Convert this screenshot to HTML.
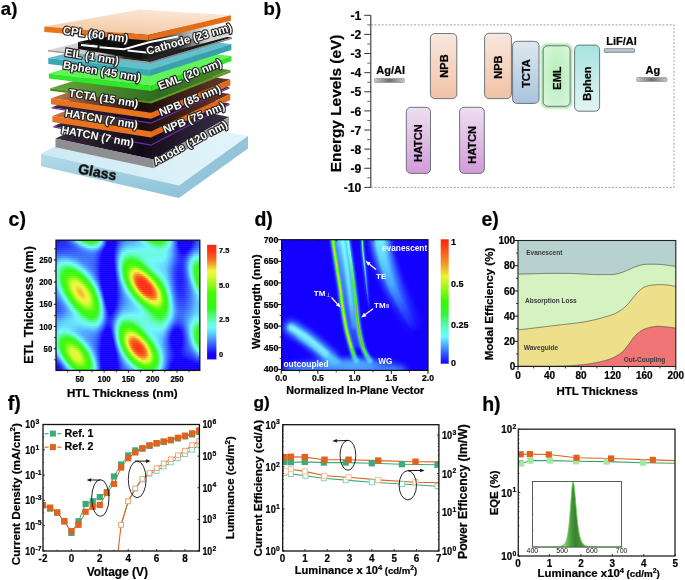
<!DOCTYPE html>
<html><head><meta charset="utf-8"><title>OLED figure</title>
<style>html,body{margin:0;padding:0;background:#fff;overflow:hidden}svg{display:block}text[font-weight="bold"]:not([stroke]):not([fill]){stroke:#000;stroke-width:0.22px}</style>
</head><body>
<svg width="685" height="580" viewBox="0 0 685 580" font-family="'Liberation Sans', Arial, sans-serif">
<rect width="685" height="580" fill="#fff"/>
<text x="0.8" y="14.7" font-size="18.6" font-weight="bold">a)</text>
<defs>
<linearGradient id="aCPLt" x1="0" y1="1" x2="0.3" y2="0"><stop offset="0" stop-color="#f4c49c"/><stop offset="1" stop-color="#fbe4d2"/></linearGradient>
<linearGradient id="aEIL" x1="0" y1="0" x2="1" y2="0"><stop offset="0" stop-color="#dcdcdc"/><stop offset="0.3" stop-color="#c4c4c4"/><stop offset="0.42" stop-color="#2a2a2a"/><stop offset="1" stop-color="#151515"/></linearGradient>
<linearGradient id="aCathT" x1="0" y1="0" x2="1" y2="0"><stop offset="0" stop-color="#0a0a0a"/><stop offset="0.5" stop-color="#111"/><stop offset="0.68" stop-color="#9a9a9a"/><stop offset="0.82" stop-color="#e8e8e8"/><stop offset="1" stop-color="#f4f4f4"/></linearGradient>
<linearGradient id="aGlf" x1="0" y1="0" x2="0" y2="1"><stop offset="0" stop-color="#b2dcec"/><stop offset="1" stop-color="#8cc0d6"/></linearGradient>
<linearGradient id="aGlt" x1="0" y1="0" x2="1" y2="0"><stop offset="0" stop-color="#cde9f3"/><stop offset="1" stop-color="#e2f4fa"/></linearGradient>
<linearGradient id="aDark" x1="0" y1="0" x2="1" y2="0"><stop offset="0" stop-color="#3a2a3a"/><stop offset="0.5" stop-color="#120a18"/><stop offset="1" stop-color="#3a3048"/></linearGradient>
<linearGradient id="aCathR" x1="0" y1="0" x2="1" y2="0"><stop offset="0" stop-color="#151515"/><stop offset="0.4" stop-color="#2a2a2a"/><stop offset="0.7" stop-color="#cfcfcf"/><stop offset="1" stop-color="#e0e0e0"/></linearGradient>
<linearGradient id="aTCTAt" x1="0" y1="0" x2="1" y2="0"><stop offset="0" stop-color="#6aa83a"/><stop offset="0.6" stop-color="#2f6a20"/><stop offset="1" stop-color="#4f8a2a"/></linearGradient>
<linearGradient id="aNPBt" x1="0" y1="0" x2="1" y2="0"><stop offset="0" stop-color="#c87a4a"/><stop offset="0.5" stop-color="#1a0c08"/><stop offset="1" stop-color="#6a3a28"/></linearGradient>
</defs>
<polygon points="41.2,153.7 118,112 248,136.1 179,185.5" fill="url(#aGlt)"/><polygon points="41.2,153.7 179,185.5 179,198 41.2,166.2" fill="url(#aGlf)"/><polygon points="179,185.5 248,136.1 248,148.6 179,198" fill="#93c4da"/>
<polygon points="55.5,138.5 142.9,98.5 229,117 153.6,159.5" fill="url(#aDark)"/><polygon points="55.5,138.5 153.6,159.5 153.6,168.3 55.5,147.3" fill="#8e8e92"/><polygon points="153.6,159.5 229,117 229,125.8 153.6,168.3" fill="#9c9ca2"/>
<polygon points="53.3,126.2 143.8,87.8 229.5,103.6 151,144.5" fill="url(#aDark)"/><polygon points="53.3,126.2 151,144.5 151,145.8 53.3,127.5" fill="#6a2cb4"/><polygon points="151,144.5 229.5,103.6 229.5,104.9 151,145.8" fill="#6a2cb4"/>
<polygon points="52.4,115.9 143.7,81.1 230.3,94.1 151,131.4" fill="url(#aNPBt)"/><polygon points="52.4,115.9 151,131.4 151,137.4 52.4,121.9" fill="#e8721f"/><polygon points="151,131.4 230.3,94.1 230.3,100.1 151,137.4" fill="#e06a1a"/>
<polygon points="51.6,107.2 142.1,74.4 229.5,87.2 151,122.5" fill="url(#aDark)"/><polygon points="51.6,107.2 151,122.5 151,123.8 51.6,108.5" fill="#6a2cb4"/><polygon points="151,122.5 229.5,87.2 229.5,88.5 151,123.8" fill="#6a2cb4"/>
<polygon points="51,98.3 142.3,67.5 230.3,79.5 151,112.8" fill="url(#aNPBt)"/><polygon points="51,98.3 151,112.8 151,118.8 51,104.3" fill="#e8721f"/><polygon points="151,112.8 230.3,79.5 230.3,85.5 151,118.8" fill="#e06a1a"/>
<polygon points="50.2,88.2 141.7,59.7 230.5,70 151,101" fill="url(#aTCTAt)"/><polygon points="50.2,88.2 151,101 151,103.6 50.2,90.8" fill="#4d8c22"/><polygon points="151,101 230.5,70 230.5,72.6 151,103.6" fill="#5a9a26"/>
<polygon points="48.9,73.5 140.9,46 231.4,56 151.4,86" fill="#62f25a"/><polygon points="48.9,73.5 151.4,86 151.4,91 48.9,78.5" fill="#30e82a"/><polygon points="151.4,86 231.4,56 231.4,61 151.4,91" fill="#2ee02a"/>
<polygon points="48.3,58 142,34.5 231.4,44 149.7,70" fill="#63bfcb"/><polygon points="48.3,58 149.7,70 149.7,76 48.3,64" fill="#3aa6b6"/><polygon points="149.7,70 231.4,44 231.4,50 149.7,76" fill="#39a0b0"/>
<polygon points="47.9,50 141.9,28 232,37.5 150,62" fill="url(#aEIL)"/><polygon points="47.9,50 150,62 150,63.5 47.9,51.5" fill="#9a9a9a"/><polygon points="150,62 232,37.5 232,39 150,63.5" fill="#888"/>
<polygon points="78,42 181,20.5 233,28.5 142,52.5" fill="url(#aCathT)"/><polygon points="78,42 142,52.5 142,59.5 78,49" fill="#111"/><polygon points="142,52.5 233,28.5 233,35.5 142,59.5" fill="url(#aCathR)"/>
<polyline points="81,45 97.5,46.6" fill="none" stroke="#fff" stroke-width="2.2" />
<polyline points="99.5,47.2 124,49.3 150,42 178,36.5" fill="none" stroke="#fff" stroke-width="2" />
<polyline points="127.5,50.6 146.5,52.6 175,45.3" fill="none" stroke="#f4f4f4" stroke-width="2" />
<polygon points="44.3,26.5 140.4,9.5 230.9,15.2 148.4,35" fill="url(#aCPLt)"/><polygon points="44.3,26.5 148.4,35 148.4,40.5 44.3,32" fill="#e8731e"/><polygon points="148.4,35 230.9,15.2 230.9,20.7 148.4,40.5" fill="#e46c18"/>
<text x="62.5" y="34" font-size="11.3" font-weight="bold" fill="#fff" stroke="#222" stroke-width="2.2" stroke-linejoin="round" paint-order="stroke" transform="rotate(7.5 62.5 34)">CPL (60 nm)</text>
<text x="147.5" y="55" font-size="11.3" font-weight="bold" fill="#fff" stroke="#222" stroke-width="2.2" stroke-linejoin="round" paint-order="stroke" transform="rotate(-16 147.5 55)">Cathode (23 nm)</text>
<text x="64.5" y="56" font-size="11.3" font-weight="bold" fill="#fff" stroke="#222" stroke-width="2.2" stroke-linejoin="round" paint-order="stroke" transform="rotate(9 64.5 56)">EIL (1 nm)</text>
<text x="62.5" y="68.5" font-size="11.3" font-weight="bold" fill="#fff" stroke="#222" stroke-width="2.2" stroke-linejoin="round" paint-order="stroke" transform="rotate(9.5 62.5 68.5)">Bphen (45 nm)</text>
<text x="160" y="90" font-size="11.3" font-weight="bold" fill="#fff" stroke="#222" stroke-width="2.2" stroke-linejoin="round" paint-order="stroke" transform="rotate(-21 160 90)">EML (20 nm)</text>
<text x="68.3" y="96.4" font-size="11" font-weight="bold" fill="#fff" stroke="#222" stroke-width="2.2" stroke-linejoin="round" paint-order="stroke" transform="rotate(9 68.3 96.4)">TCTA (15 nm)</text>
<text x="161" y="116.3" font-size="11" font-weight="bold" fill="#fff" stroke="#222" stroke-width="2.2" stroke-linejoin="round" paint-order="stroke" transform="rotate(-22 161 116.3)">NPB (85 nm)</text>
<text x="64.5" y="116.5" font-size="11" font-weight="bold" fill="#fff" stroke="#222" stroke-width="2.2" stroke-linejoin="round" paint-order="stroke" transform="rotate(9.5 64.5 116.5)">HATCN (7 nm)</text>
<text x="165" y="133.5" font-size="11" font-weight="bold" fill="#fff" stroke="#222" stroke-width="2.2" stroke-linejoin="round" paint-order="stroke" transform="rotate(-22 165 133.5)">NPB (75 nm)</text>
<text x="60.7" y="133.3" font-size="11" font-weight="bold" fill="#fff" stroke="#222" stroke-width="2.2" stroke-linejoin="round" paint-order="stroke" transform="rotate(10.5 60.7 133.3)">HATCN (7 nm)</text>
<text x="155.5" y="165.5" font-size="11" font-weight="bold" fill="#fff" stroke="#222" stroke-width="2.2" stroke-linejoin="round" paint-order="stroke" transform="rotate(-28 155.5 165.5)">Anode (120 nm)</text>
<text x="77.5" y="173.2" font-size="14.2" font-weight="bold" fill="#111" stroke="#666" stroke-width="0.9" stroke-linejoin="round" paint-order="stroke" transform="rotate(11 77.5 173.2)">Glass</text>
<text x="263.6" y="14.8" font-size="18.6" font-weight="bold">b)</text>
<path d="M370.8 24.86 H674 V187.38 H370.8" fill="none" stroke="#7a8a99" stroke-width="0.8" stroke-dasharray="2 1.6"/>
<line x1="370.8" y1="15.3" x2="370.8" y2="187.38" stroke="#333" stroke-width="1.1" />
<line x1="364.3" y1="15.3" x2="370.8" y2="15.3" stroke="#333" stroke-width="1" />
<text x="361.4" y="19.9" font-size="13.4" font-weight="bold" text-anchor="end" textLength="10.84" lengthAdjust="spacingAndGlyphs">-1</text>
<line x1="367.3" y1="24.86" x2="370.8" y2="24.86" stroke="#555" stroke-width="0.9" />
<line x1="364.3" y1="34.42" x2="370.8" y2="34.42" stroke="#333" stroke-width="1" />
<text x="361.4" y="39.02" font-size="13.4" font-weight="bold" text-anchor="end" textLength="10.84" lengthAdjust="spacingAndGlyphs">-2</text>
<line x1="367.3" y1="43.98" x2="370.8" y2="43.98" stroke="#555" stroke-width="0.9" />
<line x1="364.3" y1="53.54" x2="370.8" y2="53.54" stroke="#333" stroke-width="1" />
<text x="361.4" y="58.14" font-size="13.4" font-weight="bold" text-anchor="end" textLength="10.84" lengthAdjust="spacingAndGlyphs">-3</text>
<line x1="367.3" y1="63.1" x2="370.8" y2="63.1" stroke="#555" stroke-width="0.9" />
<line x1="364.3" y1="72.66" x2="370.8" y2="72.66" stroke="#333" stroke-width="1" />
<text x="361.4" y="77.26" font-size="13.4" font-weight="bold" text-anchor="end" textLength="10.84" lengthAdjust="spacingAndGlyphs">-4</text>
<line x1="367.3" y1="82.22" x2="370.8" y2="82.22" stroke="#555" stroke-width="0.9" />
<line x1="364.3" y1="91.78" x2="370.8" y2="91.78" stroke="#333" stroke-width="1" />
<text x="361.4" y="96.38" font-size="13.4" font-weight="bold" text-anchor="end" textLength="10.84" lengthAdjust="spacingAndGlyphs">-5</text>
<line x1="367.3" y1="101.34" x2="370.8" y2="101.34" stroke="#555" stroke-width="0.9" />
<line x1="364.3" y1="110.9" x2="370.8" y2="110.9" stroke="#333" stroke-width="1" />
<text x="361.4" y="115.5" font-size="13.4" font-weight="bold" text-anchor="end" textLength="10.84" lengthAdjust="spacingAndGlyphs">-6</text>
<line x1="367.3" y1="120.46" x2="370.8" y2="120.46" stroke="#555" stroke-width="0.9" />
<line x1="364.3" y1="130.02" x2="370.8" y2="130.02" stroke="#333" stroke-width="1" />
<text x="361.4" y="134.62" font-size="13.4" font-weight="bold" text-anchor="end" textLength="10.84" lengthAdjust="spacingAndGlyphs">-7</text>
<line x1="367.3" y1="139.58" x2="370.8" y2="139.58" stroke="#555" stroke-width="0.9" />
<line x1="364.3" y1="149.14" x2="370.8" y2="149.14" stroke="#333" stroke-width="1" />
<text x="361.4" y="153.74" font-size="13.4" font-weight="bold" text-anchor="end" textLength="10.84" lengthAdjust="spacingAndGlyphs">-8</text>
<line x1="367.3" y1="158.7" x2="370.8" y2="158.7" stroke="#555" stroke-width="0.9" />
<line x1="364.3" y1="168.26" x2="370.8" y2="168.26" stroke="#333" stroke-width="1" />
<text x="361.4" y="172.86" font-size="13.4" font-weight="bold" text-anchor="end" textLength="10.84" lengthAdjust="spacingAndGlyphs">-9</text>
<line x1="367.3" y1="177.82" x2="370.8" y2="177.82" stroke="#555" stroke-width="0.9" />
<line x1="364.3" y1="187.38" x2="370.8" y2="187.38" stroke="#333" stroke-width="1" />
<text x="361.4" y="191.98" font-size="13.4" font-weight="bold" text-anchor="end" textLength="17.62" lengthAdjust="spacingAndGlyphs">-10</text>
<text x="341" y="103.4" font-size="15.4" font-weight="bold" text-anchor="middle" transform="rotate(-90 341 103.4)">Energy Levels (eV)</text>
<defs>
<linearGradient id="gNPB" x1="0" y1="0" x2="0" y2="1"><stop offset="0" stop-color="#f9e7de"/><stop offset="1" stop-color="#f2c2a6"/></linearGradient>
<linearGradient id="gHAT" x1="0" y1="0" x2="0" y2="1"><stop offset="0" stop-color="#ede0f1"/><stop offset="1" stop-color="#d39bd9"/></linearGradient>
<linearGradient id="gTCTA" x1="0" y1="0" x2="0" y2="1"><stop offset="0" stop-color="#dfe8f0"/><stop offset="1" stop-color="#a8c4dc"/></linearGradient>
<radialGradient id="gEML" cx="0.5" cy="0.5" r="0.7"><stop offset="0" stop-color="#b2eeb6"/><stop offset="1" stop-color="#dcf6de"/></radialGradient>
<linearGradient id="gBph" x1="0" y1="0" x2="0" y2="1"><stop offset="0" stop-color="#a6e3df"/><stop offset="1" stop-color="#e2f5f3"/></linearGradient>
<linearGradient id="gMet" x1="0" y1="0" x2="1" y2="0"><stop offset="0" stop-color="#c9cdd0"/><stop offset="0.5" stop-color="#6c7074"/><stop offset="1" stop-color="#c9cdd0"/></linearGradient>
<linearGradient id="gLiF" x1="0" y1="0" x2="0" y2="1"><stop offset="0" stop-color="#c5d0d8"/><stop offset="1" stop-color="#a9b6c0"/></linearGradient>
<filter id="glow" x="-30%" y="-30%" width="160%" height="160%"><feGaussianBlur stdDeviation="1.2"/></filter>
</defs>
<rect x="430.4" y="33.5" width="26.4" height="65.1" rx="4.5" fill="url(#gNPB)" stroke="#5f6870" stroke-width="0.9"/><text x="447.5" y="66" font-size="11" font-weight="bold" text-anchor="middle" transform="rotate(-90 447.5 66)">NPB</text>
<rect x="406.3" y="107.3" width="24.2" height="66.1" rx="4.5" fill="url(#gHAT)" stroke="#5f6870" stroke-width="0.9"/><text x="422.3" y="143.2" font-size="11" font-weight="bold" text-anchor="middle" transform="rotate(-90 422.3 143.2)">HATCN</text>
<rect x="459.6" y="107.3" width="24.7" height="66.1" rx="4.5" fill="url(#gHAT)" stroke="#5f6870" stroke-width="0.9"/><text x="475.85" y="144.9" font-size="11" font-weight="bold" text-anchor="middle" transform="rotate(-90 475.85 144.9)">HATCN</text>
<rect x="484.6" y="33.3" width="26.8" height="65.3" rx="4.5" fill="url(#gNPB)" stroke="#5f6870" stroke-width="0.9"/><text x="501.9" y="67.1" font-size="11" font-weight="bold" text-anchor="middle" transform="rotate(-90 501.9 67.1)">NPB</text>
<rect x="512.6" y="41.3" width="26.4" height="62.1" rx="4.5" fill="url(#gTCTA)" stroke="#5f6870" stroke-width="0.9"/><text x="529.7" y="73.6" font-size="11" font-weight="bold" text-anchor="middle" transform="rotate(-90 529.7 73.6)">TCTA</text>
<rect x="542.3" y="44.9" width="28.7" height="62.3" rx="5" fill="none" stroke="#8fe28f" stroke-width="2.2" filter="url(#glow)"/>
<rect x="543.2" y="45.8" width="26.9" height="60.5" rx="4.5" fill="url(#gEML)" stroke="#5f6870" stroke-width="0.9"/><text x="560.55" y="78" font-size="11" font-weight="bold" text-anchor="middle" transform="rotate(-90 560.55 78)">EML</text>
<rect x="574.6" y="45.1" width="25" height="66.1" rx="4.5" fill="url(#gBph)" stroke="#5f6870" stroke-width="0.9"/><text x="591" y="83.5" font-size="11" font-weight="bold" text-anchor="middle" transform="rotate(-90 591 83.5)">Bphen</text>
<rect x="374.4" y="78.6" width="30" height="3.8" rx="1" fill="url(#gMet)" stroke="#6a737a" stroke-width="0.5"/>
<text x="376.3" y="73.5" font-size="11" font-weight="bold">Ag/Al</text>
<rect x="604.2" y="48.6" width="30.4" height="3.8" rx="1" fill="url(#gLiF)" stroke="#5a6670" stroke-width="0.6"/>
<text x="606.2" y="45.3" font-size="11" font-weight="bold">LiF/Al</text>
<rect x="636.7" y="77.6" width="30.3" height="3.8" rx="1" fill="url(#gMet)" stroke="#6a737a" stroke-width="0.5"/>
<text x="645.5" y="74.1" font-size="11" font-weight="bold">Ag</text>
<text x="8.6" y="225.8" font-size="19.5" font-weight="bold">c)</text>
<defs>
<linearGradient id="hc0" x1="0" x2="1" y1="0" y2="0"><stop offset="0.000" stop-color="#1f1fff"/><stop offset="0.058" stop-color="#242dff"/><stop offset="0.089" stop-color="#3150ff"/><stop offset="0.115" stop-color="#478fff"/><stop offset="0.147" stop-color="#6df6fc"/><stop offset="0.168" stop-color="#5ffaaf"/><stop offset="0.188" stop-color="#40f84d"/><stop offset="0.204" stop-color="#33f817"/><stop offset="0.257" stop-color="#37f910"/><stop offset="0.272" stop-color="#32f814"/><stop offset="0.288" stop-color="#43f858"/><stop offset="0.309" stop-color="#69fade"/><stop offset="0.314" stop-color="#6ef9fc"/><stop offset="0.325" stop-color="#5bc3ff"/><stop offset="0.346" stop-color="#2839ff"/><stop offset="0.356" stop-color="#1503ff"/><stop offset="0.414" stop-color="#1400ff"/><stop offset="0.455" stop-color="#3a6bff"/><stop offset="0.487" stop-color="#4993ff"/><stop offset="0.555" stop-color="#55b4ff"/><stop offset="0.602" stop-color="#6dfaf7"/><stop offset="0.623" stop-color="#61fab5"/><stop offset="0.649" stop-color="#3ef843"/><stop offset="0.665" stop-color="#33f814"/><stop offset="0.728" stop-color="#38f910"/><stop offset="0.743" stop-color="#33f813"/><stop offset="0.754" stop-color="#39f832"/><stop offset="0.770" stop-color="#4ef97b"/><stop offset="0.785" stop-color="#67fad1"/><stop offset="0.796" stop-color="#6df8fc"/><stop offset="0.812" stop-color="#57b9ff"/><stop offset="0.843" stop-color="#2227ff"/><stop offset="0.853" stop-color="#1400ff"/><stop offset="0.948" stop-color="#1504ff"/><stop offset="0.979" stop-color="#2f4bff"/><stop offset="1.000" stop-color="#365fff"/></linearGradient>
<linearGradient id="hc1" x1="0" x2="1" y1="0" y2="0"><stop offset="0.000" stop-color="#1f20ff"/><stop offset="0.068" stop-color="#252fff"/><stop offset="0.099" stop-color="#304fff"/><stop offset="0.126" stop-color="#4385ff"/><stop offset="0.162" stop-color="#6bf0fd"/><stop offset="0.168" stop-color="#6dfaf8"/><stop offset="0.194" stop-color="#5af99f"/><stop offset="0.215" stop-color="#43f859"/><stop offset="0.236" stop-color="#3af835"/><stop offset="0.251" stop-color="#39f831"/><stop offset="0.267" stop-color="#3ff846"/><stop offset="0.283" stop-color="#4df879"/><stop offset="0.304" stop-color="#6afae2"/><stop offset="0.309" stop-color="#6efafc"/><stop offset="0.319" stop-color="#5fcdff"/><stop offset="0.346" stop-color="#242eff"/><stop offset="0.356" stop-color="#1400ff"/><stop offset="0.414" stop-color="#1503ff"/><stop offset="0.450" stop-color="#3b6dff"/><stop offset="0.476" stop-color="#4b99ff"/><stop offset="0.524" stop-color="#55b3ff"/><stop offset="0.576" stop-color="#5fccff"/><stop offset="0.613" stop-color="#6ef9fc"/><stop offset="0.639" stop-color="#64fabe"/><stop offset="0.670" stop-color="#41f850"/><stop offset="0.696" stop-color="#34f81b"/><stop offset="0.723" stop-color="#32f815"/><stop offset="0.743" stop-color="#3bf837"/><stop offset="0.759" stop-color="#47f867"/><stop offset="0.785" stop-color="#69fadb"/><stop offset="0.796" stop-color="#6cf3fc"/><stop offset="0.812" stop-color="#57b8ff"/><stop offset="0.848" stop-color="#1c16ff"/><stop offset="0.853" stop-color="#1503ff"/><stop offset="0.942" stop-color="#1400ff"/><stop offset="0.979" stop-color="#3152ff"/><stop offset="1.000" stop-color="#3865ff"/></linearGradient>
<linearGradient id="hc2" x1="0" x2="1" y1="0" y2="0"><stop offset="0.000" stop-color="#2124ff"/><stop offset="0.073" stop-color="#2632ff"/><stop offset="0.115" stop-color="#3355ff"/><stop offset="0.147" stop-color="#4891ff"/><stop offset="0.178" stop-color="#65e0fe"/><stop offset="0.194" stop-color="#6dfaf5"/><stop offset="0.236" stop-color="#5af9a0"/><stop offset="0.251" stop-color="#57f996"/><stop offset="0.267" stop-color="#5bf9a4"/><stop offset="0.293" stop-color="#6bfae9"/><stop offset="0.298" stop-color="#6efafc"/><stop offset="0.314" stop-color="#5abfff"/><stop offset="0.346" stop-color="#1c18ff"/><stop offset="0.351" stop-color="#1401ff"/><stop offset="0.408" stop-color="#1400ff"/><stop offset="0.450" stop-color="#407cff"/><stop offset="0.476" stop-color="#52abff"/><stop offset="0.518" stop-color="#5cc5ff"/><stop offset="0.602" stop-color="#66e1fe"/><stop offset="0.628" stop-color="#6efafa"/><stop offset="0.665" stop-color="#60fab3"/><stop offset="0.696" stop-color="#49f86c"/><stop offset="0.717" stop-color="#44f85c"/><stop offset="0.738" stop-color="#48f86a"/><stop offset="0.759" stop-color="#59f99c"/><stop offset="0.785" stop-color="#6cfaef"/><stop offset="0.791" stop-color="#6df6fc"/><stop offset="0.806" stop-color="#5dc7ff"/><stop offset="0.848" stop-color="#1e1bff"/><stop offset="0.859" stop-color="#1400ff"/><stop offset="0.937" stop-color="#1400ff"/><stop offset="0.974" stop-color="#3255ff"/><stop offset="0.995" stop-color="#3a6cff"/><stop offset="1.000" stop-color="#3b6dff"/></linearGradient>
<linearGradient id="hc3" x1="0" x2="1" y1="0" y2="0"><stop offset="0.000" stop-color="#232bff"/><stop offset="0.089" stop-color="#293cff"/><stop offset="0.136" stop-color="#3761ff"/><stop offset="0.178" stop-color="#51a8ff"/><stop offset="0.204" stop-color="#63dafe"/><stop offset="0.230" stop-color="#6efafc"/><stop offset="0.257" stop-color="#6cfaef"/><stop offset="0.277" stop-color="#6df6fc"/><stop offset="0.298" stop-color="#5eccff"/><stop offset="0.340" stop-color="#1a10ff"/><stop offset="0.346" stop-color="#1400ff"/><stop offset="0.408" stop-color="#1503ff"/><stop offset="0.445" stop-color="#4280ff"/><stop offset="0.471" stop-color="#58baff"/><stop offset="0.497" stop-color="#61d2ff"/><stop offset="0.623" stop-color="#6bf1fd"/><stop offset="0.644" stop-color="#6dfaf6"/><stop offset="0.712" stop-color="#5dfaa9"/><stop offset="0.733" stop-color="#5dfaaa"/><stop offset="0.770" stop-color="#6afae0"/><stop offset="0.780" stop-color="#6dfaf9"/><stop offset="0.801" stop-color="#5fcdff"/><stop offset="0.853" stop-color="#1a10ff"/><stop offset="0.859" stop-color="#1400ff"/><stop offset="0.932" stop-color="#1400ff"/><stop offset="0.969" stop-color="#355cff"/><stop offset="0.990" stop-color="#3e76ff"/><stop offset="1.000" stop-color="#3f79ff"/></linearGradient>
<linearGradient id="hc4" x1="0" x2="1" y1="0" y2="0"><stop offset="0.000" stop-color="#2736ff"/><stop offset="0.105" stop-color="#2e48ff"/><stop offset="0.162" stop-color="#3c6fff"/><stop offset="0.241" stop-color="#5fcdff"/><stop offset="0.267" stop-color="#5fccff"/><stop offset="0.288" stop-color="#52abff"/><stop offset="0.314" stop-color="#3357ff"/><stop offset="0.335" stop-color="#1504ff"/><stop offset="0.403" stop-color="#1400ff"/><stop offset="0.414" stop-color="#1f1fff"/><stop offset="0.445" stop-color="#4993ff"/><stop offset="0.466" stop-color="#5ec9ff"/><stop offset="0.497" stop-color="#67e5fd"/><stop offset="0.644" stop-color="#6dfaf7"/><stop offset="0.717" stop-color="#67fad1"/><stop offset="0.749" stop-color="#69fadd"/><stop offset="0.775" stop-color="#6cf5fc"/><stop offset="0.801" stop-color="#5ac0ff"/><stop offset="0.859" stop-color="#180aff"/><stop offset="0.864" stop-color="#1400ff"/><stop offset="0.921" stop-color="#1400ff"/><stop offset="0.969" stop-color="#3d73ff"/><stop offset="0.990" stop-color="#4588ff"/><stop offset="1.000" stop-color="#4588ff"/></linearGradient>
<linearGradient id="hc5" x1="0" x2="1" y1="0" y2="0"><stop offset="0.000" stop-color="#2c44ff"/><stop offset="0.136" stop-color="#3459ff"/><stop offset="0.246" stop-color="#4c9bff"/><stop offset="0.272" stop-color="#4891ff"/><stop offset="0.293" stop-color="#3b6dff"/><stop offset="0.330" stop-color="#1400ff"/><stop offset="0.403" stop-color="#1400ff"/><stop offset="0.450" stop-color="#57b9ff"/><stop offset="0.466" stop-color="#64ddfe"/><stop offset="0.497" stop-color="#6efafa"/><stop offset="0.555" stop-color="#6cfaf2"/><stop offset="0.660" stop-color="#6bfaeb"/><stop offset="0.728" stop-color="#6afae0"/><stop offset="0.764" stop-color="#6df8fc"/><stop offset="0.796" stop-color="#5dc8ff"/><stop offset="0.859" stop-color="#1c15ff"/><stop offset="0.869" stop-color="#1401ff"/><stop offset="0.911" stop-color="#1605ff"/><stop offset="0.963" stop-color="#4487ff"/><stop offset="0.984" stop-color="#4ea1ff"/><stop offset="1.000" stop-color="#4d9eff"/></linearGradient>
<linearGradient id="hc6" x1="0" x2="1" y1="0" y2="0"><stop offset="0.000" stop-color="#3356ff"/><stop offset="0.094" stop-color="#355dff"/><stop offset="0.183" stop-color="#3b6cff"/><stop offset="0.251" stop-color="#417eff"/><stop offset="0.277" stop-color="#3b6cff"/><stop offset="0.304" stop-color="#2736ff"/><stop offset="0.319" stop-color="#1606ff"/><stop offset="0.340" stop-color="#1400ff"/><stop offset="0.403" stop-color="#1502ff"/><stop offset="0.445" stop-color="#59bdff"/><stop offset="0.461" stop-color="#68e7fd"/><stop offset="0.471" stop-color="#6efafc"/><stop offset="0.497" stop-color="#69fadb"/><stop offset="0.539" stop-color="#68fad5"/><stop offset="0.628" stop-color="#6bfae8"/><stop offset="0.723" stop-color="#6afae2"/><stop offset="0.764" stop-color="#6cf4fc"/><stop offset="0.796" stop-color="#5cc5ff"/><stop offset="0.853" stop-color="#232aff"/><stop offset="0.874" stop-color="#1709ff"/><stop offset="0.895" stop-color="#1709ff"/><stop offset="0.916" stop-color="#242dff"/><stop offset="0.963" stop-color="#53adff"/><stop offset="0.984" stop-color="#5bc4ff"/><stop offset="1.000" stop-color="#58bcff"/></linearGradient>
<linearGradient id="hc7" x1="0" x2="1" y1="0" y2="0"><stop offset="0.000" stop-color="#3a6bff"/><stop offset="0.058" stop-color="#3f79ff"/><stop offset="0.162" stop-color="#3a6aff"/><stop offset="0.251" stop-color="#3d72ff"/><stop offset="0.277" stop-color="#355dff"/><stop offset="0.304" stop-color="#2228ff"/><stop offset="0.319" stop-color="#1400ff"/><stop offset="0.398" stop-color="#1400ff"/><stop offset="0.403" stop-color="#1606ff"/><stop offset="0.445" stop-color="#60d0ff"/><stop offset="0.461" stop-color="#6efafc"/><stop offset="0.487" stop-color="#65fac5"/><stop offset="0.513" stop-color="#5dfaaa"/><stop offset="0.545" stop-color="#61fab4"/><stop offset="0.613" stop-color="#6afae0"/><stop offset="0.691" stop-color="#6afae1"/><stop offset="0.738" stop-color="#6bfaea"/><stop offset="0.764" stop-color="#6bf2fd"/><stop offset="0.796" stop-color="#5bc2ff"/><stop offset="0.853" stop-color="#2631ff"/><stop offset="0.874" stop-color="#1c16ff"/><stop offset="0.895" stop-color="#1f1eff"/><stop offset="0.916" stop-color="#2e4aff"/><stop offset="0.958" stop-color="#5ecbff"/><stop offset="0.979" stop-color="#66e3fe"/><stop offset="1.000" stop-color="#64dbfe"/></linearGradient>
<linearGradient id="hc8" x1="0" x2="1" y1="0" y2="0"><stop offset="0.000" stop-color="#4282ff"/><stop offset="0.052" stop-color="#4c9aff"/><stop offset="0.115" stop-color="#4383ff"/><stop offset="0.178" stop-color="#3c71ff"/><stop offset="0.251" stop-color="#3b6eff"/><stop offset="0.283" stop-color="#304fff"/><stop offset="0.309" stop-color="#1a12ff"/><stop offset="0.314" stop-color="#1503ff"/><stop offset="0.398" stop-color="#1400ff"/><stop offset="0.403" stop-color="#1708ff"/><stop offset="0.440" stop-color="#5ecaff"/><stop offset="0.455" stop-color="#6dfaf7"/><stop offset="0.492" stop-color="#53f98b"/><stop offset="0.513" stop-color="#4af871"/><stop offset="0.539" stop-color="#4df878"/><stop offset="0.597" stop-color="#66facc"/><stop offset="0.639" stop-color="#6bfae7"/><stop offset="0.728" stop-color="#6bfaea"/><stop offset="0.759" stop-color="#6cf4fc"/><stop offset="0.791" stop-color="#5dc8ff"/><stop offset="0.848" stop-color="#2a3eff"/><stop offset="0.869" stop-color="#2023ff"/><stop offset="0.890" stop-color="#2329ff"/><stop offset="0.911" stop-color="#3255ff"/><stop offset="0.948" stop-color="#61d3ff"/><stop offset="0.969" stop-color="#6efafb"/><stop offset="0.984" stop-color="#6cfaef"/><stop offset="1.000" stop-color="#6efafb"/></linearGradient>
<linearGradient id="hc9" x1="0" x2="1" y1="0" y2="0"><stop offset="0.000" stop-color="#4c9bff"/><stop offset="0.047" stop-color="#5ac1ff"/><stop offset="0.084" stop-color="#58bcff"/><stop offset="0.168" stop-color="#407cff"/><stop offset="0.257" stop-color="#3a69ff"/><stop offset="0.283" stop-color="#2f4bff"/><stop offset="0.314" stop-color="#1400ff"/><stop offset="0.398" stop-color="#1400ff"/><stop offset="0.403" stop-color="#1708ff"/><stop offset="0.440" stop-color="#61d4ff"/><stop offset="0.450" stop-color="#6efafa"/><stop offset="0.471" stop-color="#5bf9a2"/><stop offset="0.487" stop-color="#47f866"/><stop offset="0.508" stop-color="#3cf83d"/><stop offset="0.529" stop-color="#3af835"/><stop offset="0.555" stop-color="#42f852"/><stop offset="0.607" stop-color="#66fac9"/><stop offset="0.644" stop-color="#6cfaed"/><stop offset="0.733" stop-color="#6dfaf5"/><stop offset="0.754" stop-color="#6bf2fd"/><stop offset="0.785" stop-color="#5ecbff"/><stop offset="0.843" stop-color="#2d46ff"/><stop offset="0.869" stop-color="#2228ff"/><stop offset="0.890" stop-color="#2735ff"/><stop offset="0.911" stop-color="#3a6aff"/><stop offset="0.942" stop-color="#65dffe"/><stop offset="0.953" stop-color="#6efafb"/><stop offset="0.974" stop-color="#66facb"/><stop offset="0.990" stop-color="#65fac4"/><stop offset="1.000" stop-color="#67facf"/></linearGradient>
<linearGradient id="hc10" x1="0" x2="1" y1="0" y2="0"><stop offset="0.000" stop-color="#55b4ff"/><stop offset="0.031" stop-color="#63d9fe"/><stop offset="0.073" stop-color="#67e5fd"/><stop offset="0.115" stop-color="#5fccff"/><stop offset="0.173" stop-color="#4589ff"/><stop offset="0.262" stop-color="#3864ff"/><stop offset="0.288" stop-color="#2b3fff"/><stop offset="0.314" stop-color="#1400ff"/><stop offset="0.403" stop-color="#1605ff"/><stop offset="0.440" stop-color="#64dbfe"/><stop offset="0.445" stop-color="#6bf1fd"/><stop offset="0.455" stop-color="#68fad4"/><stop offset="0.476" stop-color="#46f863"/><stop offset="0.497" stop-color="#34f81a"/><stop offset="0.518" stop-color="#36f811"/><stop offset="0.555" stop-color="#32f814"/><stop offset="0.581" stop-color="#42f856"/><stop offset="0.613" stop-color="#64fabd"/><stop offset="0.644" stop-color="#6cfaef"/><stop offset="0.675" stop-color="#6ef9fc"/><stop offset="0.738" stop-color="#6cf5fc"/><stop offset="0.775" stop-color="#61d3ff"/><stop offset="0.843" stop-color="#2b41ff"/><stop offset="0.864" stop-color="#242cff"/><stop offset="0.885" stop-color="#2735ff"/><stop offset="0.901" stop-color="#3357ff"/><stop offset="0.921" stop-color="#50a5ff"/><stop offset="0.937" stop-color="#67e4fd"/><stop offset="0.942" stop-color="#6cf5fc"/><stop offset="0.974" stop-color="#57f996"/><stop offset="0.990" stop-color="#51f986"/><stop offset="1.000" stop-color="#55f992"/></linearGradient>
<linearGradient id="hc11" x1="0" x2="1" y1="0" y2="0"><stop offset="0.000" stop-color="#5fccff"/><stop offset="0.037" stop-color="#6ef9fc"/><stop offset="0.068" stop-color="#6bfae9"/><stop offset="0.099" stop-color="#6dfaf7"/><stop offset="0.136" stop-color="#62d7fe"/><stop offset="0.188" stop-color="#478eff"/><stop offset="0.267" stop-color="#365fff"/><stop offset="0.293" stop-color="#2632ff"/><stop offset="0.314" stop-color="#1400ff"/><stop offset="0.403" stop-color="#1400ff"/><stop offset="0.429" stop-color="#4ea2ff"/><stop offset="0.440" stop-color="#65e0fe"/><stop offset="0.445" stop-color="#6df8fc"/><stop offset="0.455" stop-color="#65fac7"/><stop offset="0.476" stop-color="#3ef842"/><stop offset="0.487" stop-color="#32f814"/><stop offset="0.545" stop-color="#3ef90b"/><stop offset="0.581" stop-color="#32f814"/><stop offset="0.623" stop-color="#62fab8"/><stop offset="0.649" stop-color="#6cfaf0"/><stop offset="0.665" stop-color="#6df7fc"/><stop offset="0.743" stop-color="#69eafd"/><stop offset="0.775" stop-color="#5ecaff"/><stop offset="0.838" stop-color="#2c43ff"/><stop offset="0.864" stop-color="#232aff"/><stop offset="0.885" stop-color="#2839ff"/><stop offset="0.901" stop-color="#365fff"/><stop offset="0.921" stop-color="#55b4ff"/><stop offset="0.937" stop-color="#6cf4fc"/><stop offset="0.953" stop-color="#64fac0"/><stop offset="0.969" stop-color="#4bf873"/><stop offset="0.979" stop-color="#42f855"/><stop offset="0.995" stop-color="#40f84c"/><stop offset="1.000" stop-color="#41f851"/></linearGradient>
<linearGradient id="hc12" x1="0" x2="1" y1="0" y2="0"><stop offset="0.000" stop-color="#64dcfe"/><stop offset="0.021" stop-color="#6dfaf6"/><stop offset="0.052" stop-color="#65fac5"/><stop offset="0.079" stop-color="#61fab5"/><stop offset="0.110" stop-color="#67facf"/><stop offset="0.136" stop-color="#6efafa"/><stop offset="0.204" stop-color="#4890ff"/><stop offset="0.272" stop-color="#3458ff"/><stop offset="0.298" stop-color="#2123ff"/><stop offset="0.309" stop-color="#1605ff"/><stop offset="0.366" stop-color="#1400ff"/><stop offset="0.403" stop-color="#1400ff"/><stop offset="0.414" stop-color="#2837ff"/><stop offset="0.435" stop-color="#5cc5ff"/><stop offset="0.445" stop-color="#6efafb"/><stop offset="0.455" stop-color="#64fabd"/><stop offset="0.471" stop-color="#3ff846"/><stop offset="0.476" stop-color="#36f826"/><stop offset="0.482" stop-color="#34f813"/><stop offset="0.529" stop-color="#4dfa07"/><stop offset="0.550" stop-color="#4bfa06"/><stop offset="0.597" stop-color="#34f812"/><stop offset="0.602" stop-color="#34f81b"/><stop offset="0.639" stop-color="#65fac4"/><stop offset="0.665" stop-color="#6efafa"/><stop offset="0.707" stop-color="#69ebfd"/><stop offset="0.749" stop-color="#65e0fe"/><stop offset="0.775" stop-color="#5ac0ff"/><stop offset="0.832" stop-color="#2c44ff"/><stop offset="0.859" stop-color="#2228ff"/><stop offset="0.880" stop-color="#2631ff"/><stop offset="0.895" stop-color="#3152ff"/><stop offset="0.911" stop-color="#458aff"/><stop offset="0.932" stop-color="#69eafd"/><stop offset="0.937" stop-color="#6dfaf6"/><stop offset="0.948" stop-color="#65fac3"/><stop offset="0.963" stop-color="#46f863"/><stop offset="0.979" stop-color="#37f828"/><stop offset="0.995" stop-color="#32f816"/><stop offset="1.000" stop-color="#33f819"/></linearGradient>
<linearGradient id="hc13" x1="0" x2="1" y1="0" y2="0"><stop offset="0.000" stop-color="#68e9fd"/><stop offset="0.010" stop-color="#6dfaf7"/><stop offset="0.058" stop-color="#50f983"/><stop offset="0.079" stop-color="#49f86c"/><stop offset="0.099" stop-color="#4bf874"/><stop offset="0.120" stop-color="#58f99b"/><stop offset="0.157" stop-color="#6dfaf6"/><stop offset="0.183" stop-color="#60cfff"/><stop offset="0.220" stop-color="#478fff"/><stop offset="0.272" stop-color="#3459ff"/><stop offset="0.298" stop-color="#2023ff"/><stop offset="0.309" stop-color="#1604ff"/><stop offset="0.403" stop-color="#1400ff"/><stop offset="0.408" stop-color="#1a11ff"/><stop offset="0.429" stop-color="#4c9bff"/><stop offset="0.440" stop-color="#65e0fe"/><stop offset="0.445" stop-color="#6efafa"/><stop offset="0.455" stop-color="#61fab6"/><stop offset="0.471" stop-color="#3af835"/><stop offset="0.476" stop-color="#33f814"/><stop offset="0.503" stop-color="#45fa05"/><stop offset="0.524" stop-color="#77f913"/><stop offset="0.545" stop-color="#89f818"/><stop offset="0.565" stop-color="#76f913"/><stop offset="0.586" stop-color="#45fa05"/><stop offset="0.618" stop-color="#33f816"/><stop offset="0.649" stop-color="#63fabc"/><stop offset="0.670" stop-color="#6cfaf1"/><stop offset="0.686" stop-color="#6bf2fd"/><stop offset="0.754" stop-color="#63d8fe"/><stop offset="0.775" stop-color="#58baff"/><stop offset="0.832" stop-color="#2a3dff"/><stop offset="0.859" stop-color="#2124ff"/><stop offset="0.880" stop-color="#252fff"/><stop offset="0.895" stop-color="#3151ff"/><stop offset="0.911" stop-color="#468bff"/><stop offset="0.932" stop-color="#6aeffd"/><stop offset="0.937" stop-color="#6cfaee"/><stop offset="0.948" stop-color="#60fab3"/><stop offset="0.963" stop-color="#3ff849"/><stop offset="0.974" stop-color="#33f817"/><stop offset="1.000" stop-color="#38f910"/></linearGradient>
<linearGradient id="hc14" x1="0" x2="1" y1="0" y2="0"><stop offset="0.000" stop-color="#6bf2fd"/><stop offset="0.010" stop-color="#6bfae7"/><stop offset="0.031" stop-color="#5af9a1"/><stop offset="0.052" stop-color="#43f859"/><stop offset="0.073" stop-color="#39f830"/><stop offset="0.094" stop-color="#37f826"/><stop offset="0.115" stop-color="#3cf83d"/><stop offset="0.136" stop-color="#4af871"/><stop offset="0.162" stop-color="#67face"/><stop offset="0.178" stop-color="#6efafb"/><stop offset="0.230" stop-color="#4993ff"/><stop offset="0.283" stop-color="#2e48ff"/><stop offset="0.309" stop-color="#1504ff"/><stop offset="0.403" stop-color="#1400ff"/><stop offset="0.408" stop-color="#1709ff"/><stop offset="0.429" stop-color="#4993ff"/><stop offset="0.440" stop-color="#64dcfe"/><stop offset="0.445" stop-color="#6df8fc"/><stop offset="0.455" stop-color="#61fab6"/><stop offset="0.471" stop-color="#38f82b"/><stop offset="0.476" stop-color="#34f812"/><stop offset="0.497" stop-color="#48fa05"/><stop offset="0.518" stop-color="#94f81c"/><stop offset="0.534" stop-color="#b8f928"/><stop offset="0.550" stop-color="#c6fa2c"/><stop offset="0.565" stop-color="#bbf929"/><stop offset="0.586" stop-color="#8bf819"/><stop offset="0.607" stop-color="#45fa06"/><stop offset="0.634" stop-color="#33f817"/><stop offset="0.660" stop-color="#5efaab"/><stop offset="0.670" stop-color="#67fad2"/><stop offset="0.691" stop-color="#6efafc"/><stop offset="0.759" stop-color="#60d1ff"/><stop offset="0.791" stop-color="#4993ff"/><stop offset="0.832" stop-color="#2838ff"/><stop offset="0.859" stop-color="#2021ff"/><stop offset="0.880" stop-color="#242dff"/><stop offset="0.895" stop-color="#304dff"/><stop offset="0.911" stop-color="#4488ff"/><stop offset="0.932" stop-color="#6aeffd"/><stop offset="0.937" stop-color="#6cfaed"/><stop offset="0.948" stop-color="#5efaac"/><stop offset="0.963" stop-color="#3bf839"/><stop offset="0.969" stop-color="#33f81a"/><stop offset="0.990" stop-color="#3bf90d"/><stop offset="1.000" stop-color="#3df90c"/></linearGradient>
<linearGradient id="hc15" x1="0" x2="1" y1="0" y2="0"><stop offset="0.000" stop-color="#6ef9fc"/><stop offset="0.021" stop-color="#61fab5"/><stop offset="0.042" stop-color="#42f855"/><stop offset="0.058" stop-color="#35f81e"/><stop offset="0.068" stop-color="#34f812"/><stop offset="0.131" stop-color="#33f814"/><stop offset="0.147" stop-color="#3df840"/><stop offset="0.168" stop-color="#57f998"/><stop offset="0.183" stop-color="#68fad7"/><stop offset="0.194" stop-color="#6dfaf9"/><stop offset="0.246" stop-color="#458bff"/><stop offset="0.288" stop-color="#2b3fff"/><stop offset="0.309" stop-color="#1604ff"/><stop offset="0.408" stop-color="#1400ff"/><stop offset="0.429" stop-color="#4588ff"/><stop offset="0.440" stop-color="#62d5fe"/><stop offset="0.445" stop-color="#6bf2fd"/><stop offset="0.455" stop-color="#64fabe"/><stop offset="0.471" stop-color="#38f82a"/><stop offset="0.476" stop-color="#35f812"/><stop offset="0.492" stop-color="#44fa06"/><stop offset="0.524" stop-color="#c8fa2d"/><stop offset="0.534" stop-color="#dff935"/><stop offset="0.560" stop-color="#edf639"/><stop offset="0.586" stop-color="#d8fa32"/><stop offset="0.607" stop-color="#8ff81a"/><stop offset="0.623" stop-color="#4afa06"/><stop offset="0.649" stop-color="#33f81a"/><stop offset="0.675" stop-color="#5ffab0"/><stop offset="0.691" stop-color="#6afae0"/><stop offset="0.707" stop-color="#6efafb"/><stop offset="0.764" stop-color="#5ecbff"/><stop offset="0.832" stop-color="#2734ff"/><stop offset="0.859" stop-color="#1e1dff"/><stop offset="0.880" stop-color="#2329ff"/><stop offset="0.895" stop-color="#2e49ff"/><stop offset="0.911" stop-color="#4281ff"/><stop offset="0.932" stop-color="#69eafd"/><stop offset="0.937" stop-color="#6cfaf2"/><stop offset="0.948" stop-color="#5ffaae"/><stop offset="0.963" stop-color="#3af832"/><stop offset="0.969" stop-color="#32f814"/><stop offset="1.000" stop-color="#41f909"/></linearGradient>
<linearGradient id="hc16" x1="0" x2="1" y1="0" y2="0"><stop offset="0.000" stop-color="#6efafa"/><stop offset="0.016" stop-color="#64fac1"/><stop offset="0.042" stop-color="#3bf839"/><stop offset="0.052" stop-color="#33f813"/><stop offset="0.110" stop-color="#41f909"/><stop offset="0.157" stop-color="#32f814"/><stop offset="0.178" stop-color="#4bf874"/><stop offset="0.194" stop-color="#65fac5"/><stop offset="0.209" stop-color="#6efafc"/><stop offset="0.262" stop-color="#407cff"/><stop offset="0.298" stop-color="#2226ff"/><stop offset="0.309" stop-color="#1606ff"/><stop offset="0.346" stop-color="#1400ff"/><stop offset="0.408" stop-color="#1400ff"/><stop offset="0.414" stop-color="#1b15ff"/><stop offset="0.435" stop-color="#4ea2ff"/><stop offset="0.440" stop-color="#5ecaff"/><stop offset="0.445" stop-color="#68e8fd"/><stop offset="0.450" stop-color="#6cfaee"/><stop offset="0.455" stop-color="#66fac9"/><stop offset="0.471" stop-color="#3af833"/><stop offset="0.476" stop-color="#34f812"/><stop offset="0.492" stop-color="#45fa06"/><stop offset="0.518" stop-color="#ccfa2e"/><stop offset="0.534" stop-color="#f2f63b"/><stop offset="0.555" stop-color="#f3c031"/><stop offset="0.571" stop-color="#f3bc30"/><stop offset="0.586" stop-color="#f4da36"/><stop offset="0.597" stop-color="#f0f63a"/><stop offset="0.613" stop-color="#cbfa2e"/><stop offset="0.639" stop-color="#4cfa07"/><stop offset="0.660" stop-color="#35f812"/><stop offset="0.665" stop-color="#35f820"/><stop offset="0.691" stop-color="#61fab4"/><stop offset="0.707" stop-color="#69fae0"/><stop offset="0.723" stop-color="#6efafa"/><stop offset="0.764" stop-color="#60cfff"/><stop offset="0.827" stop-color="#293bff"/><stop offset="0.853" stop-color="#1e1cff"/><stop offset="0.874" stop-color="#2021ff"/><stop offset="0.895" stop-color="#2c43ff"/><stop offset="0.911" stop-color="#3f78ff"/><stop offset="0.937" stop-color="#6efafc"/><stop offset="0.948" stop-color="#63faba"/><stop offset="0.963" stop-color="#3af836"/><stop offset="0.969" stop-color="#32f814"/><stop offset="1.000" stop-color="#43fa07"/></linearGradient>
<linearGradient id="hc17" x1="0" x2="1" y1="0" y2="0"><stop offset="0.000" stop-color="#6efafb"/><stop offset="0.016" stop-color="#64fabd"/><stop offset="0.042" stop-color="#37f827"/><stop offset="0.047" stop-color="#33f813"/><stop offset="0.094" stop-color="#4efa07"/><stop offset="0.115" stop-color="#56fa0a"/><stop offset="0.152" stop-color="#3ff90a"/><stop offset="0.173" stop-color="#34f813"/><stop offset="0.178" stop-color="#35f81f"/><stop offset="0.209" stop-color="#66faca"/><stop offset="0.220" stop-color="#6cfaf2"/><stop offset="0.230" stop-color="#67e5fd"/><stop offset="0.304" stop-color="#1d19ff"/><stop offset="0.314" stop-color="#1400ff"/><stop offset="0.408" stop-color="#1400ff"/><stop offset="0.414" stop-color="#180bff"/><stop offset="0.435" stop-color="#4891ff"/><stop offset="0.445" stop-color="#64dbfe"/><stop offset="0.450" stop-color="#6df8fc"/><stop offset="0.461" stop-color="#5ffab0"/><stop offset="0.476" stop-color="#32f814"/><stop offset="0.492" stop-color="#44fa07"/><stop offset="0.503" stop-color="#7cf814"/><stop offset="0.518" stop-color="#d7fa32"/><stop offset="0.529" stop-color="#f3f53b"/><stop offset="0.545" stop-color="#f2ab2c"/><stop offset="0.560" stop-color="#f48424"/><stop offset="0.576" stop-color="#f47b23"/><stop offset="0.592" stop-color="#f39227"/><stop offset="0.602" stop-color="#f2b22e"/><stop offset="0.613" stop-color="#f4e438"/><stop offset="0.618" stop-color="#f0f63a"/><stop offset="0.628" stop-color="#d4fa31"/><stop offset="0.654" stop-color="#49fa06"/><stop offset="0.675" stop-color="#34f813"/><stop offset="0.681" stop-color="#37f828"/><stop offset="0.702" stop-color="#5af99f"/><stop offset="0.712" stop-color="#66fac8"/><stop offset="0.738" stop-color="#6df8fc"/><stop offset="0.775" stop-color="#59bfff"/><stop offset="0.827" stop-color="#293aff"/><stop offset="0.853" stop-color="#1d1aff"/><stop offset="0.880" stop-color="#2123ff"/><stop offset="0.901" stop-color="#2f4bff"/><stop offset="0.916" stop-color="#4384ff"/><stop offset="0.937" stop-color="#6aeffd"/><stop offset="0.942" stop-color="#6bfaea"/><stop offset="0.948" stop-color="#66fac9"/><stop offset="0.969" stop-color="#34f81b"/><stop offset="0.984" stop-color="#3df90b"/><stop offset="1.000" stop-color="#44fa06"/></linearGradient>
<linearGradient id="hc18" x1="0" x2="1" y1="0" y2="0"><stop offset="0.000" stop-color="#6df7fc"/><stop offset="0.016" stop-color="#64fac0"/><stop offset="0.042" stop-color="#34f81e"/><stop offset="0.052" stop-color="#38f90f"/><stop offset="0.079" stop-color="#4dfa07"/><stop offset="0.099" stop-color="#77f913"/><stop offset="0.120" stop-color="#83f816"/><stop offset="0.141" stop-color="#6ff911"/><stop offset="0.162" stop-color="#44fa06"/><stop offset="0.188" stop-color="#34f812"/><stop offset="0.194" stop-color="#35f81f"/><stop offset="0.220" stop-color="#64fac0"/><stop offset="0.236" stop-color="#6df7fc"/><stop offset="0.314" stop-color="#1400ff"/><stop offset="0.414" stop-color="#1401ff"/><stop offset="0.435" stop-color="#4280ff"/><stop offset="0.445" stop-color="#5ecbff"/><stop offset="0.450" stop-color="#68e8fd"/><stop offset="0.455" stop-color="#6cfaef"/><stop offset="0.461" stop-color="#66faca"/><stop offset="0.476" stop-color="#39f82f"/><stop offset="0.482" stop-color="#35f812"/><stop offset="0.497" stop-color="#4efa07"/><stop offset="0.518" stop-color="#d6fa32"/><stop offset="0.529" stop-color="#f5f23b"/><stop offset="0.539" stop-color="#f2ad2d"/><stop offset="0.555" stop-color="#f56d20"/><stop offset="0.571" stop-color="#f7551b"/><stop offset="0.592" stop-color="#f6571b"/><stop offset="0.602" stop-color="#f5641e"/><stop offset="0.618" stop-color="#f39e2a"/><stop offset="0.634" stop-color="#f3f53b"/><stop offset="0.644" stop-color="#d4fa31"/><stop offset="0.670" stop-color="#45fa06"/><stop offset="0.691" stop-color="#32f814"/><stop offset="0.717" stop-color="#5dfaa8"/><stop offset="0.728" stop-color="#67facf"/><stop offset="0.749" stop-color="#6df6fc"/><stop offset="0.775" stop-color="#5cc6ff"/><stop offset="0.822" stop-color="#2d45ff"/><stop offset="0.848" stop-color="#1e1cff"/><stop offset="0.874" stop-color="#1e1cff"/><stop offset="0.895" stop-color="#2839ff"/><stop offset="0.911" stop-color="#3864ff"/><stop offset="0.927" stop-color="#52aaff"/><stop offset="0.942" stop-color="#6efafc"/><stop offset="0.953" stop-color="#62fab9"/><stop offset="0.969" stop-color="#39f82f"/><stop offset="0.974" stop-color="#34f813"/><stop offset="1.000" stop-color="#44fa06"/></linearGradient>
<linearGradient id="hc19" x1="0" x2="1" y1="0" y2="0"><stop offset="0.000" stop-color="#6aeffd"/><stop offset="0.005" stop-color="#6dfaf5"/><stop offset="0.016" stop-color="#66fac8"/><stop offset="0.042" stop-color="#35f81e"/><stop offset="0.052" stop-color="#39f90f"/><stop offset="0.073" stop-color="#4dfa07"/><stop offset="0.094" stop-color="#89f818"/><stop offset="0.115" stop-color="#aaf923"/><stop offset="0.136" stop-color="#a8f922"/><stop offset="0.157" stop-color="#84f817"/><stop offset="0.178" stop-color="#46fa05"/><stop offset="0.204" stop-color="#33f813"/><stop offset="0.215" stop-color="#40f84c"/><stop offset="0.230" stop-color="#62fab7"/><stop offset="0.246" stop-color="#6df8fc"/><stop offset="0.272" stop-color="#4b99ff"/><stop offset="0.314" stop-color="#1400ff"/><stop offset="0.414" stop-color="#1400ff"/><stop offset="0.424" stop-color="#2530ff"/><stop offset="0.455" stop-color="#6bf1fd"/><stop offset="0.461" stop-color="#6afae4"/><stop offset="0.466" stop-color="#64fabf"/><stop offset="0.482" stop-color="#35f821"/><stop offset="0.487" stop-color="#37f810"/><stop offset="0.497" stop-color="#43fa07"/><stop offset="0.503" stop-color="#5cf90b"/><stop offset="0.518" stop-color="#c8fa2d"/><stop offset="0.529" stop-color="#f2f53b"/><stop offset="0.545" stop-color="#f38f27"/><stop offset="0.555" stop-color="#f5601d"/><stop offset="0.576" stop-color="#f93c16"/><stop offset="0.597" stop-color="#f93a16"/><stop offset="0.618" stop-color="#f65a1c"/><stop offset="0.628" stop-color="#f47f23"/><stop offset="0.639" stop-color="#f2b82f"/><stop offset="0.644" stop-color="#f4dc37"/><stop offset="0.649" stop-color="#f0f63a"/><stop offset="0.660" stop-color="#cafa2e"/><stop offset="0.681" stop-color="#4ffa08"/><stop offset="0.696" stop-color="#39f90f"/><stop offset="0.702" stop-color="#34f812"/><stop offset="0.707" stop-color="#36f825"/><stop offset="0.733" stop-color="#63fabb"/><stop offset="0.754" stop-color="#6efafa"/><stop offset="0.780" stop-color="#5ac0ff"/><stop offset="0.822" stop-color="#2d47ff"/><stop offset="0.848" stop-color="#1e1cff"/><stop offset="0.874" stop-color="#1e1bff"/><stop offset="0.901" stop-color="#2b40ff"/><stop offset="0.916" stop-color="#3b6dff"/><stop offset="0.932" stop-color="#56b5ff"/><stop offset="0.942" stop-color="#68e9fd"/><stop offset="0.948" stop-color="#6cfaf2"/><stop offset="0.958" stop-color="#5dfaa9"/><stop offset="0.974" stop-color="#36f823"/><stop offset="0.979" stop-color="#35f812"/><stop offset="1.000" stop-color="#43fa08"/></linearGradient>
<linearGradient id="hc20" x1="0" x2="1" y1="0" y2="0"><stop offset="0.000" stop-color="#67e6fd"/><stop offset="0.005" stop-color="#6df6fc"/><stop offset="0.016" stop-color="#68fad4"/><stop offset="0.021" stop-color="#63fabb"/><stop offset="0.042" stop-color="#37f828"/><stop offset="0.047" stop-color="#34f813"/><stop offset="0.068" stop-color="#44fa06"/><stop offset="0.099" stop-color="#aaf923"/><stop offset="0.120" stop-color="#cefa2f"/><stop offset="0.141" stop-color="#cffa2f"/><stop offset="0.162" stop-color="#adf924"/><stop offset="0.194" stop-color="#45fa06"/><stop offset="0.215" stop-color="#35f812"/><stop offset="0.220" stop-color="#35f820"/><stop offset="0.241" stop-color="#61fab4"/><stop offset="0.251" stop-color="#6bfaeb"/><stop offset="0.257" stop-color="#6cf4fc"/><stop offset="0.272" stop-color="#57b7ff"/><stop offset="0.314" stop-color="#1605ff"/><stop offset="0.414" stop-color="#1400ff"/><stop offset="0.419" stop-color="#180bff"/><stop offset="0.445" stop-color="#4c9dff"/><stop offset="0.461" stop-color="#6df7fc"/><stop offset="0.471" stop-color="#62fab8"/><stop offset="0.487" stop-color="#34f81b"/><stop offset="0.503" stop-color="#44fa06"/><stop offset="0.513" stop-color="#87f818"/><stop offset="0.524" stop-color="#d2fa30"/><stop offset="0.534" stop-color="#f5eb3a"/><stop offset="0.545" stop-color="#f39b29"/><stop offset="0.555" stop-color="#f5611d"/><stop offset="0.576" stop-color="#fa3214"/><stop offset="0.618" stop-color="#fa3615"/><stop offset="0.639" stop-color="#f56a1f"/><stop offset="0.654" stop-color="#f3c732"/><stop offset="0.660" stop-color="#f5ef3b"/><stop offset="0.670" stop-color="#d7fa32"/><stop offset="0.691" stop-color="#59f90a"/><stop offset="0.696" stop-color="#44fa06"/><stop offset="0.712" stop-color="#35f811"/><stop offset="0.717" stop-color="#34f81d"/><stop offset="0.743" stop-color="#64fabe"/><stop offset="0.759" stop-color="#6dfaf5"/><stop offset="0.775" stop-color="#63d8fe"/><stop offset="0.822" stop-color="#2e4aff"/><stop offset="0.843" stop-color="#2023ff"/><stop offset="0.864" stop-color="#1c17ff"/><stop offset="0.890" stop-color="#232bff"/><stop offset="0.911" stop-color="#3254ff"/><stop offset="0.927" stop-color="#458aff"/><stop offset="0.948" stop-color="#6bf0fd"/><stop offset="0.953" stop-color="#6bfaea"/><stop offset="0.958" stop-color="#66faca"/><stop offset="0.979" stop-color="#35f81e"/><stop offset="0.990" stop-color="#39f90f"/><stop offset="1.000" stop-color="#40f90a"/></linearGradient>
<linearGradient id="hc21" x1="0" x2="1" y1="0" y2="0"><stop offset="0.000" stop-color="#63dafe"/><stop offset="0.010" stop-color="#6efafc"/><stop offset="0.026" stop-color="#5ffaae"/><stop offset="0.047" stop-color="#33f817"/><stop offset="0.068" stop-color="#44fa07"/><stop offset="0.073" stop-color="#50fa08"/><stop offset="0.099" stop-color="#b5f927"/><stop offset="0.115" stop-color="#daf933"/><stop offset="0.141" stop-color="#e6f737"/><stop offset="0.162" stop-color="#dafa33"/><stop offset="0.178" stop-color="#b3f926"/><stop offset="0.204" stop-color="#4dfa07"/><stop offset="0.225" stop-color="#36f811"/><stop offset="0.230" stop-color="#34f81b"/><stop offset="0.251" stop-color="#63faba"/><stop offset="0.262" stop-color="#6cfaf2"/><stop offset="0.272" stop-color="#63d8fe"/><stop offset="0.314" stop-color="#190eff"/><stop offset="0.319" stop-color="#1400ff"/><stop offset="0.419" stop-color="#1504ff"/><stop offset="0.445" stop-color="#4487ff"/><stop offset="0.461" stop-color="#66e1fe"/><stop offset="0.466" stop-color="#6efafc"/><stop offset="0.476" stop-color="#62fab7"/><stop offset="0.492" stop-color="#34f81d"/><stop offset="0.503" stop-color="#3ef90b"/><stop offset="0.508" stop-color="#44fa06"/><stop offset="0.518" stop-color="#86f817"/><stop offset="0.529" stop-color="#d3fa31"/><stop offset="0.534" stop-color="#e8f738"/><stop offset="0.539" stop-color="#f4e739"/><stop offset="0.550" stop-color="#f39528"/><stop offset="0.560" stop-color="#f65b1c"/><stop offset="0.576" stop-color="#fa3214"/><stop offset="0.628" stop-color="#fa3114"/><stop offset="0.644" stop-color="#f7511a"/><stop offset="0.649" stop-color="#f5611d"/><stop offset="0.665" stop-color="#f3bc30"/><stop offset="0.670" stop-color="#f4e539"/><stop offset="0.675" stop-color="#ebf739"/><stop offset="0.681" stop-color="#daf933"/><stop offset="0.702" stop-color="#5cf90b"/><stop offset="0.707" stop-color="#45fa06"/><stop offset="0.723" stop-color="#35f812"/><stop offset="0.728" stop-color="#35f81f"/><stop offset="0.749" stop-color="#5efaac"/><stop offset="0.764" stop-color="#6cfaf2"/><stop offset="0.775" stop-color="#67e4fd"/><stop offset="0.822" stop-color="#304dff"/><stop offset="0.843" stop-color="#2124ff"/><stop offset="0.864" stop-color="#1c18ff"/><stop offset="0.890" stop-color="#232aff"/><stop offset="0.916" stop-color="#355cff"/><stop offset="0.932" stop-color="#4892ff"/><stop offset="0.953" stop-color="#6cf4fc"/><stop offset="0.963" stop-color="#65fac6"/><stop offset="0.979" stop-color="#3ff846"/><stop offset="0.984" stop-color="#35f822"/><stop offset="0.990" stop-color="#34f812"/><stop offset="1.000" stop-color="#3bf90d"/></linearGradient>
<linearGradient id="hc22" x1="0" x2="1" y1="0" y2="0"><stop offset="0.000" stop-color="#5fceff"/><stop offset="0.016" stop-color="#6dfaf8"/><stop offset="0.026" stop-color="#66fac8"/><stop offset="0.047" stop-color="#39f831"/><stop offset="0.052" stop-color="#33f813"/><stop offset="0.073" stop-color="#46fa05"/><stop offset="0.105" stop-color="#c9fa2d"/><stop offset="0.115" stop-color="#e0f835"/><stop offset="0.141" stop-color="#f4f53c"/><stop offset="0.168" stop-color="#e9f738"/><stop offset="0.183" stop-color="#d3fa31"/><stop offset="0.209" stop-color="#6bf910"/><stop offset="0.220" stop-color="#44fa07"/><stop offset="0.236" stop-color="#36f811"/><stop offset="0.241" stop-color="#35f81f"/><stop offset="0.262" stop-color="#65fac5"/><stop offset="0.272" stop-color="#6df7fc"/><stop offset="0.283" stop-color="#5dc7ff"/><stop offset="0.309" stop-color="#2735ff"/><stop offset="0.319" stop-color="#1502ff"/><stop offset="0.419" stop-color="#1400ff"/><stop offset="0.450" stop-color="#4790ff"/><stop offset="0.466" stop-color="#66e1fe"/><stop offset="0.471" stop-color="#6ef9fc"/><stop offset="0.482" stop-color="#64fabd"/><stop offset="0.497" stop-color="#37f828"/><stop offset="0.503" stop-color="#36f811"/><stop offset="0.513" stop-color="#43fa08"/><stop offset="0.518" stop-color="#58f90a"/><stop offset="0.534" stop-color="#cbfa2e"/><stop offset="0.545" stop-color="#f5f03b"/><stop offset="0.555" stop-color="#f39a29"/><stop offset="0.565" stop-color="#f65d1d"/><stop offset="0.581" stop-color="#fa3214"/><stop offset="0.639" stop-color="#fa3114"/><stop offset="0.649" stop-color="#f94117"/><stop offset="0.660" stop-color="#f55f1d"/><stop offset="0.675" stop-color="#f3bc30"/><stop offset="0.681" stop-color="#f4e539"/><stop offset="0.686" stop-color="#ebf739"/><stop offset="0.691" stop-color="#d9fa33"/><stop offset="0.712" stop-color="#58f90a"/><stop offset="0.717" stop-color="#44fa07"/><stop offset="0.733" stop-color="#34f813"/><stop offset="0.738" stop-color="#38f82c"/><stop offset="0.759" stop-color="#65fac2"/><stop offset="0.770" stop-color="#6cfaf1"/><stop offset="0.775" stop-color="#6bf2fd"/><stop offset="0.817" stop-color="#3660ff"/><stop offset="0.838" stop-color="#252fff"/><stop offset="0.859" stop-color="#1d1aff"/><stop offset="0.885" stop-color="#2124ff"/><stop offset="0.916" stop-color="#3357ff"/><stop offset="0.937" stop-color="#4b99ff"/><stop offset="0.958" stop-color="#6df6fc"/><stop offset="0.969" stop-color="#65fac6"/><stop offset="0.984" stop-color="#41f84f"/><stop offset="0.995" stop-color="#33f813"/><stop offset="1.000" stop-color="#36f811"/></linearGradient>
<linearGradient id="hc23" x1="0" x2="1" y1="0" y2="0"><stop offset="0.000" stop-color="#58bcff"/><stop offset="0.021" stop-color="#6dfaf8"/><stop offset="0.031" stop-color="#65fac7"/><stop offset="0.052" stop-color="#38f82c"/><stop offset="0.058" stop-color="#34f813"/><stop offset="0.079" stop-color="#4cfa07"/><stop offset="0.105" stop-color="#c4f92c"/><stop offset="0.110" stop-color="#d7fa32"/><stop offset="0.131" stop-color="#f5f53c"/><stop offset="0.147" stop-color="#f4dc37"/><stop offset="0.162" stop-color="#f4e037"/><stop offset="0.178" stop-color="#f1f63b"/><stop offset="0.194" stop-color="#d9fa33"/><stop offset="0.215" stop-color="#84f817"/><stop offset="0.225" stop-color="#52fa08"/><stop offset="0.236" stop-color="#3ef90b"/><stop offset="0.246" stop-color="#34f812"/><stop offset="0.251" stop-color="#38f82b"/><stop offset="0.267" stop-color="#60fab2"/><stop offset="0.277" stop-color="#6dfaf6"/><stop offset="0.288" stop-color="#5fccff"/><stop offset="0.314" stop-color="#242cff"/><stop offset="0.319" stop-color="#1a11ff"/><stop offset="0.325" stop-color="#1400ff"/><stop offset="0.419" stop-color="#1400ff"/><stop offset="0.450" stop-color="#417eff"/><stop offset="0.471" stop-color="#65e0fe"/><stop offset="0.476" stop-color="#6cf5fc"/><stop offset="0.487" stop-color="#65fac6"/><stop offset="0.503" stop-color="#3bf839"/><stop offset="0.508" stop-color="#33f813"/><stop offset="0.524" stop-color="#49fa06"/><stop offset="0.545" stop-color="#dbf933"/><stop offset="0.550" stop-color="#eff63a"/><stop offset="0.555" stop-color="#f4d635"/><stop offset="0.565" stop-color="#f48725"/><stop offset="0.571" stop-color="#f5661e"/><stop offset="0.586" stop-color="#fa3615"/><stop offset="0.628" stop-color="#fa2c12"/><stop offset="0.654" stop-color="#f93815"/><stop offset="0.670" stop-color="#f5641e"/><stop offset="0.686" stop-color="#f3c732"/><stop offset="0.691" stop-color="#f5f13b"/><stop offset="0.702" stop-color="#d2fa30"/><stop offset="0.723" stop-color="#4cfa07"/><stop offset="0.743" stop-color="#34f81b"/><stop offset="0.764" stop-color="#64fabe"/><stop offset="0.775" stop-color="#6cfaf2"/><stop offset="0.785" stop-color="#64ddfe"/><stop offset="0.817" stop-color="#3967ff"/><stop offset="0.838" stop-color="#2633ff"/><stop offset="0.859" stop-color="#1e1dff"/><stop offset="0.885" stop-color="#2126ff"/><stop offset="0.916" stop-color="#3254ff"/><stop offset="0.937" stop-color="#468cff"/><stop offset="0.963" stop-color="#6df7fc"/><stop offset="0.974" stop-color="#66faca"/><stop offset="0.995" stop-color="#3df840"/><stop offset="1.000" stop-color="#36f825"/></linearGradient>
<linearGradient id="hc24" x1="0" x2="1" y1="0" y2="0"><stop offset="0.000" stop-color="#52aaff"/><stop offset="0.026" stop-color="#6efafa"/><stop offset="0.037" stop-color="#66fac9"/><stop offset="0.058" stop-color="#38f82c"/><stop offset="0.063" stop-color="#34f813"/><stop offset="0.079" stop-color="#43fa07"/><stop offset="0.084" stop-color="#4ffa08"/><stop offset="0.110" stop-color="#cafa2e"/><stop offset="0.120" stop-color="#e5f837"/><stop offset="0.131" stop-color="#f5f53c"/><stop offset="0.147" stop-color="#f3d034"/><stop offset="0.162" stop-color="#f3c632"/><stop offset="0.178" stop-color="#f4da36"/><stop offset="0.188" stop-color="#f4f53c"/><stop offset="0.204" stop-color="#daf933"/><stop offset="0.225" stop-color="#80f816"/><stop offset="0.236" stop-color="#4afa06"/><stop offset="0.257" stop-color="#32f815"/><stop offset="0.277" stop-color="#66facd"/><stop offset="0.283" stop-color="#6cfaef"/><stop offset="0.288" stop-color="#68e9fd"/><stop offset="0.293" stop-color="#5fceff"/><stop offset="0.314" stop-color="#2b42ff"/><stop offset="0.325" stop-color="#1606ff"/><stop offset="0.361" stop-color="#1400ff"/><stop offset="0.419" stop-color="#1400ff"/><stop offset="0.450" stop-color="#3c70ff"/><stop offset="0.482" stop-color="#6aeffd"/><stop offset="0.487" stop-color="#6cfaef"/><stop offset="0.497" stop-color="#5ffab0"/><stop offset="0.513" stop-color="#36f823"/><stop offset="0.518" stop-color="#36f811"/><stop offset="0.529" stop-color="#43fa08"/><stop offset="0.534" stop-color="#57fa0a"/><stop offset="0.550" stop-color="#c7fa2d"/><stop offset="0.560" stop-color="#f4f53c"/><stop offset="0.571" stop-color="#f3a22a"/><stop offset="0.581" stop-color="#f5631e"/><stop offset="0.597" stop-color="#fa3615"/><stop offset="0.639" stop-color="#fa2e13"/><stop offset="0.660" stop-color="#fa3515"/><stop offset="0.675" stop-color="#f65e1d"/><stop offset="0.686" stop-color="#f39428"/><stop offset="0.696" stop-color="#f4de37"/><stop offset="0.702" stop-color="#edf639"/><stop offset="0.707" stop-color="#dcf934"/><stop offset="0.728" stop-color="#59f90a"/><stop offset="0.733" stop-color="#43fa07"/><stop offset="0.749" stop-color="#32f814"/><stop offset="0.770" stop-color="#64fabf"/><stop offset="0.780" stop-color="#6dfaf6"/><stop offset="0.796" stop-color="#5bc2ff"/><stop offset="0.817" stop-color="#3b6eff"/><stop offset="0.838" stop-color="#2838ff"/><stop offset="0.859" stop-color="#1f20ff"/><stop offset="0.885" stop-color="#2228ff"/><stop offset="0.921" stop-color="#355dff"/><stop offset="0.942" stop-color="#4994ff"/><stop offset="0.969" stop-color="#6cf5fc"/><stop offset="0.984" stop-color="#62fab9"/><stop offset="1.000" stop-color="#44f85a"/></linearGradient>
<linearGradient id="hc25" x1="0" x2="1" y1="0" y2="0"><stop offset="0.000" stop-color="#4c9aff"/><stop offset="0.031" stop-color="#6df8fc"/><stop offset="0.042" stop-color="#67face"/><stop offset="0.052" stop-color="#51f984"/><stop offset="0.063" stop-color="#3af833"/><stop offset="0.068" stop-color="#33f813"/><stop offset="0.089" stop-color="#4cfa07"/><stop offset="0.115" stop-color="#cbfa2e"/><stop offset="0.131" stop-color="#eff63a"/><stop offset="0.136" stop-color="#f5f13b"/><stop offset="0.152" stop-color="#f3c732"/><stop offset="0.168" stop-color="#f2ba2f"/><stop offset="0.183" stop-color="#f3cb33"/><stop offset="0.199" stop-color="#f3f53b"/><stop offset="0.215" stop-color="#d7fa32"/><stop offset="0.246" stop-color="#44fa06"/><stop offset="0.262" stop-color="#34f813"/><stop offset="0.267" stop-color="#3af832"/><stop offset="0.283" stop-color="#65fac7"/><stop offset="0.288" stop-color="#6bfaeb"/><stop offset="0.293" stop-color="#69eafd"/><stop offset="0.298" stop-color="#5fceff"/><stop offset="0.319" stop-color="#2839ff"/><stop offset="0.330" stop-color="#1400ff"/><stop offset="0.419" stop-color="#1400ff"/><stop offset="0.471" stop-color="#53afff"/><stop offset="0.492" stop-color="#6efafb"/><stop offset="0.503" stop-color="#65fac6"/><stop offset="0.524" stop-color="#32f815"/><stop offset="0.539" stop-color="#44fa07"/><stop offset="0.550" stop-color="#82f816"/><stop offset="0.560" stop-color="#cafa2e"/><stop offset="0.571" stop-color="#f4f53c"/><stop offset="0.581" stop-color="#f2a52b"/><stop offset="0.592" stop-color="#f5691f"/><stop offset="0.613" stop-color="#fa3414"/><stop offset="0.660" stop-color="#fa3214"/><stop offset="0.681" stop-color="#f65e1d"/><stop offset="0.691" stop-color="#f39127"/><stop offset="0.707" stop-color="#f0f63a"/><stop offset="0.717" stop-color="#c6fa2c"/><stop offset="0.733" stop-color="#5ef90c"/><stop offset="0.738" stop-color="#44fa06"/><stop offset="0.754" stop-color="#33f813"/><stop offset="0.775" stop-color="#65fac3"/><stop offset="0.785" stop-color="#6efafc"/><stop offset="0.817" stop-color="#3e76ff"/><stop offset="0.838" stop-color="#2a3dff"/><stop offset="0.859" stop-color="#2124ff"/><stop offset="0.885" stop-color="#232bff"/><stop offset="0.921" stop-color="#355cff"/><stop offset="0.948" stop-color="#4c9cff"/><stop offset="0.974" stop-color="#6bf2fd"/><stop offset="0.984" stop-color="#69fadd"/><stop offset="1.000" stop-color="#57f996"/></linearGradient>
<linearGradient id="hc26" x1="0" x2="1" y1="0" y2="0"><stop offset="0.000" stop-color="#468cff"/><stop offset="0.021" stop-color="#5bc1ff"/><stop offset="0.037" stop-color="#6bf2fd"/><stop offset="0.042" stop-color="#6cfaef"/><stop offset="0.052" stop-color="#63faba"/><stop offset="0.073" stop-color="#33f816"/><stop offset="0.094" stop-color="#46fa05"/><stop offset="0.120" stop-color="#c5fa2c"/><stop offset="0.131" stop-color="#e3f836"/><stop offset="0.141" stop-color="#f5f53c"/><stop offset="0.157" stop-color="#f3c832"/><stop offset="0.173" stop-color="#f2b82f"/><stop offset="0.188" stop-color="#f3c532"/><stop offset="0.204" stop-color="#f5f03b"/><stop offset="0.220" stop-color="#dcf934"/><stop offset="0.236" stop-color="#98f81d"/><stop offset="0.251" stop-color="#46fa05"/><stop offset="0.267" stop-color="#35f812"/><stop offset="0.272" stop-color="#38f82a"/><stop offset="0.288" stop-color="#65fac5"/><stop offset="0.293" stop-color="#6bfaeb"/><stop offset="0.298" stop-color="#68e9fd"/><stop offset="0.304" stop-color="#5ecaff"/><stop offset="0.325" stop-color="#252eff"/><stop offset="0.330" stop-color="#190eff"/><stop offset="0.335" stop-color="#1400ff"/><stop offset="0.419" stop-color="#1400ff"/><stop offset="0.497" stop-color="#6bf0fd"/><stop offset="0.503" stop-color="#6cfaf2"/><stop offset="0.513" stop-color="#64fabe"/><stop offset="0.534" stop-color="#33f814"/><stop offset="0.550" stop-color="#44fa06"/><stop offset="0.560" stop-color="#7ff815"/><stop offset="0.571" stop-color="#c4fa2c"/><stop offset="0.581" stop-color="#eff63a"/><stop offset="0.586" stop-color="#f4db36"/><stop offset="0.597" stop-color="#f39628"/><stop offset="0.607" stop-color="#f5641e"/><stop offset="0.628" stop-color="#f93c16"/><stop offset="0.649" stop-color="#fa3214"/><stop offset="0.670" stop-color="#f84518"/><stop offset="0.686" stop-color="#f5671f"/><stop offset="0.702" stop-color="#f2b82f"/><stop offset="0.707" stop-color="#f4de37"/><stop offset="0.712" stop-color="#eef63a"/><stop offset="0.717" stop-color="#def934"/><stop offset="0.728" stop-color="#a1f920"/><stop offset="0.738" stop-color="#5cf90b"/><stop offset="0.743" stop-color="#44fa07"/><stop offset="0.759" stop-color="#32f814"/><stop offset="0.780" stop-color="#66facb"/><stop offset="0.785" stop-color="#6bfae9"/><stop offset="0.791" stop-color="#6bf2fd"/><stop offset="0.822" stop-color="#3b6dff"/><stop offset="0.843" stop-color="#293aff"/><stop offset="0.864" stop-color="#2227ff"/><stop offset="0.890" stop-color="#2632ff"/><stop offset="0.927" stop-color="#3966ff"/><stop offset="0.953" stop-color="#4fa4ff"/><stop offset="0.984" stop-color="#6efafb"/><stop offset="1.000" stop-color="#66facb"/></linearGradient>
<linearGradient id="hc27" x1="0" x2="1" y1="0" y2="0"><stop offset="0.000" stop-color="#4280ff"/><stop offset="0.021" stop-color="#51aaff"/><stop offset="0.047" stop-color="#6dfaf9"/><stop offset="0.058" stop-color="#65fac7"/><stop offset="0.079" stop-color="#37f828"/><stop offset="0.084" stop-color="#35f812"/><stop offset="0.099" stop-color="#43fa07"/><stop offset="0.105" stop-color="#53fa09"/><stop offset="0.131" stop-color="#cffa2f"/><stop offset="0.147" stop-color="#f0f63a"/><stop offset="0.157" stop-color="#f4df37"/><stop offset="0.173" stop-color="#f3c231"/><stop offset="0.188" stop-color="#f3c231"/><stop offset="0.204" stop-color="#f4e037"/><stop offset="0.209" stop-color="#f5f03b"/><stop offset="0.225" stop-color="#ddf934"/><stop offset="0.236" stop-color="#b5f927"/><stop offset="0.257" stop-color="#47fa05"/><stop offset="0.272" stop-color="#35f811"/><stop offset="0.277" stop-color="#37f829"/><stop offset="0.293" stop-color="#66fac8"/><stop offset="0.298" stop-color="#6cfaef"/><stop offset="0.304" stop-color="#67e4fd"/><stop offset="0.314" stop-color="#4a96ff"/><stop offset="0.330" stop-color="#2123ff"/><stop offset="0.335" stop-color="#1503ff"/><stop offset="0.419" stop-color="#1400ff"/><stop offset="0.461" stop-color="#3f77ff"/><stop offset="0.508" stop-color="#6cf4fc"/><stop offset="0.518" stop-color="#68fad6"/><stop offset="0.524" stop-color="#63faba"/><stop offset="0.545" stop-color="#32f814"/><stop offset="0.560" stop-color="#43fa07"/><stop offset="0.565" stop-color="#55fa09"/><stop offset="0.586" stop-color="#d5fa31"/><stop offset="0.597" stop-color="#f4f53c"/><stop offset="0.607" stop-color="#f2b32e"/><stop offset="0.623" stop-color="#f56f20"/><stop offset="0.639" stop-color="#f7521a"/><stop offset="0.660" stop-color="#f84a19"/><stop offset="0.681" stop-color="#f65f1d"/><stop offset="0.691" stop-color="#f47e23"/><stop offset="0.702" stop-color="#f2ad2d"/><stop offset="0.712" stop-color="#f5f13b"/><stop offset="0.723" stop-color="#d7fa32"/><stop offset="0.743" stop-color="#53fa09"/><stop offset="0.749" stop-color="#42fa08"/><stop offset="0.759" stop-color="#36f811"/><stop offset="0.764" stop-color="#35f822"/><stop offset="0.780" stop-color="#60fab2"/><stop offset="0.791" stop-color="#6dfaf4"/><stop offset="0.801" stop-color="#61d4ff"/><stop offset="0.822" stop-color="#3e77ff"/><stop offset="0.843" stop-color="#2b40ff"/><stop offset="0.864" stop-color="#242cff"/><stop offset="0.890" stop-color="#2736ff"/><stop offset="0.927" stop-color="#3967ff"/><stop offset="0.963" stop-color="#58baff"/><stop offset="0.995" stop-color="#6efafa"/><stop offset="1.000" stop-color="#6cfaee"/></linearGradient>
<linearGradient id="hc28" x1="0" x2="1" y1="0" y2="0"><stop offset="0.000" stop-color="#3e76ff"/><stop offset="0.021" stop-color="#4995ff"/><stop offset="0.052" stop-color="#6cf3fc"/><stop offset="0.063" stop-color="#68fad4"/><stop offset="0.068" stop-color="#62fab8"/><stop offset="0.089" stop-color="#33f817"/><stop offset="0.110" stop-color="#45fa06"/><stop offset="0.141" stop-color="#d3fa31"/><stop offset="0.162" stop-color="#f5f33c"/><stop offset="0.178" stop-color="#f4d235"/><stop offset="0.194" stop-color="#f3cf34"/><stop offset="0.215" stop-color="#f3f53b"/><stop offset="0.230" stop-color="#daf933"/><stop offset="0.246" stop-color="#98f81d"/><stop offset="0.262" stop-color="#46fa05"/><stop offset="0.277" stop-color="#35f812"/><stop offset="0.283" stop-color="#39f82f"/><stop offset="0.298" stop-color="#67facf"/><stop offset="0.304" stop-color="#6dfaf8"/><stop offset="0.314" stop-color="#56b6ff"/><stop offset="0.330" stop-color="#293bff"/><stop offset="0.335" stop-color="#1d18ff"/><stop offset="0.340" stop-color="#1400ff"/><stop offset="0.419" stop-color="#1400ff"/><stop offset="0.455" stop-color="#3969ff"/><stop offset="0.497" stop-color="#5ac0ff"/><stop offset="0.518" stop-color="#6df6fc"/><stop offset="0.529" stop-color="#68fad6"/><stop offset="0.534" stop-color="#63fabc"/><stop offset="0.555" stop-color="#34f81c"/><stop offset="0.571" stop-color="#41f909"/><stop offset="0.576" stop-color="#46fa05"/><stop offset="0.602" stop-color="#d8fa32"/><stop offset="0.613" stop-color="#f2f53b"/><stop offset="0.628" stop-color="#f2ab2c"/><stop offset="0.644" stop-color="#f47d23"/><stop offset="0.660" stop-color="#f5691f"/><stop offset="0.675" stop-color="#f56e20"/><stop offset="0.691" stop-color="#f38f27"/><stop offset="0.702" stop-color="#f2b52e"/><stop offset="0.712" stop-color="#f5ee3b"/><stop offset="0.723" stop-color="#dcf934"/><stop offset="0.738" stop-color="#84f817"/><stop offset="0.749" stop-color="#45fa05"/><stop offset="0.764" stop-color="#34f813"/><stop offset="0.770" stop-color="#3bf836"/><stop offset="0.785" stop-color="#65fac4"/><stop offset="0.796" stop-color="#6cf5fc"/><stop offset="0.822" stop-color="#4280ff"/><stop offset="0.838" stop-color="#3152ff"/><stop offset="0.859" stop-color="#2734ff"/><stop offset="0.885" stop-color="#2736ff"/><stop offset="0.921" stop-color="#3660ff"/><stop offset="0.984" stop-color="#63dafe"/><stop offset="1.000" stop-color="#6aeffd"/></linearGradient>
<linearGradient id="hc29" x1="0" x2="1" y1="0" y2="0"><stop offset="0.000" stop-color="#3b6cff"/><stop offset="0.026" stop-color="#468cff"/><stop offset="0.052" stop-color="#63d8fe"/><stop offset="0.063" stop-color="#6efafc"/><stop offset="0.073" stop-color="#66facb"/><stop offset="0.089" stop-color="#43f858"/><stop offset="0.099" stop-color="#33f813"/><stop offset="0.120" stop-color="#46fa05"/><stop offset="0.147" stop-color="#bcf929"/><stop offset="0.157" stop-color="#dcf934"/><stop offset="0.178" stop-color="#f5f53c"/><stop offset="0.194" stop-color="#f4e538"/><stop offset="0.215" stop-color="#f2f63b"/><stop offset="0.236" stop-color="#d2fa30"/><stop offset="0.257" stop-color="#75f912"/><stop offset="0.267" stop-color="#44fa06"/><stop offset="0.283" stop-color="#33f813"/><stop offset="0.288" stop-color="#3cf83d"/><stop offset="0.298" stop-color="#5efaad"/><stop offset="0.304" stop-color="#69fadb"/><stop offset="0.309" stop-color="#6cf3fc"/><stop offset="0.314" stop-color="#61d3ff"/><stop offset="0.335" stop-color="#242eff"/><stop offset="0.340" stop-color="#180cff"/><stop offset="0.346" stop-color="#1400ff"/><stop offset="0.419" stop-color="#1401ff"/><stop offset="0.450" stop-color="#365eff"/><stop offset="0.513" stop-color="#60d1ff"/><stop offset="0.529" stop-color="#6df6fc"/><stop offset="0.539" stop-color="#68fad9"/><stop offset="0.545" stop-color="#65fac2"/><stop offset="0.565" stop-color="#38f82c"/><stop offset="0.571" stop-color="#34f813"/><stop offset="0.592" stop-color="#4efa07"/><stop offset="0.618" stop-color="#d0fa30"/><stop offset="0.634" stop-color="#f4f53c"/><stop offset="0.654" stop-color="#f2b12d"/><stop offset="0.670" stop-color="#f39f2a"/><stop offset="0.686" stop-color="#f2a72b"/><stop offset="0.702" stop-color="#f3cf34"/><stop offset="0.712" stop-color="#f2f63b"/><stop offset="0.723" stop-color="#daf933"/><stop offset="0.743" stop-color="#6cf910"/><stop offset="0.749" stop-color="#4cfa07"/><stop offset="0.764" stop-color="#36f811"/><stop offset="0.770" stop-color="#36f823"/><stop offset="0.785" stop-color="#60fab2"/><stop offset="0.796" stop-color="#6dfaf5"/><stop offset="0.812" stop-color="#58baff"/><stop offset="0.827" stop-color="#3f77ff"/><stop offset="0.843" stop-color="#304eff"/><stop offset="0.864" stop-color="#2838ff"/><stop offset="0.895" stop-color="#2c43ff"/><stop offset="0.937" stop-color="#417dff"/><stop offset="0.979" stop-color="#5fccff"/><stop offset="1.000" stop-color="#65defe"/></linearGradient>
<linearGradient id="hc30" x1="0" x2="1" y1="0" y2="0"><stop offset="0.000" stop-color="#3864ff"/><stop offset="0.026" stop-color="#407bff"/><stop offset="0.047" stop-color="#52abff"/><stop offset="0.068" stop-color="#6aeefd"/><stop offset="0.073" stop-color="#6dfaf5"/><stop offset="0.084" stop-color="#65fac4"/><stop offset="0.105" stop-color="#38f82c"/><stop offset="0.110" stop-color="#34f813"/><stop offset="0.131" stop-color="#46fa05"/><stop offset="0.162" stop-color="#c4fa2c"/><stop offset="0.173" stop-color="#ddf934"/><stop offset="0.199" stop-color="#eff63a"/><stop offset="0.225" stop-color="#e2f836"/><stop offset="0.236" stop-color="#d1fa30"/><stop offset="0.257" stop-color="#7ff815"/><stop offset="0.267" stop-color="#4bfa06"/><stop offset="0.283" stop-color="#37f811"/><stop offset="0.288" stop-color="#35f81f"/><stop offset="0.304" stop-color="#65fac2"/><stop offset="0.309" stop-color="#6bfaec"/><stop offset="0.314" stop-color="#67e6fd"/><stop offset="0.325" stop-color="#4a95ff"/><stop offset="0.340" stop-color="#2021ff"/><stop offset="0.346" stop-color="#1502ff"/><stop offset="0.414" stop-color="#1400ff"/><stop offset="0.419" stop-color="#1606ff"/><stop offset="0.450" stop-color="#3761ff"/><stop offset="0.482" stop-color="#4994ff"/><stop offset="0.518" stop-color="#5ec9ff"/><stop offset="0.539" stop-color="#6cf4fc"/><stop offset="0.550" stop-color="#69fade"/><stop offset="0.560" stop-color="#5efaac"/><stop offset="0.581" stop-color="#34f81d"/><stop offset="0.592" stop-color="#3af90e"/><stop offset="0.607" stop-color="#4dfa07"/><stop offset="0.639" stop-color="#d0fa30"/><stop offset="0.660" stop-color="#f1f63b"/><stop offset="0.681" stop-color="#f4e138"/><stop offset="0.707" stop-color="#edf639"/><stop offset="0.723" stop-color="#cffa2f"/><stop offset="0.743" stop-color="#6bf90f"/><stop offset="0.749" stop-color="#4efa07"/><stop offset="0.770" stop-color="#33f817"/><stop offset="0.791" stop-color="#66facb"/><stop offset="0.796" stop-color="#6bfaea"/><stop offset="0.801" stop-color="#6bf1fd"/><stop offset="0.827" stop-color="#4280ff"/><stop offset="0.843" stop-color="#3356ff"/><stop offset="0.864" stop-color="#2a3eff"/><stop offset="0.895" stop-color="#2e48ff"/><stop offset="0.937" stop-color="#4280ff"/><stop offset="0.979" stop-color="#5dc7ff"/><stop offset="1.000" stop-color="#61d3ff"/></linearGradient>
<linearGradient id="hc31" x1="0" x2="1" y1="0" y2="0"><stop offset="0.000" stop-color="#355cff"/><stop offset="0.026" stop-color="#3b6dff"/><stop offset="0.047" stop-color="#4892ff"/><stop offset="0.079" stop-color="#6bf2fd"/><stop offset="0.084" stop-color="#6cfaf0"/><stop offset="0.094" stop-color="#64fac0"/><stop offset="0.115" stop-color="#38f82c"/><stop offset="0.120" stop-color="#33f813"/><stop offset="0.141" stop-color="#45fa06"/><stop offset="0.173" stop-color="#b3f926"/><stop offset="0.188" stop-color="#d7fa32"/><stop offset="0.215" stop-color="#dff935"/><stop offset="0.230" stop-color="#d3fa31"/><stop offset="0.246" stop-color="#a9f923"/><stop offset="0.267" stop-color="#52fa08"/><stop offset="0.277" stop-color="#3ef90b"/><stop offset="0.288" stop-color="#33f813"/><stop offset="0.293" stop-color="#3cf83a"/><stop offset="0.309" stop-color="#68fad7"/><stop offset="0.314" stop-color="#6df7fc"/><stop offset="0.325" stop-color="#53adff"/><stop offset="0.340" stop-color="#2735ff"/><stop offset="0.346" stop-color="#1b14ff"/><stop offset="0.351" stop-color="#1400ff"/><stop offset="0.414" stop-color="#1400ff"/><stop offset="0.450" stop-color="#3866ff"/><stop offset="0.482" stop-color="#4a97ff"/><stop offset="0.524" stop-color="#5bc4ff"/><stop offset="0.550" stop-color="#6cf3fc"/><stop offset="0.555" stop-color="#6dfaf5"/><stop offset="0.571" stop-color="#63fabb"/><stop offset="0.597" stop-color="#33f817"/><stop offset="0.623" stop-color="#46fa05"/><stop offset="0.654" stop-color="#b4f926"/><stop offset="0.670" stop-color="#d7fa32"/><stop offset="0.696" stop-color="#e0f935"/><stop offset="0.712" stop-color="#d2fa30"/><stop offset="0.728" stop-color="#a4f921"/><stop offset="0.749" stop-color="#48fa05"/><stop offset="0.770" stop-color="#32f814"/><stop offset="0.791" stop-color="#65fac3"/><stop offset="0.801" stop-color="#6df8fc"/><stop offset="0.827" stop-color="#4589ff"/><stop offset="0.843" stop-color="#355dff"/><stop offset="0.864" stop-color="#2d45ff"/><stop offset="0.895" stop-color="#304eff"/><stop offset="0.937" stop-color="#4383ff"/><stop offset="0.979" stop-color="#5cc6ff"/><stop offset="1.000" stop-color="#5fccff"/></linearGradient>
<linearGradient id="hc32" x1="0" x2="1" y1="0" y2="0"><stop offset="0.000" stop-color="#3355ff"/><stop offset="0.031" stop-color="#3968ff"/><stop offset="0.058" stop-color="#4b98ff"/><stop offset="0.089" stop-color="#6cf5fc"/><stop offset="0.099" stop-color="#68fad7"/><stop offset="0.105" stop-color="#64fabf"/><stop offset="0.131" stop-color="#33f814"/><stop offset="0.157" stop-color="#48fa05"/><stop offset="0.183" stop-color="#9df81f"/><stop offset="0.204" stop-color="#c1f92b"/><stop offset="0.225" stop-color="#c2f92b"/><stop offset="0.246" stop-color="#9cf81e"/><stop offset="0.272" stop-color="#44fa07"/><stop offset="0.288" stop-color="#35f812"/><stop offset="0.293" stop-color="#38f82c"/><stop offset="0.309" stop-color="#65fac7"/><stop offset="0.314" stop-color="#6cfaef"/><stop offset="0.319" stop-color="#67e4fd"/><stop offset="0.340" stop-color="#2e48ff"/><stop offset="0.351" stop-color="#170aff"/><stop offset="0.361" stop-color="#1400ff"/><stop offset="0.414" stop-color="#1503ff"/><stop offset="0.445" stop-color="#3762ff"/><stop offset="0.471" stop-color="#4892ff"/><stop offset="0.539" stop-color="#60d1ff"/><stop offset="0.565" stop-color="#6dfaf8"/><stop offset="0.581" stop-color="#65fac6"/><stop offset="0.613" stop-color="#33f818"/><stop offset="0.644" stop-color="#48fa06"/><stop offset="0.670" stop-color="#93f81b"/><stop offset="0.691" stop-color="#b1f925"/><stop offset="0.707" stop-color="#b0f925"/><stop offset="0.723" stop-color="#96f81c"/><stop offset="0.749" stop-color="#44fa06"/><stop offset="0.770" stop-color="#33f816"/><stop offset="0.791" stop-color="#64fabf"/><stop offset="0.801" stop-color="#6dfaf9"/><stop offset="0.832" stop-color="#417fff"/><stop offset="0.853" stop-color="#3254ff"/><stop offset="0.880" stop-color="#2f4cff"/><stop offset="0.921" stop-color="#3c70ff"/><stop offset="0.974" stop-color="#5bc2ff"/><stop offset="0.995" stop-color="#5ecaff"/><stop offset="1.000" stop-color="#5dc8ff"/></linearGradient>
<linearGradient id="hc33" x1="0" x2="1" y1="0" y2="0"><stop offset="0.000" stop-color="#3151ff"/><stop offset="0.031" stop-color="#3660ff"/><stop offset="0.063" stop-color="#4993ff"/><stop offset="0.099" stop-color="#6df7fc"/><stop offset="0.115" stop-color="#64fac0"/><stop offset="0.141" stop-color="#34f81c"/><stop offset="0.157" stop-color="#3cf90c"/><stop offset="0.173" stop-color="#48fa06"/><stop offset="0.194" stop-color="#81f816"/><stop offset="0.215" stop-color="#9ef81f"/><stop offset="0.236" stop-color="#98f81d"/><stop offset="0.257" stop-color="#6cf910"/><stop offset="0.267" stop-color="#48fa06"/><stop offset="0.288" stop-color="#35f812"/><stop offset="0.293" stop-color="#37f826"/><stop offset="0.304" stop-color="#51f986"/><stop offset="0.309" stop-color="#63fabc"/><stop offset="0.314" stop-color="#6afae3"/><stop offset="0.319" stop-color="#6aeffd"/><stop offset="0.325" stop-color="#60d0ff"/><stop offset="0.340" stop-color="#345aff"/><stop offset="0.356" stop-color="#1401ff"/><stop offset="0.408" stop-color="#1400ff"/><stop offset="0.450" stop-color="#3f79ff"/><stop offset="0.476" stop-color="#4fa3ff"/><stop offset="0.555" stop-color="#64dcfe"/><stop offset="0.576" stop-color="#6efaf9"/><stop offset="0.597" stop-color="#63fabc"/><stop offset="0.628" stop-color="#34f81c"/><stop offset="0.644" stop-color="#3bf90e"/><stop offset="0.665" stop-color="#46fa05"/><stop offset="0.691" stop-color="#78f913"/><stop offset="0.712" stop-color="#7df815"/><stop offset="0.728" stop-color="#68f90f"/><stop offset="0.743" stop-color="#44fa06"/><stop offset="0.764" stop-color="#35f812"/><stop offset="0.770" stop-color="#35f820"/><stop offset="0.791" stop-color="#64fabf"/><stop offset="0.801" stop-color="#6dfaf6"/><stop offset="0.822" stop-color="#52acff"/><stop offset="0.838" stop-color="#3f78ff"/><stop offset="0.859" stop-color="#3357ff"/><stop offset="0.885" stop-color="#3255ff"/><stop offset="0.927" stop-color="#417dff"/><stop offset="0.974" stop-color="#5cc5ff"/><stop offset="0.995" stop-color="#5ecaff"/><stop offset="1.000" stop-color="#5dc7ff"/></linearGradient>
<linearGradient id="hc34" x1="0" x2="1" y1="0" y2="0"><stop offset="0.000" stop-color="#3150ff"/><stop offset="0.031" stop-color="#355dff"/><stop offset="0.068" stop-color="#4993ff"/><stop offset="0.110" stop-color="#6ef9fc"/><stop offset="0.126" stop-color="#65fac3"/><stop offset="0.152" stop-color="#38f82b"/><stop offset="0.157" stop-color="#33f814"/><stop offset="0.194" stop-color="#4efa07"/><stop offset="0.215" stop-color="#72f912"/><stop offset="0.236" stop-color="#76f913"/><stop offset="0.257" stop-color="#57fa0a"/><stop offset="0.267" stop-color="#44fa07"/><stop offset="0.288" stop-color="#34f812"/><stop offset="0.293" stop-color="#37f829"/><stop offset="0.304" stop-color="#50f982"/><stop offset="0.309" stop-color="#61fab5"/><stop offset="0.319" stop-color="#6df6fc"/><stop offset="0.330" stop-color="#55b4ff"/><stop offset="0.346" stop-color="#2e47ff"/><stop offset="0.356" stop-color="#1a11ff"/><stop offset="0.361" stop-color="#1400ff"/><stop offset="0.403" stop-color="#1400ff"/><stop offset="0.450" stop-color="#4488ff"/><stop offset="0.476" stop-color="#54b2ff"/><stop offset="0.565" stop-color="#66e2fe"/><stop offset="0.586" stop-color="#6dfaf7"/><stop offset="0.607" stop-color="#65fac3"/><stop offset="0.644" stop-color="#35f821"/><stop offset="0.649" stop-color="#33f813"/><stop offset="0.702" stop-color="#4efa07"/><stop offset="0.723" stop-color="#4cfa07"/><stop offset="0.764" stop-color="#33f814"/><stop offset="0.780" stop-color="#4cf876"/><stop offset="0.791" stop-color="#65fac2"/><stop offset="0.801" stop-color="#6dfaf6"/><stop offset="0.822" stop-color="#54b0ff"/><stop offset="0.838" stop-color="#417eff"/><stop offset="0.859" stop-color="#355eff"/><stop offset="0.885" stop-color="#355dff"/><stop offset="0.927" stop-color="#4384ff"/><stop offset="0.974" stop-color="#5dc9ff"/><stop offset="0.995" stop-color="#5fcdff"/><stop offset="1.000" stop-color="#5ec9ff"/></linearGradient>
<linearGradient id="hc35" x1="0" x2="1" y1="0" y2="0"><stop offset="0.000" stop-color="#3254ff"/><stop offset="0.031" stop-color="#3761ff"/><stop offset="0.079" stop-color="#4ea1ff"/><stop offset="0.120" stop-color="#6efafb"/><stop offset="0.136" stop-color="#65fac6"/><stop offset="0.168" stop-color="#36f823"/><stop offset="0.173" stop-color="#33f813"/><stop offset="0.225" stop-color="#4dfa07"/><stop offset="0.246" stop-color="#4afa06"/><stop offset="0.288" stop-color="#32f814"/><stop offset="0.298" stop-color="#44f85a"/><stop offset="0.309" stop-color="#61fab6"/><stop offset="0.319" stop-color="#6ef9fc"/><stop offset="0.330" stop-color="#59bdff"/><stop offset="0.346" stop-color="#3254ff"/><stop offset="0.361" stop-color="#180cff"/><stop offset="0.366" stop-color="#1400ff"/><stop offset="0.398" stop-color="#1501ff"/><stop offset="0.450" stop-color="#4c9cff"/><stop offset="0.476" stop-color="#5cc6ff"/><stop offset="0.529" stop-color="#63d8fe"/><stop offset="0.576" stop-color="#69ebfd"/><stop offset="0.592" stop-color="#6efafa"/><stop offset="0.618" stop-color="#65fac6"/><stop offset="0.665" stop-color="#32f814"/><stop offset="0.723" stop-color="#40f909"/><stop offset="0.759" stop-color="#33f813"/><stop offset="0.770" stop-color="#3ef843"/><stop offset="0.791" stop-color="#66fac8"/><stop offset="0.801" stop-color="#6dfaf9"/><stop offset="0.838" stop-color="#4282ff"/><stop offset="0.859" stop-color="#3863ff"/><stop offset="0.885" stop-color="#3864ff"/><stop offset="0.927" stop-color="#468cff"/><stop offset="0.974" stop-color="#60cfff"/><stop offset="1.000" stop-color="#5fcdff"/></linearGradient>
<linearGradient id="hc36" x1="0" x2="1" y1="0" y2="0"><stop offset="0.000" stop-color="#365eff"/><stop offset="0.031" stop-color="#3b6cff"/><stop offset="0.094" stop-color="#58baff"/><stop offset="0.131" stop-color="#6dfaf8"/><stop offset="0.152" stop-color="#60fab3"/><stop offset="0.178" stop-color="#3bf838"/><stop offset="0.188" stop-color="#33f813"/><stop offset="0.246" stop-color="#40f909"/><stop offset="0.283" stop-color="#33f813"/><stop offset="0.288" stop-color="#37f827"/><stop offset="0.298" stop-color="#48f869"/><stop offset="0.309" stop-color="#64fabf"/><stop offset="0.319" stop-color="#6df8fc"/><stop offset="0.330" stop-color="#5ac1ff"/><stop offset="0.346" stop-color="#355eff"/><stop offset="0.361" stop-color="#1d19ff"/><stop offset="0.372" stop-color="#1502ff"/><stop offset="0.387" stop-color="#1401ff"/><stop offset="0.403" stop-color="#2022ff"/><stop offset="0.450" stop-color="#56b5ff"/><stop offset="0.466" stop-color="#60d1ff"/><stop offset="0.508" stop-color="#67e4fd"/><stop offset="0.581" stop-color="#6bf2fd"/><stop offset="0.597" stop-color="#6dfaf7"/><stop offset="0.628" stop-color="#65fac5"/><stop offset="0.681" stop-color="#33f818"/><stop offset="0.733" stop-color="#39f90f"/><stop offset="0.754" stop-color="#32f814"/><stop offset="0.770" stop-color="#44f85a"/><stop offset="0.785" stop-color="#62fab9"/><stop offset="0.801" stop-color="#6df7fc"/><stop offset="0.832" stop-color="#478fff"/><stop offset="0.853" stop-color="#3a6bff"/><stop offset="0.880" stop-color="#3968ff"/><stop offset="0.921" stop-color="#478eff"/><stop offset="0.969" stop-color="#61d2ff"/><stop offset="0.995" stop-color="#62d6fe"/><stop offset="1.000" stop-color="#61d3ff"/></linearGradient>
<linearGradient id="hc37" x1="0" x2="1" y1="0" y2="0"><stop offset="0.000" stop-color="#3b6eff"/><stop offset="0.037" stop-color="#4281ff"/><stop offset="0.126" stop-color="#67e6fd"/><stop offset="0.136" stop-color="#6df7fc"/><stop offset="0.162" stop-color="#63faba"/><stop offset="0.194" stop-color="#3cf83b"/><stop offset="0.204" stop-color="#33f819"/><stop offset="0.251" stop-color="#39f90f"/><stop offset="0.277" stop-color="#32f815"/><stop offset="0.293" stop-color="#45f85f"/><stop offset="0.314" stop-color="#6bfae6"/><stop offset="0.319" stop-color="#6cf4fc"/><stop offset="0.335" stop-color="#4d9eff"/><stop offset="0.351" stop-color="#2f4bff"/><stop offset="0.366" stop-color="#1d18ff"/><stop offset="0.382" stop-color="#190eff"/><stop offset="0.398" stop-color="#2228ff"/><stop offset="0.445" stop-color="#5cc6ff"/><stop offset="0.471" stop-color="#6aedfd"/><stop offset="0.513" stop-color="#6df8fc"/><stop offset="0.592" stop-color="#6dfaf8"/><stop offset="0.628" stop-color="#67fad3"/><stop offset="0.649" stop-color="#5cf9a7"/><stop offset="0.691" stop-color="#38f82d"/><stop offset="0.702" stop-color="#33f817"/><stop offset="0.738" stop-color="#33f813"/><stop offset="0.749" stop-color="#36f825"/><stop offset="0.764" stop-color="#44f85d"/><stop offset="0.785" stop-color="#66fac9"/><stop offset="0.796" stop-color="#6dfaf4"/><stop offset="0.812" stop-color="#60d0ff"/><stop offset="0.832" stop-color="#468cff"/><stop offset="0.853" stop-color="#3a6cff"/><stop offset="0.880" stop-color="#3b6cff"/><stop offset="0.921" stop-color="#4b98ff"/><stop offset="0.963" stop-color="#63d8fe"/><stop offset="0.990" stop-color="#66e2fe"/><stop offset="1.000" stop-color="#64dbfe"/></linearGradient>
<linearGradient id="hc38" x1="0" x2="1" y1="0" y2="0"><stop offset="0.000" stop-color="#4281ff"/><stop offset="0.037" stop-color="#4a96ff"/><stop offset="0.141" stop-color="#6cf4fc"/><stop offset="0.152" stop-color="#6cfaf0"/><stop offset="0.178" stop-color="#5ffaaf"/><stop offset="0.209" stop-color="#3ff848"/><stop offset="0.230" stop-color="#34f81d"/><stop offset="0.251" stop-color="#32f814"/><stop offset="0.267" stop-color="#36f823"/><stop offset="0.283" stop-color="#41f850"/><stop offset="0.298" stop-color="#5af9a0"/><stop offset="0.314" stop-color="#6dfaf4"/><stop offset="0.325" stop-color="#62d5fe"/><stop offset="0.346" stop-color="#3864ff"/><stop offset="0.361" stop-color="#242cff"/><stop offset="0.377" stop-color="#1d1aff"/><stop offset="0.393" stop-color="#252eff"/><stop offset="0.414" stop-color="#3d73ff"/><stop offset="0.440" stop-color="#62d5fe"/><stop offset="0.461" stop-color="#6efaf9"/><stop offset="0.487" stop-color="#69fae0"/><stop offset="0.539" stop-color="#6bfaea"/><stop offset="0.592" stop-color="#6cfaf0"/><stop offset="0.634" stop-color="#68fad4"/><stop offset="0.654" stop-color="#60fab3"/><stop offset="0.696" stop-color="#40f84b"/><stop offset="0.717" stop-color="#39f82f"/><stop offset="0.733" stop-color="#39f830"/><stop offset="0.749" stop-color="#3ff84a"/><stop offset="0.764" stop-color="#4ff97f"/><stop offset="0.785" stop-color="#69fadc"/><stop offset="0.796" stop-color="#6cf4fc"/><stop offset="0.832" stop-color="#4383ff"/><stop offset="0.853" stop-color="#3968ff"/><stop offset="0.880" stop-color="#3b6dff"/><stop offset="0.921" stop-color="#4fa2ff"/><stop offset="0.958" stop-color="#65e0fe"/><stop offset="0.984" stop-color="#6bf1fd"/><stop offset="1.000" stop-color="#68e9fd"/></linearGradient>
<linearGradient id="hc39" x1="0" x2="1" y1="0" y2="0"><stop offset="0.000" stop-color="#4a95ff"/><stop offset="0.063" stop-color="#5bc2ff"/><stop offset="0.147" stop-color="#6bf2fd"/><stop offset="0.162" stop-color="#6cfaf0"/><stop offset="0.194" stop-color="#60fab2"/><stop offset="0.225" stop-color="#46f862"/><stop offset="0.246" stop-color="#40f84b"/><stop offset="0.262" stop-color="#41f84f"/><stop offset="0.277" stop-color="#49f86d"/><stop offset="0.293" stop-color="#5efaab"/><stop offset="0.309" stop-color="#6cfaef"/><stop offset="0.314" stop-color="#6bf2fd"/><stop offset="0.325" stop-color="#5dc8ff"/><stop offset="0.346" stop-color="#3660ff"/><stop offset="0.361" stop-color="#252eff"/><stop offset="0.377" stop-color="#2023ff"/><stop offset="0.393" stop-color="#2a3eff"/><stop offset="0.414" stop-color="#468cff"/><stop offset="0.429" stop-color="#60d0ff"/><stop offset="0.445" stop-color="#6efafb"/><stop offset="0.466" stop-color="#66facb"/><stop offset="0.492" stop-color="#61fab4"/><stop offset="0.539" stop-color="#67face"/><stop offset="0.592" stop-color="#6bfae8"/><stop offset="0.634" stop-color="#68fada"/><stop offset="0.665" stop-color="#60fab2"/><stop offset="0.707" stop-color="#45f85f"/><stop offset="0.728" stop-color="#42f854"/><stop offset="0.743" stop-color="#46f863"/><stop offset="0.759" stop-color="#55f990"/><stop offset="0.785" stop-color="#6cfaf2"/><stop offset="0.796" stop-color="#67e4fd"/><stop offset="0.827" stop-color="#4281ff"/><stop offset="0.848" stop-color="#3762ff"/><stop offset="0.874" stop-color="#3866ff"/><stop offset="0.911" stop-color="#4a97ff"/><stop offset="0.953" stop-color="#68e8fd"/><stop offset="0.969" stop-color="#6efaf9"/><stop offset="0.990" stop-color="#6cfaef"/><stop offset="1.000" stop-color="#6dfaf8"/></linearGradient>
<linearGradient id="hc40" x1="0" x2="1" y1="0" y2="0"><stop offset="0.000" stop-color="#51a8ff"/><stop offset="0.079" stop-color="#62d5fe"/><stop offset="0.152" stop-color="#6aedfd"/><stop offset="0.173" stop-color="#6dfaf6"/><stop offset="0.241" stop-color="#54f98e"/><stop offset="0.262" stop-color="#53f98c"/><stop offset="0.277" stop-color="#5cf9a5"/><stop offset="0.304" stop-color="#6dfaf5"/><stop offset="0.319" stop-color="#5fcdff"/><stop offset="0.346" stop-color="#3255ff"/><stop offset="0.361" stop-color="#232bff"/><stop offset="0.377" stop-color="#2227ff"/><stop offset="0.393" stop-color="#2e4aff"/><stop offset="0.414" stop-color="#4fa3ff"/><stop offset="0.429" stop-color="#67e6fd"/><stop offset="0.435" stop-color="#6df7fc"/><stop offset="0.471" stop-color="#52f989"/><stop offset="0.487" stop-color="#4bf874"/><stop offset="0.508" stop-color="#4df878"/><stop offset="0.550" stop-color="#62fab7"/><stop offset="0.592" stop-color="#69fadf"/><stop offset="0.628" stop-color="#6afae1"/><stop offset="0.670" stop-color="#64fabf"/><stop offset="0.712" stop-color="#4ff97f"/><stop offset="0.733" stop-color="#4ff97e"/><stop offset="0.749" stop-color="#58f999"/><stop offset="0.780" stop-color="#6dfaf8"/><stop offset="0.801" stop-color="#59beff"/><stop offset="0.822" stop-color="#3f79ff"/><stop offset="0.843" stop-color="#3356ff"/><stop offset="0.864" stop-color="#3255ff"/><stop offset="0.895" stop-color="#407cff"/><stop offset="0.953" stop-color="#6df8fc"/><stop offset="0.979" stop-color="#67fad3"/><stop offset="0.995" stop-color="#67fad3"/><stop offset="1.000" stop-color="#68fad8"/></linearGradient>
<linearGradient id="hc41" x1="0" x2="1" y1="0" y2="0"><stop offset="0.000" stop-color="#56b7ff"/><stop offset="0.063" stop-color="#62d7fe"/><stop offset="0.162" stop-color="#68e7fd"/><stop offset="0.194" stop-color="#6dfaf9"/><stop offset="0.246" stop-color="#65fac7"/><stop offset="0.272" stop-color="#67facf"/><stop offset="0.293" stop-color="#6dfaf5"/><stop offset="0.309" stop-color="#63d8fe"/><stop offset="0.346" stop-color="#2d45ff"/><stop offset="0.361" stop-color="#2023ff"/><stop offset="0.377" stop-color="#2226ff"/><stop offset="0.393" stop-color="#3151ff"/><stop offset="0.414" stop-color="#56b6ff"/><stop offset="0.429" stop-color="#6efafc"/><stop offset="0.450" stop-color="#58f999"/><stop offset="0.466" stop-color="#43f859"/><stop offset="0.482" stop-color="#3bf838"/><stop offset="0.503" stop-color="#39f830"/><stop offset="0.529" stop-color="#41f851"/><stop offset="0.576" stop-color="#64fac0"/><stop offset="0.613" stop-color="#6afae4"/><stop offset="0.649" stop-color="#69fae0"/><stop offset="0.717" stop-color="#5af9a1"/><stop offset="0.738" stop-color="#5efaad"/><stop offset="0.764" stop-color="#6afae4"/><stop offset="0.775" stop-color="#6cf4fc"/><stop offset="0.796" stop-color="#55b4ff"/><stop offset="0.817" stop-color="#3b6dff"/><stop offset="0.838" stop-color="#2d45ff"/><stop offset="0.859" stop-color="#2c42ff"/><stop offset="0.885" stop-color="#3763ff"/><stop offset="0.916" stop-color="#51aaff"/><stop offset="0.948" stop-color="#6efafa"/><stop offset="0.979" stop-color="#5efaad"/><stop offset="0.995" stop-color="#5cf9a7"/><stop offset="1.000" stop-color="#5efaad"/></linearGradient>
<linearGradient id="hc42" x1="0" x2="1" y1="0" y2="0"><stop offset="0.000" stop-color="#5bc2ff"/><stop offset="0.058" stop-color="#64ddfe"/><stop offset="0.168" stop-color="#64dbfe"/><stop offset="0.236" stop-color="#6dfaf6"/><stop offset="0.267" stop-color="#6dfaf4"/><stop offset="0.283" stop-color="#6cf3fc"/><stop offset="0.304" stop-color="#5ecbff"/><stop offset="0.346" stop-color="#2631ff"/><stop offset="0.361" stop-color="#1c15ff"/><stop offset="0.377" stop-color="#1f20ff"/><stop offset="0.393" stop-color="#3152ff"/><stop offset="0.408" stop-color="#4fa4ff"/><stop offset="0.419" stop-color="#65defe"/><stop offset="0.424" stop-color="#6cf5fc"/><stop offset="0.435" stop-color="#66facb"/><stop offset="0.455" stop-color="#40f84d"/><stop offset="0.466" stop-color="#35f822"/><stop offset="0.471" stop-color="#32f814"/><stop offset="0.529" stop-color="#33f813"/><stop offset="0.539" stop-color="#36f824"/><stop offset="0.592" stop-color="#65fac3"/><stop offset="0.623" stop-color="#6bfae9"/><stop offset="0.654" stop-color="#6bfaea"/><stop offset="0.717" stop-color="#65fac3"/><stop offset="0.743" stop-color="#68fad4"/><stop offset="0.764" stop-color="#6df6fc"/><stop offset="0.785" stop-color="#59bcff"/><stop offset="0.812" stop-color="#365eff"/><stop offset="0.832" stop-color="#2632ff"/><stop offset="0.853" stop-color="#242bff"/><stop offset="0.880" stop-color="#304dff"/><stop offset="0.911" stop-color="#4b99ff"/><stop offset="0.942" stop-color="#6efafc"/><stop offset="0.979" stop-color="#4ff97e"/><stop offset="0.995" stop-color="#49f86d"/><stop offset="1.000" stop-color="#4af871"/></linearGradient>
<linearGradient id="hc43" x1="0" x2="1" y1="0" y2="0"><stop offset="0.000" stop-color="#5fcdff"/><stop offset="0.052" stop-color="#67e6fd"/><stop offset="0.168" stop-color="#5fcdff"/><stop offset="0.262" stop-color="#67e4fd"/><stop offset="0.288" stop-color="#5fceff"/><stop offset="0.309" stop-color="#4994ff"/><stop offset="0.346" stop-color="#1e1bff"/><stop offset="0.361" stop-color="#1605ff"/><stop offset="0.377" stop-color="#1c16ff"/><stop offset="0.393" stop-color="#304fff"/><stop offset="0.408" stop-color="#51aaff"/><stop offset="0.414" stop-color="#5fcdff"/><stop offset="0.424" stop-color="#6dfaf5"/><stop offset="0.435" stop-color="#61fab4"/><stop offset="0.445" stop-color="#45f861"/><stop offset="0.455" stop-color="#35f822"/><stop offset="0.461" stop-color="#34f813"/><stop offset="0.513" stop-color="#40f909"/><stop offset="0.555" stop-color="#33f813"/><stop offset="0.565" stop-color="#3af833"/><stop offset="0.602" stop-color="#64fac1"/><stop offset="0.628" stop-color="#6bfaec"/><stop offset="0.654" stop-color="#6dfaf7"/><stop offset="0.717" stop-color="#69fadb"/><stop offset="0.743" stop-color="#6cfaef"/><stop offset="0.754" stop-color="#6cf5fc"/><stop offset="0.775" stop-color="#5bc4ff"/><stop offset="0.812" stop-color="#2b41ff"/><stop offset="0.832" stop-color="#1c18ff"/><stop offset="0.853" stop-color="#1c16ff"/><stop offset="0.880" stop-color="#2a3fff"/><stop offset="0.911" stop-color="#4995ff"/><stop offset="0.937" stop-color="#6bf1fd"/><stop offset="0.942" stop-color="#6cfaf2"/><stop offset="0.958" stop-color="#5ffaae"/><stop offset="0.974" stop-color="#46f863"/><stop offset="0.990" stop-color="#3df83e"/><stop offset="1.000" stop-color="#3cf83b"/></linearGradient>
<linearGradient id="hc44" x1="0" x2="1" y1="0" y2="0"><stop offset="0.000" stop-color="#62d5fe"/><stop offset="0.042" stop-color="#6cf4fc"/><stop offset="0.084" stop-color="#6aedfd"/><stop offset="0.162" stop-color="#59bdff"/><stop offset="0.220" stop-color="#5cc4ff"/><stop offset="0.262" stop-color="#5dc9ff"/><stop offset="0.288" stop-color="#52aaff"/><stop offset="0.314" stop-color="#3864ff"/><stop offset="0.346" stop-color="#1604ff"/><stop offset="0.372" stop-color="#1400ff"/><stop offset="0.382" stop-color="#1d19ff"/><stop offset="0.398" stop-color="#3865ff"/><stop offset="0.414" stop-color="#60cfff"/><stop offset="0.419" stop-color="#69ebfd"/><stop offset="0.424" stop-color="#6bfaec"/><stop offset="0.435" stop-color="#59f99e"/><stop offset="0.445" stop-color="#3ef845"/><stop offset="0.450" stop-color="#35f81f"/><stop offset="0.455" stop-color="#35f812"/><stop offset="0.487" stop-color="#4bfa06"/><stop offset="0.508" stop-color="#60f90c"/><stop offset="0.529" stop-color="#50fa08"/><stop offset="0.550" stop-color="#40f90a"/><stop offset="0.576" stop-color="#33f817"/><stop offset="0.613" stop-color="#64fac0"/><stop offset="0.639" stop-color="#6dfaf3"/><stop offset="0.660" stop-color="#6df7fc"/><stop offset="0.723" stop-color="#6dfaf3"/><stop offset="0.743" stop-color="#6bf1fd"/><stop offset="0.764" stop-color="#5ecbff"/><stop offset="0.812" stop-color="#2125ff"/><stop offset="0.827" stop-color="#1605ff"/><stop offset="0.853" stop-color="#1502ff"/><stop offset="0.880" stop-color="#2531ff"/><stop offset="0.906" stop-color="#407bff"/><stop offset="0.937" stop-color="#6cf5fc"/><stop offset="0.953" stop-color="#63faba"/><stop offset="0.969" stop-color="#44f85b"/><stop offset="0.984" stop-color="#35f821"/><stop offset="0.990" stop-color="#32f815"/><stop offset="1.000" stop-color="#33f813"/></linearGradient>
<linearGradient id="hc45" x1="0" x2="1" y1="0" y2="0"><stop offset="0.000" stop-color="#65dffe"/><stop offset="0.026" stop-color="#6dfaf7"/><stop offset="0.058" stop-color="#6afae4"/><stop offset="0.089" stop-color="#6dfaf6"/><stop offset="0.147" stop-color="#5bc3ff"/><stop offset="0.188" stop-color="#53adff"/><stop offset="0.262" stop-color="#52acff"/><stop offset="0.288" stop-color="#468dff"/><stop offset="0.314" stop-color="#2e49ff"/><stop offset="0.335" stop-color="#1708ff"/><stop offset="0.346" stop-color="#1400ff"/><stop offset="0.377" stop-color="#1400ff"/><stop offset="0.382" stop-color="#180bff"/><stop offset="0.398" stop-color="#355cff"/><stop offset="0.414" stop-color="#5fceff"/><stop offset="0.419" stop-color="#69ebfd"/><stop offset="0.424" stop-color="#6bfae9"/><stop offset="0.429" stop-color="#65fac3"/><stop offset="0.445" stop-color="#39f830"/><stop offset="0.450" stop-color="#34f813"/><stop offset="0.471" stop-color="#45fa05"/><stop offset="0.492" stop-color="#82f816"/><stop offset="0.508" stop-color="#97f81d"/><stop offset="0.524" stop-color="#95f81c"/><stop offset="0.545" stop-color="#73f912"/><stop offset="0.560" stop-color="#46fa05"/><stop offset="0.592" stop-color="#33f818"/><stop offset="0.623" stop-color="#64fabe"/><stop offset="0.644" stop-color="#6cfaf1"/><stop offset="0.660" stop-color="#6cf3fc"/><stop offset="0.728" stop-color="#6aeffd"/><stop offset="0.754" stop-color="#60cfff"/><stop offset="0.780" stop-color="#3f79ff"/><stop offset="0.812" stop-color="#190eff"/><stop offset="0.817" stop-color="#1401ff"/><stop offset="0.864" stop-color="#1401ff"/><stop offset="0.895" stop-color="#3050ff"/><stop offset="0.916" stop-color="#4c9cff"/><stop offset="0.932" stop-color="#65e0fe"/><stop offset="0.937" stop-color="#6cf5fc"/><stop offset="0.948" stop-color="#67facf"/><stop offset="0.969" stop-color="#3ff848"/><stop offset="0.979" stop-color="#33f816"/><stop offset="1.000" stop-color="#38f90f"/></linearGradient>
<linearGradient id="hc46" x1="0" x2="1" y1="0" y2="0"><stop offset="0.000" stop-color="#69ebfd"/><stop offset="0.010" stop-color="#6dfaf8"/><stop offset="0.042" stop-color="#65fac6"/><stop offset="0.068" stop-color="#63fabc"/><stop offset="0.099" stop-color="#69fadc"/><stop offset="0.120" stop-color="#6df6fc"/><stop offset="0.178" stop-color="#52acff"/><stop offset="0.230" stop-color="#4ea0ff"/><stop offset="0.267" stop-color="#4993ff"/><stop offset="0.293" stop-color="#3b6cff"/><stop offset="0.330" stop-color="#1504ff"/><stop offset="0.382" stop-color="#1400ff"/><stop offset="0.393" stop-color="#2530ff"/><stop offset="0.408" stop-color="#4c9cff"/><stop offset="0.414" stop-color="#5dc7ff"/><stop offset="0.419" stop-color="#68e8fd"/><stop offset="0.424" stop-color="#6bfaeb"/><stop offset="0.429" stop-color="#65fac3"/><stop offset="0.445" stop-color="#36f824"/><stop offset="0.450" stop-color="#36f811"/><stop offset="0.466" stop-color="#45fa05"/><stop offset="0.487" stop-color="#9bf81e"/><stop offset="0.503" stop-color="#c4fa2c"/><stop offset="0.518" stop-color="#d4fa31"/><stop offset="0.534" stop-color="#ccfa2e"/><stop offset="0.555" stop-color="#9df81f"/><stop offset="0.581" stop-color="#44fa06"/><stop offset="0.602" stop-color="#34f812"/><stop offset="0.607" stop-color="#36f823"/><stop offset="0.634" stop-color="#63fabc"/><stop offset="0.654" stop-color="#6dfaf5"/><stop offset="0.670" stop-color="#6aeffd"/><stop offset="0.733" stop-color="#64ddfe"/><stop offset="0.749" stop-color="#5dc8ff"/><stop offset="0.775" stop-color="#3f78ff"/><stop offset="0.806" stop-color="#180aff"/><stop offset="0.817" stop-color="#1400ff"/><stop offset="0.869" stop-color="#1400ff"/><stop offset="0.901" stop-color="#3357ff"/><stop offset="0.921" stop-color="#52acff"/><stop offset="0.937" stop-color="#6bf1fd"/><stop offset="0.942" stop-color="#6bfaec"/><stop offset="0.953" stop-color="#5ffaaf"/><stop offset="0.969" stop-color="#3df83f"/><stop offset="0.974" stop-color="#35f820"/><stop offset="0.979" stop-color="#34f813"/><stop offset="1.000" stop-color="#3cf90d"/></linearGradient>
<linearGradient id="hc47" x1="0" x2="1" y1="0" y2="0"><stop offset="0.000" stop-color="#6df7fc"/><stop offset="0.037" stop-color="#59f99d"/><stop offset="0.058" stop-color="#4df878"/><stop offset="0.079" stop-color="#4df878"/><stop offset="0.099" stop-color="#59f99d"/><stop offset="0.136" stop-color="#6dfaf9"/><stop offset="0.188" stop-color="#51a9ff"/><stop offset="0.241" stop-color="#4994ff"/><stop offset="0.272" stop-color="#4280ff"/><stop offset="0.298" stop-color="#3150ff"/><stop offset="0.325" stop-color="#1604ff"/><stop offset="0.387" stop-color="#1604ff"/><stop offset="0.403" stop-color="#3866ff"/><stop offset="0.419" stop-color="#65e0fe"/><stop offset="0.424" stop-color="#6dfaf3"/><stop offset="0.429" stop-color="#66fac9"/><stop offset="0.445" stop-color="#36f822"/><stop offset="0.450" stop-color="#37f811"/><stop offset="0.461" stop-color="#42fa08"/><stop offset="0.466" stop-color="#51fa08"/><stop offset="0.487" stop-color="#baf928"/><stop offset="0.497" stop-color="#dcf934"/><stop offset="0.524" stop-color="#f3f53b"/><stop offset="0.550" stop-color="#e6f737"/><stop offset="0.560" stop-color="#d7fa32"/><stop offset="0.586" stop-color="#6df910"/><stop offset="0.597" stop-color="#44fa06"/><stop offset="0.618" stop-color="#32f814"/><stop offset="0.644" stop-color="#62fab8"/><stop offset="0.660" stop-color="#6bfaeb"/><stop offset="0.670" stop-color="#6df6fc"/><stop offset="0.702" stop-color="#66e1fe"/><stop offset="0.738" stop-color="#5fcdff"/><stop offset="0.759" stop-color="#4c9cff"/><stop offset="0.806" stop-color="#1400ff"/><stop offset="0.874" stop-color="#1605ff"/><stop offset="0.906" stop-color="#3761ff"/><stop offset="0.927" stop-color="#58bcff"/><stop offset="0.937" stop-color="#69eafd"/><stop offset="0.942" stop-color="#6dfaf4"/><stop offset="0.953" stop-color="#62fab7"/><stop offset="0.969" stop-color="#3df83f"/><stop offset="0.974" stop-color="#34f81e"/><stop offset="0.984" stop-color="#38f910"/><stop offset="1.000" stop-color="#3ef90b"/></linearGradient>
<linearGradient id="hc48" x1="0" x2="1" y1="0" y2="0"><stop offset="0.000" stop-color="#6cfaf2"/><stop offset="0.021" stop-color="#5dfaa8"/><stop offset="0.042" stop-color="#43f859"/><stop offset="0.063" stop-color="#39f830"/><stop offset="0.079" stop-color="#38f82b"/><stop offset="0.099" stop-color="#3ef846"/><stop offset="0.115" stop-color="#4bf872"/><stop offset="0.141" stop-color="#68fad4"/><stop offset="0.157" stop-color="#6cf5fc"/><stop offset="0.199" stop-color="#51a9ff"/><stop offset="0.272" stop-color="#3e77ff"/><stop offset="0.298" stop-color="#2d46ff"/><stop offset="0.325" stop-color="#1400ff"/><stop offset="0.387" stop-color="#1400ff"/><stop offset="0.393" stop-color="#1a10ff"/><stop offset="0.408" stop-color="#407cff"/><stop offset="0.419" stop-color="#61d4ff"/><stop offset="0.424" stop-color="#6df6fc"/><stop offset="0.429" stop-color="#68fad6"/><stop offset="0.435" stop-color="#5af9a1"/><stop offset="0.445" stop-color="#38f82b"/><stop offset="0.450" stop-color="#36f811"/><stop offset="0.461" stop-color="#43fa07"/><stop offset="0.466" stop-color="#55fa09"/><stop offset="0.487" stop-color="#cefa2f"/><stop offset="0.503" stop-color="#f4f53c"/><stop offset="0.518" stop-color="#f3c131"/><stop offset="0.534" stop-color="#f2b02d"/><stop offset="0.550" stop-color="#f3c231"/><stop offset="0.565" stop-color="#f4f53c"/><stop offset="0.581" stop-color="#d2fa30"/><stop offset="0.607" stop-color="#4efa07"/><stop offset="0.628" stop-color="#34f813"/><stop offset="0.634" stop-color="#38f82b"/><stop offset="0.654" stop-color="#61fab4"/><stop offset="0.670" stop-color="#6bfaec"/><stop offset="0.681" stop-color="#6cf4fc"/><stop offset="0.738" stop-color="#5ac1ff"/><stop offset="0.764" stop-color="#4281ff"/><stop offset="0.801" stop-color="#1605ff"/><stop offset="0.874" stop-color="#1401ff"/><stop offset="0.906" stop-color="#3459ff"/><stop offset="0.927" stop-color="#54afff"/><stop offset="0.942" stop-color="#6df7fc"/><stop offset="0.953" stop-color="#65fac5"/><stop offset="0.969" stop-color="#3ff84a"/><stop offset="0.974" stop-color="#37f826"/><stop offset="0.979" stop-color="#34f813"/><stop offset="1.000" stop-color="#3ff90a"/></linearGradient>
<linearGradient id="hc49" x1="0" x2="1" y1="0" y2="0"><stop offset="0.000" stop-color="#6bfae8"/><stop offset="0.010" stop-color="#64fac0"/><stop offset="0.031" stop-color="#42f854"/><stop offset="0.047" stop-color="#33f818"/><stop offset="0.094" stop-color="#38f910"/><stop offset="0.115" stop-color="#33f818"/><stop offset="0.136" stop-color="#48f869"/><stop offset="0.152" stop-color="#63faba"/><stop offset="0.168" stop-color="#6cfaf2"/><stop offset="0.178" stop-color="#68e8fd"/><stop offset="0.215" stop-color="#4fa3ff"/><stop offset="0.272" stop-color="#3d72ff"/><stop offset="0.298" stop-color="#2a3eff"/><stop offset="0.319" stop-color="#1401ff"/><stop offset="0.393" stop-color="#1400ff"/><stop offset="0.403" stop-color="#2b41ff"/><stop offset="0.424" stop-color="#68e7fd"/><stop offset="0.429" stop-color="#6bfae8"/><stop offset="0.435" stop-color="#63fabb"/><stop offset="0.445" stop-color="#3df83e"/><stop offset="0.450" stop-color="#34f813"/><stop offset="0.461" stop-color="#41fa08"/><stop offset="0.466" stop-color="#50fa08"/><stop offset="0.487" stop-color="#d6fa32"/><stop offset="0.497" stop-color="#f3f53b"/><stop offset="0.513" stop-color="#f2a92c"/><stop offset="0.529" stop-color="#f48224"/><stop offset="0.545" stop-color="#f47a22"/><stop offset="0.560" stop-color="#f39127"/><stop offset="0.571" stop-color="#f2b22e"/><stop offset="0.581" stop-color="#f4e639"/><stop offset="0.586" stop-color="#eff63a"/><stop offset="0.597" stop-color="#d1fa30"/><stop offset="0.618" stop-color="#5bf90b"/><stop offset="0.623" stop-color="#44fa06"/><stop offset="0.639" stop-color="#35f812"/><stop offset="0.644" stop-color="#36f823"/><stop offset="0.665" stop-color="#60fab3"/><stop offset="0.681" stop-color="#6cfaed"/><stop offset="0.686" stop-color="#6efafb"/><stop offset="0.738" stop-color="#58baff"/><stop offset="0.764" stop-color="#407aff"/><stop offset="0.801" stop-color="#1503ff"/><stop offset="0.874" stop-color="#1400ff"/><stop offset="0.911" stop-color="#3763ff"/><stop offset="0.927" stop-color="#4ea1ff"/><stop offset="0.942" stop-color="#69eafd"/><stop offset="0.948" stop-color="#6dfaf4"/><stop offset="0.958" stop-color="#61fab5"/><stop offset="0.974" stop-color="#3cf83a"/><stop offset="0.979" stop-color="#33f818"/><stop offset="1.000" stop-color="#3ef90b"/></linearGradient>
<linearGradient id="hc50" x1="0" x2="1" y1="0" y2="0"><stop offset="0.000" stop-color="#6afae4"/><stop offset="0.010" stop-color="#61fab4"/><stop offset="0.031" stop-color="#3bf838"/><stop offset="0.037" stop-color="#34f81e"/><stop offset="0.047" stop-color="#37f810"/><stop offset="0.099" stop-color="#41fa09"/><stop offset="0.136" stop-color="#33f813"/><stop offset="0.147" stop-color="#3df840"/><stop offset="0.168" stop-color="#62fab8"/><stop offset="0.183" stop-color="#6dfaf6"/><stop offset="0.209" stop-color="#5abfff"/><stop offset="0.236" stop-color="#4995ff"/><stop offset="0.277" stop-color="#3966ff"/><stop offset="0.304" stop-color="#232bff"/><stop offset="0.319" stop-color="#1400ff"/><stop offset="0.393" stop-color="#1400ff"/><stop offset="0.398" stop-color="#180bff"/><stop offset="0.414" stop-color="#407bff"/><stop offset="0.424" stop-color="#61d4ff"/><stop offset="0.429" stop-color="#6df7fc"/><stop offset="0.435" stop-color="#68fad4"/><stop offset="0.450" stop-color="#36f822"/><stop offset="0.455" stop-color="#37f910"/><stop offset="0.466" stop-color="#45fa06"/><stop offset="0.487" stop-color="#d1fa30"/><stop offset="0.497" stop-color="#f4f53c"/><stop offset="0.508" stop-color="#f2b02d"/><stop offset="0.524" stop-color="#f57020"/><stop offset="0.534" stop-color="#f65c1c"/><stop offset="0.555" stop-color="#f6571b"/><stop offset="0.571" stop-color="#f56d20"/><stop offset="0.586" stop-color="#f2aa2c"/><stop offset="0.597" stop-color="#f5ea3a"/><stop offset="0.602" stop-color="#ebf739"/><stop offset="0.607" stop-color="#dcf934"/><stop offset="0.634" stop-color="#45fa05"/><stop offset="0.649" stop-color="#35f811"/><stop offset="0.654" stop-color="#35f822"/><stop offset="0.675" stop-color="#61fab5"/><stop offset="0.691" stop-color="#6cfaf1"/><stop offset="0.696" stop-color="#6df8fc"/><stop offset="0.743" stop-color="#52acff"/><stop offset="0.775" stop-color="#3357ff"/><stop offset="0.801" stop-color="#1605ff"/><stop offset="0.874" stop-color="#1502ff"/><stop offset="0.916" stop-color="#3b6cff"/><stop offset="0.932" stop-color="#51a9ff"/><stop offset="0.948" stop-color="#6aeffd"/><stop offset="0.953" stop-color="#6cfaed"/><stop offset="0.963" stop-color="#5efaac"/><stop offset="0.979" stop-color="#3af835"/><stop offset="0.984" stop-color="#32f814"/><stop offset="1.000" stop-color="#3cf90d"/></linearGradient>
<linearGradient id="hc51" x1="0" x2="1" y1="0" y2="0"><stop offset="0.000" stop-color="#6afae6"/><stop offset="0.010" stop-color="#60fab2"/><stop offset="0.031" stop-color="#37f828"/><stop offset="0.037" stop-color="#33f813"/><stop offset="0.073" stop-color="#4dfa07"/><stop offset="0.094" stop-color="#61f90d"/><stop offset="0.115" stop-color="#4ffa08"/><stop offset="0.131" stop-color="#41fa09"/><stop offset="0.152" stop-color="#35f812"/><stop offset="0.157" stop-color="#34f81d"/><stop offset="0.183" stop-color="#64fac0"/><stop offset="0.199" stop-color="#6df7fc"/><stop offset="0.236" stop-color="#4d9fff"/><stop offset="0.283" stop-color="#345bff"/><stop offset="0.309" stop-color="#1c18ff"/><stop offset="0.319" stop-color="#1400ff"/><stop offset="0.398" stop-color="#1400ff"/><stop offset="0.403" stop-color="#1c17ff"/><stop offset="0.419" stop-color="#468bff"/><stop offset="0.429" stop-color="#65e0fe"/><stop offset="0.435" stop-color="#6cfaf1"/><stop offset="0.440" stop-color="#65fac5"/><stop offset="0.450" stop-color="#3ff849"/><stop offset="0.455" stop-color="#33f814"/><stop offset="0.471" stop-color="#4ffa08"/><stop offset="0.487" stop-color="#c0f92a"/><stop offset="0.492" stop-color="#ddf934"/><stop offset="0.497" stop-color="#eff63a"/><stop offset="0.503" stop-color="#f4db36"/><stop offset="0.513" stop-color="#f39728"/><stop offset="0.524" stop-color="#f5661e"/><stop offset="0.545" stop-color="#f84418"/><stop offset="0.565" stop-color="#f84418"/><stop offset="0.586" stop-color="#f5681f"/><stop offset="0.602" stop-color="#f2b62f"/><stop offset="0.613" stop-color="#f0f63a"/><stop offset="0.623" stop-color="#c8fa2d"/><stop offset="0.644" stop-color="#45fa05"/><stop offset="0.660" stop-color="#35f812"/><stop offset="0.665" stop-color="#37f826"/><stop offset="0.686" stop-color="#64fabd"/><stop offset="0.702" stop-color="#6dfaf7"/><stop offset="0.743" stop-color="#52abff"/><stop offset="0.785" stop-color="#2837ff"/><stop offset="0.806" stop-color="#1400ff"/><stop offset="0.874" stop-color="#1605ff"/><stop offset="0.916" stop-color="#3863ff"/><stop offset="0.937" stop-color="#53aeff"/><stop offset="0.953" stop-color="#6bf1fd"/><stop offset="0.958" stop-color="#6bfaeb"/><stop offset="0.969" stop-color="#5efaad"/><stop offset="0.984" stop-color="#3cf83a"/><stop offset="0.990" stop-color="#34f81b"/><stop offset="1.000" stop-color="#38f910"/></linearGradient>
<linearGradient id="hc52" x1="0" x2="1" y1="0" y2="0"><stop offset="0.000" stop-color="#6cfaef"/><stop offset="0.010" stop-color="#63fabc"/><stop offset="0.031" stop-color="#36f825"/><stop offset="0.037" stop-color="#34f812"/><stop offset="0.063" stop-color="#4bfa06"/><stop offset="0.084" stop-color="#7ff815"/><stop offset="0.105" stop-color="#8df819"/><stop offset="0.126" stop-color="#74f912"/><stop offset="0.141" stop-color="#49fa06"/><stop offset="0.168" stop-color="#34f812"/><stop offset="0.173" stop-color="#36f823"/><stop offset="0.194" stop-color="#61fab4"/><stop offset="0.209" stop-color="#6efafc"/><stop offset="0.246" stop-color="#4b9aff"/><stop offset="0.288" stop-color="#304eff"/><stop offset="0.314" stop-color="#1504ff"/><stop offset="0.403" stop-color="#1504ff"/><stop offset="0.419" stop-color="#3b6eff"/><stop offset="0.429" stop-color="#5cc6ff"/><stop offset="0.435" stop-color="#68e9fd"/><stop offset="0.440" stop-color="#6bfae7"/><stop offset="0.445" stop-color="#63fabb"/><stop offset="0.455" stop-color="#3df83f"/><stop offset="0.461" stop-color="#34f813"/><stop offset="0.471" stop-color="#42fa08"/><stop offset="0.476" stop-color="#55fa09"/><stop offset="0.492" stop-color="#c8fa2d"/><stop offset="0.503" stop-color="#f4f53c"/><stop offset="0.513" stop-color="#f2a72b"/><stop offset="0.524" stop-color="#f56d20"/><stop offset="0.539" stop-color="#f84518"/><stop offset="0.560" stop-color="#fa3214"/><stop offset="0.581" stop-color="#f94017"/><stop offset="0.597" stop-color="#f5611d"/><stop offset="0.613" stop-color="#f2b22e"/><stop offset="0.618" stop-color="#f4d936"/><stop offset="0.623" stop-color="#f0f63a"/><stop offset="0.634" stop-color="#c4f92c"/><stop offset="0.649" stop-color="#5df90c"/><stop offset="0.654" stop-color="#44fa06"/><stop offset="0.670" stop-color="#33f813"/><stop offset="0.681" stop-color="#43f85a"/><stop offset="0.691" stop-color="#5dfaa8"/><stop offset="0.702" stop-color="#69fadd"/><stop offset="0.712" stop-color="#6cf5fc"/><stop offset="0.764" stop-color="#3f77ff"/><stop offset="0.806" stop-color="#1605ff"/><stop offset="0.869" stop-color="#1401ff"/><stop offset="0.921" stop-color="#3969ff"/><stop offset="0.942" stop-color="#53afff"/><stop offset="0.958" stop-color="#6aeffd"/><stop offset="0.963" stop-color="#6cfaf0"/><stop offset="0.974" stop-color="#62fab8"/><stop offset="0.990" stop-color="#40f84b"/><stop offset="1.000" stop-color="#32f814"/></linearGradient>
<linearGradient id="hc53" x1="0" x2="1" y1="0" y2="0"><stop offset="0.000" stop-color="#6df8fc"/><stop offset="0.010" stop-color="#66facb"/><stop offset="0.031" stop-color="#39f830"/><stop offset="0.037" stop-color="#33f813"/><stop offset="0.058" stop-color="#45fa06"/><stop offset="0.084" stop-color="#97f81d"/><stop offset="0.099" stop-color="#b1f925"/><stop offset="0.115" stop-color="#b4f926"/><stop offset="0.131" stop-color="#9ef81f"/><stop offset="0.152" stop-color="#60f90d"/><stop offset="0.157" stop-color="#4cfa07"/><stop offset="0.183" stop-color="#32f815"/><stop offset="0.204" stop-color="#5ffaae"/><stop offset="0.215" stop-color="#6afae6"/><stop offset="0.220" stop-color="#6efafc"/><stop offset="0.257" stop-color="#4891ff"/><stop offset="0.298" stop-color="#2632ff"/><stop offset="0.314" stop-color="#1401ff"/><stop offset="0.403" stop-color="#1400ff"/><stop offset="0.408" stop-color="#190fff"/><stop offset="0.424" stop-color="#3f79ff"/><stop offset="0.435" stop-color="#5fceff"/><stop offset="0.440" stop-color="#6aedfd"/><stop offset="0.445" stop-color="#6afae3"/><stop offset="0.450" stop-color="#62fab7"/><stop offset="0.461" stop-color="#3df83f"/><stop offset="0.466" stop-color="#34f813"/><stop offset="0.476" stop-color="#42fa08"/><stop offset="0.482" stop-color="#53fa09"/><stop offset="0.497" stop-color="#c6fa2c"/><stop offset="0.508" stop-color="#f3f53b"/><stop offset="0.518" stop-color="#f2a72b"/><stop offset="0.529" stop-color="#f56b1f"/><stop offset="0.545" stop-color="#f94117"/><stop offset="0.560" stop-color="#fa3114"/><stop offset="0.586" stop-color="#fa3615"/><stop offset="0.607" stop-color="#f5631e"/><stop offset="0.623" stop-color="#f3bd30"/><stop offset="0.628" stop-color="#f4e739"/><stop offset="0.634" stop-color="#eaf738"/><stop offset="0.639" stop-color="#d8fa32"/><stop offset="0.660" stop-color="#4ffa08"/><stop offset="0.675" stop-color="#36f811"/><stop offset="0.681" stop-color="#34f81d"/><stop offset="0.702" stop-color="#64fabe"/><stop offset="0.717" stop-color="#6df8fc"/><stop offset="0.806" stop-color="#190eff"/><stop offset="0.817" stop-color="#1400ff"/><stop offset="0.864" stop-color="#1400ff"/><stop offset="0.927" stop-color="#3a6aff"/><stop offset="0.948" stop-color="#52abff"/><stop offset="0.969" stop-color="#6efafa"/><stop offset="0.984" stop-color="#5dfaa9"/><stop offset="1.000" stop-color="#40f84b"/></linearGradient>
<linearGradient id="hc54" x1="0" x2="1" y1="0" y2="0"><stop offset="0.000" stop-color="#68e7fd"/><stop offset="0.005" stop-color="#6efafb"/><stop offset="0.016" stop-color="#65fac6"/><stop offset="0.037" stop-color="#35f821"/><stop offset="0.042" stop-color="#35f811"/><stop offset="0.058" stop-color="#44fa07"/><stop offset="0.068" stop-color="#68f90f"/><stop offset="0.089" stop-color="#b1f925"/><stop offset="0.105" stop-color="#cffa2f"/><stop offset="0.120" stop-color="#d4fa31"/><stop offset="0.136" stop-color="#c1f92b"/><stop offset="0.157" stop-color="#83f816"/><stop offset="0.173" stop-color="#45fa06"/><stop offset="0.194" stop-color="#33f814"/><stop offset="0.215" stop-color="#60fab1"/><stop offset="0.225" stop-color="#6bfaea"/><stop offset="0.230" stop-color="#6df6fc"/><stop offset="0.267" stop-color="#4383ff"/><stop offset="0.309" stop-color="#1a10ff"/><stop offset="0.314" stop-color="#1400ff"/><stop offset="0.408" stop-color="#1400ff"/><stop offset="0.419" stop-color="#2839ff"/><stop offset="0.440" stop-color="#60d0ff"/><stop offset="0.445" stop-color="#6aeefd"/><stop offset="0.450" stop-color="#6afae4"/><stop offset="0.455" stop-color="#63fabb"/><stop offset="0.471" stop-color="#32f814"/><stop offset="0.487" stop-color="#49fa06"/><stop offset="0.508" stop-color="#dbf933"/><stop offset="0.513" stop-color="#edf639"/><stop offset="0.518" stop-color="#f4dc37"/><stop offset="0.529" stop-color="#f39127"/><stop offset="0.539" stop-color="#f65e1d"/><stop offset="0.560" stop-color="#fa3314"/><stop offset="0.592" stop-color="#fa3314"/><stop offset="0.613" stop-color="#f65e1d"/><stop offset="0.623" stop-color="#f39027"/><stop offset="0.639" stop-color="#f0f63a"/><stop offset="0.649" stop-color="#c3f92b"/><stop offset="0.665" stop-color="#5bf90b"/><stop offset="0.670" stop-color="#44fa07"/><stop offset="0.686" stop-color="#33f814"/><stop offset="0.707" stop-color="#61fab6"/><stop offset="0.723" stop-color="#6df8fc"/><stop offset="0.785" stop-color="#2d47ff"/><stop offset="0.817" stop-color="#1606ff"/><stop offset="0.848" stop-color="#1400ff"/><stop offset="0.864" stop-color="#1605ff"/><stop offset="0.932" stop-color="#3969ff"/><stop offset="0.953" stop-color="#4fa3ff"/><stop offset="0.974" stop-color="#6aeefd"/><stop offset="0.979" stop-color="#6dfaf4"/><stop offset="0.995" stop-color="#5efaad"/><stop offset="1.000" stop-color="#55f990"/></linearGradient>
<linearGradient id="hc55" x1="0" x2="1" y1="0" y2="0"><stop offset="0.000" stop-color="#61d4ff"/><stop offset="0.010" stop-color="#6ef9fc"/><stop offset="0.021" stop-color="#65fac6"/><stop offset="0.042" stop-color="#34f81b"/><stop offset="0.058" stop-color="#40f909"/><stop offset="0.063" stop-color="#45fa06"/><stop offset="0.089" stop-color="#b2f926"/><stop offset="0.105" stop-color="#d9fa33"/><stop offset="0.131" stop-color="#e0f835"/><stop offset="0.147" stop-color="#d0fa30"/><stop offset="0.168" stop-color="#89f818"/><stop offset="0.183" stop-color="#45fa06"/><stop offset="0.204" stop-color="#32f816"/><stop offset="0.225" stop-color="#64fabd"/><stop offset="0.236" stop-color="#6dfaf3"/><stop offset="0.246" stop-color="#64dcfe"/><stop offset="0.277" stop-color="#3c70ff"/><stop offset="0.314" stop-color="#1400ff"/><stop offset="0.408" stop-color="#1400ff"/><stop offset="0.414" stop-color="#1607ff"/><stop offset="0.435" stop-color="#4384ff"/><stop offset="0.445" stop-color="#60cfff"/><stop offset="0.450" stop-color="#69ebfd"/><stop offset="0.455" stop-color="#6bfaea"/><stop offset="0.461" stop-color="#65fac5"/><stop offset="0.476" stop-color="#36f824"/><stop offset="0.482" stop-color="#36f811"/><stop offset="0.492" stop-color="#43fa07"/><stop offset="0.497" stop-color="#5cf90b"/><stop offset="0.513" stop-color="#cafa2e"/><stop offset="0.524" stop-color="#f4f53c"/><stop offset="0.534" stop-color="#f2a82c"/><stop offset="0.545" stop-color="#f56f20"/><stop offset="0.560" stop-color="#f84518"/><stop offset="0.581" stop-color="#fa3214"/><stop offset="0.602" stop-color="#f94017"/><stop offset="0.618" stop-color="#f5601d"/><stop offset="0.634" stop-color="#f2b02d"/><stop offset="0.644" stop-color="#f1f63b"/><stop offset="0.654" stop-color="#c6fa2c"/><stop offset="0.670" stop-color="#5ff90c"/><stop offset="0.675" stop-color="#44fa06"/><stop offset="0.691" stop-color="#33f813"/><stop offset="0.702" stop-color="#45f860"/><stop offset="0.712" stop-color="#61fab6"/><stop offset="0.723" stop-color="#6bfaec"/><stop offset="0.728" stop-color="#6cf5fc"/><stop offset="0.775" stop-color="#3865ff"/><stop offset="0.812" stop-color="#1c16ff"/><stop offset="0.832" stop-color="#1400ff"/><stop offset="0.864" stop-color="#1709ff"/><stop offset="0.937" stop-color="#3864ff"/><stop offset="0.958" stop-color="#4a96ff"/><stop offset="0.984" stop-color="#6aedfd"/><stop offset="0.990" stop-color="#6efaf9"/><stop offset="1.000" stop-color="#67fad3"/></linearGradient>
<linearGradient id="hc56" x1="0" x2="1" y1="0" y2="0"><stop offset="0.000" stop-color="#57b7ff"/><stop offset="0.016" stop-color="#6cf3fc"/><stop offset="0.021" stop-color="#6bfaea"/><stop offset="0.031" stop-color="#5cf9a7"/><stop offset="0.047" stop-color="#35f821"/><stop offset="0.052" stop-color="#36f811"/><stop offset="0.068" stop-color="#45fa06"/><stop offset="0.094" stop-color="#b8f928"/><stop offset="0.105" stop-color="#d8fa32"/><stop offset="0.131" stop-color="#e9f738"/><stop offset="0.152" stop-color="#dcf934"/><stop offset="0.162" stop-color="#c4f92c"/><stop offset="0.183" stop-color="#6ff911"/><stop offset="0.194" stop-color="#44fa06"/><stop offset="0.209" stop-color="#35f812"/><stop offset="0.215" stop-color="#36f826"/><stop offset="0.236" stop-color="#66facc"/><stop offset="0.246" stop-color="#6cf5fc"/><stop offset="0.288" stop-color="#3356ff"/><stop offset="0.314" stop-color="#1400ff"/><stop offset="0.414" stop-color="#1400ff"/><stop offset="0.424" stop-color="#242cff"/><stop offset="0.445" stop-color="#51a8ff"/><stop offset="0.455" stop-color="#67e5fd"/><stop offset="0.461" stop-color="#6dfaf4"/><stop offset="0.471" stop-color="#5cf9a7"/><stop offset="0.487" stop-color="#33f813"/><stop offset="0.503" stop-color="#45fa05"/><stop offset="0.524" stop-color="#cffa2f"/><stop offset="0.534" stop-color="#f4f53c"/><stop offset="0.545" stop-color="#f2ac2c"/><stop offset="0.560" stop-color="#f5631e"/><stop offset="0.581" stop-color="#f84317"/><stop offset="0.602" stop-color="#f84618"/><stop offset="0.618" stop-color="#f65e1d"/><stop offset="0.628" stop-color="#f48625"/><stop offset="0.639" stop-color="#f3bf30"/><stop offset="0.644" stop-color="#f4e538"/><stop offset="0.649" stop-color="#ecf739"/><stop offset="0.654" stop-color="#dcf934"/><stop offset="0.675" stop-color="#5af90b"/><stop offset="0.681" stop-color="#44fa07"/><stop offset="0.696" stop-color="#33f814"/><stop offset="0.717" stop-color="#64fabd"/><stop offset="0.728" stop-color="#6cfaf2"/><stop offset="0.738" stop-color="#65defe"/><stop offset="0.770" stop-color="#3e76ff"/><stop offset="0.806" stop-color="#2123ff"/><stop offset="0.832" stop-color="#1606ff"/><stop offset="0.864" stop-color="#180aff"/><stop offset="0.937" stop-color="#3254ff"/><stop offset="0.963" stop-color="#4486ff"/><stop offset="1.000" stop-color="#6bf0fd"/></linearGradient>
<linearGradient id="hc57" x1="0" x2="1" y1="0" y2="0"><stop offset="0.000" stop-color="#4a97ff"/><stop offset="0.026" stop-color="#6dfaf8"/><stop offset="0.037" stop-color="#63fabb"/><stop offset="0.052" stop-color="#39f830"/><stop offset="0.058" stop-color="#34f812"/><stop offset="0.073" stop-color="#44fa07"/><stop offset="0.084" stop-color="#70f911"/><stop offset="0.105" stop-color="#c7fa2d"/><stop offset="0.115" stop-color="#def934"/><stop offset="0.141" stop-color="#eaf738"/><stop offset="0.162" stop-color="#dafa33"/><stop offset="0.178" stop-color="#a8f922"/><stop offset="0.199" stop-color="#46fa05"/><stop offset="0.220" stop-color="#32f816"/><stop offset="0.241" stop-color="#65fac3"/><stop offset="0.251" stop-color="#6efafc"/><stop offset="0.293" stop-color="#2f4aff"/><stop offset="0.314" stop-color="#1400ff"/><stop offset="0.419" stop-color="#1504ff"/><stop offset="0.450" stop-color="#4fa4ff"/><stop offset="0.466" stop-color="#6cf5fc"/><stop offset="0.476" stop-color="#65fac3"/><stop offset="0.492" stop-color="#3af834"/><stop offset="0.497" stop-color="#34f813"/><stop offset="0.513" stop-color="#46fa05"/><stop offset="0.534" stop-color="#c8fa2d"/><stop offset="0.545" stop-color="#eff63a"/><stop offset="0.550" stop-color="#f4e138"/><stop offset="0.560" stop-color="#f2a42b"/><stop offset="0.576" stop-color="#f56b1f"/><stop offset="0.592" stop-color="#f6581c"/><stop offset="0.613" stop-color="#f5611d"/><stop offset="0.628" stop-color="#f38d26"/><stop offset="0.639" stop-color="#f3bd30"/><stop offset="0.649" stop-color="#f0f63a"/><stop offset="0.660" stop-color="#cdfa2f"/><stop offset="0.681" stop-color="#4dfa07"/><stop offset="0.696" stop-color="#36f811"/><stop offset="0.702" stop-color="#35f81f"/><stop offset="0.723" stop-color="#66fac8"/><stop offset="0.733" stop-color="#6ef9fc"/><stop offset="0.770" stop-color="#3e77ff"/><stop offset="0.801" stop-color="#242eff"/><stop offset="0.832" stop-color="#1707ff"/><stop offset="0.864" stop-color="#1607ff"/><stop offset="0.937" stop-color="#2c42ff"/><stop offset="0.969" stop-color="#3d73ff"/><stop offset="1.000" stop-color="#5cc5ff"/></linearGradient>
<linearGradient id="hc58" x1="0" x2="1" y1="0" y2="0"><stop offset="0.000" stop-color="#3e76ff"/><stop offset="0.016" stop-color="#52aaff"/><stop offset="0.031" stop-color="#6aeefd"/><stop offset="0.037" stop-color="#6cfaee"/><stop offset="0.047" stop-color="#5dfaa8"/><stop offset="0.063" stop-color="#34f81c"/><stop offset="0.079" stop-color="#41fa09"/><stop offset="0.084" stop-color="#46fa05"/><stop offset="0.105" stop-color="#a8f922"/><stop offset="0.120" stop-color="#d9fa33"/><stop offset="0.147" stop-color="#e7f737"/><stop offset="0.168" stop-color="#d9fa33"/><stop offset="0.183" stop-color="#a9f923"/><stop offset="0.204" stop-color="#4afa06"/><stop offset="0.225" stop-color="#33f813"/><stop offset="0.241" stop-color="#55f992"/><stop offset="0.246" stop-color="#64fabf"/><stop offset="0.257" stop-color="#6efafa"/><stop offset="0.272" stop-color="#56b5ff"/><stop offset="0.304" stop-color="#2227ff"/><stop offset="0.314" stop-color="#1400ff"/><stop offset="0.419" stop-color="#1400ff"/><stop offset="0.429" stop-color="#2125ff"/><stop offset="0.471" stop-color="#68e8fd"/><stop offset="0.476" stop-color="#6dfaf7"/><stop offset="0.487" stop-color="#63fabb"/><stop offset="0.503" stop-color="#3af833"/><stop offset="0.508" stop-color="#34f813"/><stop offset="0.524" stop-color="#44fa06"/><stop offset="0.550" stop-color="#d4fa31"/><stop offset="0.560" stop-color="#f0f63a"/><stop offset="0.581" stop-color="#f3a12a"/><stop offset="0.597" stop-color="#f48424"/><stop offset="0.613" stop-color="#f48625"/><stop offset="0.628" stop-color="#f2a62b"/><stop offset="0.644" stop-color="#f5ec3a"/><stop offset="0.654" stop-color="#e0f935"/><stop offset="0.665" stop-color="#b0f925"/><stop offset="0.681" stop-color="#56fa0a"/><stop offset="0.686" stop-color="#43fa07"/><stop offset="0.702" stop-color="#33f813"/><stop offset="0.717" stop-color="#55f990"/><stop offset="0.723" stop-color="#63fabc"/><stop offset="0.733" stop-color="#6dfaf4"/><stop offset="0.743" stop-color="#63d9fe"/><stop offset="0.770" stop-color="#3e76ff"/><stop offset="0.801" stop-color="#232bff"/><stop offset="0.832" stop-color="#1605ff"/><stop offset="0.874" stop-color="#1504ff"/><stop offset="0.942" stop-color="#2734ff"/><stop offset="0.984" stop-color="#3c70ff"/><stop offset="1.000" stop-color="#4890ff"/></linearGradient>
<linearGradient id="hc59" x1="0" x2="1" y1="0" y2="0"><stop offset="0.000" stop-color="#3357ff"/><stop offset="0.016" stop-color="#417eff"/><stop offset="0.042" stop-color="#6bf2fd"/><stop offset="0.047" stop-color="#6bfae7"/><stop offset="0.052" stop-color="#65fac7"/><stop offset="0.073" stop-color="#32f814"/><stop offset="0.094" stop-color="#4bfa06"/><stop offset="0.115" stop-color="#a6f922"/><stop offset="0.131" stop-color="#d2fa30"/><stop offset="0.152" stop-color="#dff935"/><stop offset="0.168" stop-color="#d8fa32"/><stop offset="0.183" stop-color="#b2f926"/><stop offset="0.204" stop-color="#5ff90c"/><stop offset="0.209" stop-color="#46fa05"/><stop offset="0.230" stop-color="#32f814"/><stop offset="0.251" stop-color="#64fac1"/><stop offset="0.262" stop-color="#6ef9fc"/><stop offset="0.277" stop-color="#53adff"/><stop offset="0.309" stop-color="#1c16ff"/><stop offset="0.314" stop-color="#1400ff"/><stop offset="0.424" stop-color="#1605ff"/><stop offset="0.466" stop-color="#53aeff"/><stop offset="0.482" stop-color="#6aedfd"/><stop offset="0.487" stop-color="#6cfaf3"/><stop offset="0.497" stop-color="#63fabb"/><stop offset="0.518" stop-color="#32f814"/><stop offset="0.539" stop-color="#4afa06"/><stop offset="0.565" stop-color="#cffa2f"/><stop offset="0.581" stop-color="#f1f63b"/><stop offset="0.602" stop-color="#f3c732"/><stop offset="0.618" stop-color="#f3c532"/><stop offset="0.634" stop-color="#f4e739"/><stop offset="0.639" stop-color="#f3f53b"/><stop offset="0.654" stop-color="#d5fa31"/><stop offset="0.681" stop-color="#53fa09"/><stop offset="0.686" stop-color="#43fa07"/><stop offset="0.702" stop-color="#34f813"/><stop offset="0.707" stop-color="#39f831"/><stop offset="0.723" stop-color="#60fab3"/><stop offset="0.733" stop-color="#6cfaf0"/><stop offset="0.738" stop-color="#6aeffd"/><stop offset="0.770" stop-color="#3d73ff"/><stop offset="0.796" stop-color="#252fff"/><stop offset="0.827" stop-color="#1502ff"/><stop offset="0.906" stop-color="#1504ff"/><stop offset="0.963" stop-color="#2734ff"/><stop offset="1.000" stop-color="#3864ff"/></linearGradient>
<linearGradient id="hc60" x1="0" x2="1" y1="0" y2="0"><stop offset="0.000" stop-color="#293aff"/><stop offset="0.016" stop-color="#3356ff"/><stop offset="0.031" stop-color="#478eff"/><stop offset="0.052" stop-color="#6cf5fc"/><stop offset="0.063" stop-color="#65fac2"/><stop offset="0.079" stop-color="#3bf838"/><stop offset="0.084" stop-color="#33f813"/><stop offset="0.105" stop-color="#46fa05"/><stop offset="0.126" stop-color="#99f81d"/><stop offset="0.141" stop-color="#bff92a"/><stop offset="0.157" stop-color="#cdfa2f"/><stop offset="0.173" stop-color="#c2f92b"/><stop offset="0.188" stop-color="#9ff91f"/><stop offset="0.215" stop-color="#44fa07"/><stop offset="0.230" stop-color="#36f811"/><stop offset="0.236" stop-color="#35f81e"/><stop offset="0.257" stop-color="#66fac9"/><stop offset="0.262" stop-color="#6bfae8"/><stop offset="0.267" stop-color="#6bf2fd"/><stop offset="0.283" stop-color="#4ea1ff"/><stop offset="0.309" stop-color="#1e1bff"/><stop offset="0.314" stop-color="#1503ff"/><stop offset="0.424" stop-color="#1400ff"/><stop offset="0.476" stop-color="#56b7ff"/><stop offset="0.492" stop-color="#6aedfd"/><stop offset="0.497" stop-color="#6dfaf5"/><stop offset="0.508" stop-color="#65fac4"/><stop offset="0.529" stop-color="#37f829"/><stop offset="0.534" stop-color="#34f812"/><stop offset="0.555" stop-color="#4afa06"/><stop offset="0.581" stop-color="#b8f928"/><stop offset="0.592" stop-color="#d7fa32"/><stop offset="0.618" stop-color="#e8f738"/><stop offset="0.644" stop-color="#d4fa31"/><stop offset="0.665" stop-color="#8bf819"/><stop offset="0.681" stop-color="#46fa05"/><stop offset="0.702" stop-color="#33f814"/><stop offset="0.717" stop-color="#53f98a"/><stop offset="0.723" stop-color="#61fab5"/><stop offset="0.733" stop-color="#6cfaf1"/><stop offset="0.738" stop-color="#6aeefd"/><stop offset="0.770" stop-color="#3b6dff"/><stop offset="0.796" stop-color="#2227ff"/><stop offset="0.822" stop-color="#1400ff"/><stop offset="0.937" stop-color="#1503ff"/><stop offset="1.000" stop-color="#2b40ff"/></linearGradient>
<linearGradient id="hc61" x1="0" x2="1" y1="0" y2="0"><stop offset="0.000" stop-color="#1f20ff"/><stop offset="0.016" stop-color="#2633ff"/><stop offset="0.031" stop-color="#3660ff"/><stop offset="0.047" stop-color="#51a9ff"/><stop offset="0.063" stop-color="#6df7fc"/><stop offset="0.073" stop-color="#65fac1"/><stop offset="0.089" stop-color="#3cf83c"/><stop offset="0.094" stop-color="#32f814"/><stop offset="0.115" stop-color="#44fa07"/><stop offset="0.141" stop-color="#90f81a"/><stop offset="0.157" stop-color="#a8f922"/><stop offset="0.173" stop-color="#a8f922"/><stop offset="0.194" stop-color="#83f817"/><stop offset="0.215" stop-color="#44fa06"/><stop offset="0.236" stop-color="#33f813"/><stop offset="0.246" stop-color="#44f85c"/><stop offset="0.257" stop-color="#61fab5"/><stop offset="0.267" stop-color="#6dfaf5"/><stop offset="0.277" stop-color="#60d0ff"/><stop offset="0.304" stop-color="#293bff"/><stop offset="0.314" stop-color="#1707ff"/><stop offset="0.330" stop-color="#1400ff"/><stop offset="0.424" stop-color="#1400ff"/><stop offset="0.440" stop-color="#242dff"/><stop offset="0.508" stop-color="#6ef9fc"/><stop offset="0.524" stop-color="#61fab5"/><stop offset="0.545" stop-color="#36f826"/><stop offset="0.550" stop-color="#34f812"/><stop offset="0.571" stop-color="#44fa06"/><stop offset="0.602" stop-color="#9df81f"/><stop offset="0.618" stop-color="#b2f926"/><stop offset="0.634" stop-color="#aff925"/><stop offset="0.654" stop-color="#88f818"/><stop offset="0.675" stop-color="#45fa06"/><stop offset="0.696" stop-color="#35f812"/><stop offset="0.702" stop-color="#36f823"/><stop offset="0.723" stop-color="#64fac1"/><stop offset="0.733" stop-color="#6dfaf7"/><stop offset="0.749" stop-color="#59bdff"/><stop offset="0.770" stop-color="#3865ff"/><stop offset="0.796" stop-color="#1e1dff"/><stop offset="0.812" stop-color="#1400ff"/><stop offset="0.963" stop-color="#1503ff"/><stop offset="1.000" stop-color="#2023ff"/></linearGradient>
<linearGradient id="hc62" x1="0" x2="1" y1="0" y2="0"><stop offset="0.000" stop-color="#1709ff"/><stop offset="0.021" stop-color="#2020ff"/><stop offset="0.037" stop-color="#2f4cff"/><stop offset="0.052" stop-color="#4790ff"/><stop offset="0.068" stop-color="#66e1fe"/><stop offset="0.073" stop-color="#6df7fc"/><stop offset="0.084" stop-color="#65fac4"/><stop offset="0.105" stop-color="#36f825"/><stop offset="0.110" stop-color="#34f812"/><stop offset="0.136" stop-color="#48fa06"/><stop offset="0.157" stop-color="#77f913"/><stop offset="0.178" stop-color="#80f815"/><stop offset="0.199" stop-color="#61f90d"/><stop offset="0.209" stop-color="#46fa05"/><stop offset="0.236" stop-color="#33f813"/><stop offset="0.246" stop-color="#42f853"/><stop offset="0.262" stop-color="#66facc"/><stop offset="0.267" stop-color="#6bfaea"/><stop offset="0.272" stop-color="#6bf1fd"/><stop offset="0.288" stop-color="#4c9cff"/><stop offset="0.314" stop-color="#180bff"/><stop offset="0.319" stop-color="#1400ff"/><stop offset="0.429" stop-color="#1605ff"/><stop offset="0.461" stop-color="#365eff"/><stop offset="0.497" stop-color="#56b6ff"/><stop offset="0.524" stop-color="#6dfaf6"/><stop offset="0.539" stop-color="#60fab2"/><stop offset="0.565" stop-color="#32f814"/><stop offset="0.602" stop-color="#4cfa07"/><stop offset="0.623" stop-color="#6af90f"/><stop offset="0.644" stop-color="#64f90d"/><stop offset="0.665" stop-color="#44fa06"/><stop offset="0.691" stop-color="#34f812"/><stop offset="0.696" stop-color="#36f823"/><stop offset="0.712" stop-color="#53f98b"/><stop offset="0.723" stop-color="#67fad0"/><stop offset="0.733" stop-color="#6cf4fc"/><stop offset="0.749" stop-color="#55b2ff"/><stop offset="0.770" stop-color="#345bff"/><stop offset="0.796" stop-color="#1a12ff"/><stop offset="0.806" stop-color="#1400ff"/><stop offset="0.990" stop-color="#1503ff"/><stop offset="1.000" stop-color="#180bff"/></linearGradient>
<linearGradient id="hc63" x1="0" x2="1" y1="0" y2="0"><stop offset="0.000" stop-color="#1400ff"/><stop offset="0.016" stop-color="#1502ff"/><stop offset="0.037" stop-color="#242eff"/><stop offset="0.058" stop-color="#407cff"/><stop offset="0.079" stop-color="#65e0fe"/><stop offset="0.084" stop-color="#6cf5fc"/><stop offset="0.094" stop-color="#66facd"/><stop offset="0.120" stop-color="#35f820"/><stop offset="0.126" stop-color="#34f812"/><stop offset="0.168" stop-color="#4dfa07"/><stop offset="0.188" stop-color="#4efa07"/><stop offset="0.230" stop-color="#35f811"/><stop offset="0.236" stop-color="#32f816"/><stop offset="0.251" stop-color="#4ef97c"/><stop offset="0.262" stop-color="#66fac8"/><stop offset="0.272" stop-color="#6cf5fc"/><stop offset="0.283" stop-color="#5cc4ff"/><stop offset="0.314" stop-color="#190fff"/><stop offset="0.319" stop-color="#1400ff"/><stop offset="0.429" stop-color="#1400ff"/><stop offset="0.455" stop-color="#2e4aff"/><stop offset="0.508" stop-color="#54afff"/><stop offset="0.534" stop-color="#6bf1fd"/><stop offset="0.539" stop-color="#6dfaf6"/><stop offset="0.555" stop-color="#63fabc"/><stop offset="0.576" stop-color="#40f84b"/><stop offset="0.586" stop-color="#34f81a"/><stop offset="0.607" stop-color="#3bf90d"/><stop offset="0.660" stop-color="#3df90c"/><stop offset="0.681" stop-color="#34f813"/><stop offset="0.686" stop-color="#34f81d"/><stop offset="0.702" stop-color="#49f86e"/><stop offset="0.717" stop-color="#66facd"/><stop offset="0.728" stop-color="#6ef9fc"/><stop offset="0.743" stop-color="#59bdff"/><stop offset="0.770" stop-color="#3150ff"/><stop offset="0.796" stop-color="#1707ff"/><stop offset="0.812" stop-color="#1400ff"/><stop offset="1.000" stop-color="#1400ff"/></linearGradient>
<linearGradient id="hc64" x1="0" x2="1" y1="0" y2="0"><stop offset="0.000" stop-color="#1400ff"/><stop offset="0.026" stop-color="#1605ff"/><stop offset="0.052" stop-color="#2e49ff"/><stop offset="0.079" stop-color="#54b1ff"/><stop offset="0.094" stop-color="#6aeffd"/><stop offset="0.099" stop-color="#6cfaf2"/><stop offset="0.110" stop-color="#65fac3"/><stop offset="0.131" stop-color="#3ff847"/><stop offset="0.141" stop-color="#32f815"/><stop offset="0.194" stop-color="#3ff90a"/><stop offset="0.230" stop-color="#32f815"/><stop offset="0.246" stop-color="#47f867"/><stop offset="0.262" stop-color="#66facd"/><stop offset="0.272" stop-color="#6cf5fc"/><stop offset="0.283" stop-color="#5dc7ff"/><stop offset="0.314" stop-color="#1a12ff"/><stop offset="0.319" stop-color="#1400ff"/><stop offset="0.429" stop-color="#1400ff"/><stop offset="0.461" stop-color="#304eff"/><stop offset="0.518" stop-color="#50a6ff"/><stop offset="0.555" stop-color="#6ef9fc"/><stop offset="0.576" stop-color="#62fab9"/><stop offset="0.597" stop-color="#44f85e"/><stop offset="0.618" stop-color="#35f821"/><stop offset="0.628" stop-color="#33f813"/><stop offset="0.660" stop-color="#32f814"/><stop offset="0.681" stop-color="#3ff848"/><stop offset="0.696" stop-color="#53f98a"/><stop offset="0.712" stop-color="#68fad4"/><stop offset="0.723" stop-color="#6ef9fc"/><stop offset="0.743" stop-color="#52abff"/><stop offset="0.770" stop-color="#2d46ff"/><stop offset="0.796" stop-color="#1400ff"/><stop offset="1.000" stop-color="#1400ff"/></linearGradient>
<linearGradient id="hc65" x1="0" x2="1" y1="0" y2="0"><stop offset="0.000" stop-color="#1400ff"/><stop offset="0.026" stop-color="#1400ff"/><stop offset="0.052" stop-color="#2a3eff"/><stop offset="0.084" stop-color="#53adff"/><stop offset="0.105" stop-color="#6df8fc"/><stop offset="0.120" stop-color="#64fabf"/><stop offset="0.141" stop-color="#41f84f"/><stop offset="0.157" stop-color="#32f814"/><stop offset="0.209" stop-color="#37f810"/><stop offset="0.225" stop-color="#33f819"/><stop offset="0.241" stop-color="#44f85c"/><stop offset="0.262" stop-color="#67fad3"/><stop offset="0.272" stop-color="#6bf2fd"/><stop offset="0.283" stop-color="#5cc5ff"/><stop offset="0.314" stop-color="#1b13ff"/><stop offset="0.319" stop-color="#1400ff"/><stop offset="0.429" stop-color="#1400ff"/><stop offset="0.466" stop-color="#3254ff"/><stop offset="0.529" stop-color="#51a8ff"/><stop offset="0.565" stop-color="#6df6fc"/><stop offset="0.592" stop-color="#61fab5"/><stop offset="0.618" stop-color="#45f85f"/><stop offset="0.639" stop-color="#3df841"/><stop offset="0.660" stop-color="#3ff847"/><stop offset="0.675" stop-color="#46f864"/><stop offset="0.712" stop-color="#6bfae8"/><stop offset="0.717" stop-color="#6efafb"/><stop offset="0.733" stop-color="#5fccff"/><stop offset="0.764" stop-color="#3152ff"/><stop offset="0.791" stop-color="#1708ff"/><stop offset="0.801" stop-color="#1400ff"/><stop offset="1.000" stop-color="#1400ff"/></linearGradient>
</defs>
<rect x="56.0" y="240.2" width="143.8" height="2.6" fill="url(#hc0)"/>
<rect x="56.0" y="242.2" width="143.8" height="2.6" fill="url(#hc1)"/>
<rect x="56.0" y="244.2" width="143.8" height="2.6" fill="url(#hc2)"/>
<rect x="56.0" y="246.2" width="143.8" height="2.6" fill="url(#hc3)"/>
<rect x="56.0" y="248.2" width="143.8" height="2.6" fill="url(#hc4)"/>
<rect x="56.0" y="250.2" width="143.8" height="2.6" fill="url(#hc5)"/>
<rect x="56.0" y="252.2" width="143.8" height="2.6" fill="url(#hc6)"/>
<rect x="56.0" y="254.2" width="143.8" height="2.6" fill="url(#hc7)"/>
<rect x="56.0" y="256.2" width="143.8" height="2.6" fill="url(#hc8)"/>
<rect x="56.0" y="258.2" width="143.8" height="2.6" fill="url(#hc9)"/>
<rect x="56.0" y="260.2" width="143.8" height="2.6" fill="url(#hc10)"/>
<rect x="56.0" y="262.2" width="143.8" height="2.6" fill="url(#hc11)"/>
<rect x="56.0" y="264.2" width="143.8" height="2.6" fill="url(#hc12)"/>
<rect x="56.0" y="266.2" width="143.8" height="2.6" fill="url(#hc13)"/>
<rect x="56.0" y="268.2" width="143.8" height="2.6" fill="url(#hc14)"/>
<rect x="56.0" y="270.2" width="143.8" height="2.6" fill="url(#hc15)"/>
<rect x="56.0" y="272.2" width="143.8" height="2.6" fill="url(#hc16)"/>
<rect x="56.0" y="274.2" width="143.8" height="2.6" fill="url(#hc17)"/>
<rect x="56.0" y="276.2" width="143.8" height="2.6" fill="url(#hc18)"/>
<rect x="56.0" y="278.2" width="143.8" height="2.6" fill="url(#hc19)"/>
<rect x="56.0" y="280.2" width="143.8" height="2.6" fill="url(#hc20)"/>
<rect x="56.0" y="282.2" width="143.8" height="2.6" fill="url(#hc21)"/>
<rect x="56.0" y="284.2" width="143.8" height="2.6" fill="url(#hc22)"/>
<rect x="56.0" y="286.2" width="143.8" height="2.6" fill="url(#hc23)"/>
<rect x="56.0" y="288.2" width="143.8" height="2.6" fill="url(#hc24)"/>
<rect x="56.0" y="290.2" width="143.8" height="2.6" fill="url(#hc25)"/>
<rect x="56.0" y="292.2" width="143.8" height="2.6" fill="url(#hc26)"/>
<rect x="56.0" y="294.2" width="143.8" height="2.6" fill="url(#hc27)"/>
<rect x="56.0" y="296.2" width="143.8" height="2.6" fill="url(#hc28)"/>
<rect x="56.0" y="298.2" width="143.8" height="2.6" fill="url(#hc29)"/>
<rect x="56.0" y="300.2" width="143.8" height="2.6" fill="url(#hc30)"/>
<rect x="56.0" y="302.2" width="143.8" height="2.6" fill="url(#hc31)"/>
<rect x="56.0" y="304.2" width="143.8" height="2.6" fill="url(#hc32)"/>
<rect x="56.0" y="306.2" width="143.8" height="2.6" fill="url(#hc33)"/>
<rect x="56.0" y="308.2" width="143.8" height="2.6" fill="url(#hc34)"/>
<rect x="56.0" y="310.2" width="143.8" height="2.6" fill="url(#hc35)"/>
<rect x="56.0" y="312.2" width="143.8" height="2.6" fill="url(#hc36)"/>
<rect x="56.0" y="314.2" width="143.8" height="2.6" fill="url(#hc37)"/>
<rect x="56.0" y="316.2" width="143.8" height="2.6" fill="url(#hc38)"/>
<rect x="56.0" y="318.2" width="143.8" height="2.6" fill="url(#hc39)"/>
<rect x="56.0" y="320.2" width="143.8" height="2.6" fill="url(#hc40)"/>
<rect x="56.0" y="322.2" width="143.8" height="2.6" fill="url(#hc41)"/>
<rect x="56.0" y="324.2" width="143.8" height="2.6" fill="url(#hc42)"/>
<rect x="56.0" y="326.2" width="143.8" height="2.6" fill="url(#hc43)"/>
<rect x="56.0" y="328.2" width="143.8" height="2.6" fill="url(#hc44)"/>
<rect x="56.0" y="330.2" width="143.8" height="2.6" fill="url(#hc45)"/>
<rect x="56.0" y="332.2" width="143.8" height="2.6" fill="url(#hc46)"/>
<rect x="56.0" y="334.2" width="143.8" height="2.6" fill="url(#hc47)"/>
<rect x="56.0" y="336.2" width="143.8" height="2.6" fill="url(#hc48)"/>
<rect x="56.0" y="338.2" width="143.8" height="2.6" fill="url(#hc49)"/>
<rect x="56.0" y="340.2" width="143.8" height="2.6" fill="url(#hc50)"/>
<rect x="56.0" y="342.2" width="143.8" height="2.6" fill="url(#hc51)"/>
<rect x="56.0" y="344.2" width="143.8" height="2.6" fill="url(#hc52)"/>
<rect x="56.0" y="346.2" width="143.8" height="2.6" fill="url(#hc53)"/>
<rect x="56.0" y="348.2" width="143.8" height="2.6" fill="url(#hc54)"/>
<rect x="56.0" y="350.2" width="143.8" height="2.6" fill="url(#hc55)"/>
<rect x="56.0" y="352.2" width="143.8" height="2.6" fill="url(#hc56)"/>
<rect x="56.0" y="354.2" width="143.8" height="2.6" fill="url(#hc57)"/>
<rect x="56.0" y="356.2" width="143.8" height="2.6" fill="url(#hc58)"/>
<rect x="56.0" y="358.2" width="143.8" height="2.6" fill="url(#hc59)"/>
<rect x="56.0" y="360.2" width="143.8" height="2.6" fill="url(#hc60)"/>
<rect x="56.0" y="362.2" width="143.8" height="2.6" fill="url(#hc61)"/>
<rect x="56.0" y="364.2" width="143.8" height="2.6" fill="url(#hc62)"/>
<rect x="56.0" y="366.2" width="143.8" height="2.6" fill="url(#hc63)"/>
<rect x="56.0" y="368.2" width="143.8" height="2.6" fill="url(#hc64)"/>
<rect x="56.0" y="370.2" width="143.8" height="0.8" fill="url(#hc65)"/>
<rect x="56" y="240.2" width="143.8" height="130.2" fill="none" stroke="#111" stroke-width="1.3"/>
<line x1="53.8" y1="348.69" x2="56" y2="348.69" stroke="#111" stroke-width="1" />
<text x="52.2" y="351.89" font-size="9" font-weight="bold" text-anchor="end" textLength="8.6" lengthAdjust="spacingAndGlyphs">50</text>
<line x1="53.8" y1="326.49" x2="56" y2="326.49" stroke="#111" stroke-width="1" />
<text x="52.2" y="329.69" font-size="9" font-weight="bold" text-anchor="end" textLength="12.9" lengthAdjust="spacingAndGlyphs">100</text>
<line x1="53.8" y1="304.29" x2="56" y2="304.29" stroke="#111" stroke-width="1" />
<text x="52.2" y="307.49" font-size="9" font-weight="bold" text-anchor="end" textLength="12.9" lengthAdjust="spacingAndGlyphs">150</text>
<line x1="53.8" y1="282.09" x2="56" y2="282.09" stroke="#111" stroke-width="1" />
<text x="52.2" y="285.29" font-size="9" font-weight="bold" text-anchor="end" textLength="12.9" lengthAdjust="spacingAndGlyphs">200</text>
<line x1="53.8" y1="259.89" x2="56" y2="259.89" stroke="#111" stroke-width="1" />
<text x="52.2" y="263.09" font-size="9" font-weight="bold" text-anchor="end" textLength="12.9" lengthAdjust="spacingAndGlyphs">250</text>
<line x1="54" y1="359.79" x2="56" y2="359.79" stroke="#111" stroke-width="0.8" />
<line x1="54" y1="337.59" x2="56" y2="337.59" stroke="#111" stroke-width="0.8" />
<line x1="54" y1="315.39" x2="56" y2="315.39" stroke="#111" stroke-width="0.8" />
<line x1="54" y1="293.19" x2="56" y2="293.19" stroke="#111" stroke-width="0.8" />
<line x1="54" y1="270.99" x2="56" y2="270.99" stroke="#111" stroke-width="0.8" />
<line x1="54" y1="248.79" x2="56" y2="248.79" stroke="#111" stroke-width="0.8" />
<line x1="79.81" y1="370.4" x2="79.81" y2="372.6" stroke="#111" stroke-width="1" />
<text x="79.81" y="381.5" font-size="8.6" font-weight="bold" text-anchor="middle" textLength="8.8" lengthAdjust="spacingAndGlyphs">50</text>
<line x1="104.11" y1="370.4" x2="104.11" y2="372.6" stroke="#111" stroke-width="1" />
<text x="104.11" y="381.5" font-size="8.6" font-weight="bold" text-anchor="middle" textLength="13.2" lengthAdjust="spacingAndGlyphs">100</text>
<line x1="128.41" y1="370.4" x2="128.41" y2="372.6" stroke="#111" stroke-width="1" />
<text x="128.41" y="381.5" font-size="8.6" font-weight="bold" text-anchor="middle" textLength="13.2" lengthAdjust="spacingAndGlyphs">150</text>
<line x1="152.71" y1="370.4" x2="152.71" y2="372.6" stroke="#111" stroke-width="1" />
<text x="152.71" y="381.5" font-size="8.6" font-weight="bold" text-anchor="middle" textLength="13.2" lengthAdjust="spacingAndGlyphs">200</text>
<line x1="177.01" y1="370.4" x2="177.01" y2="372.6" stroke="#111" stroke-width="1" />
<text x="177.01" y="381.5" font-size="8.6" font-weight="bold" text-anchor="middle" textLength="13.2" lengthAdjust="spacingAndGlyphs">250</text>
<line x1="67.66" y1="370.4" x2="67.66" y2="372.4" stroke="#111" stroke-width="0.8" />
<line x1="91.96" y1="370.4" x2="91.96" y2="372.4" stroke="#111" stroke-width="0.8" />
<line x1="116.26" y1="370.4" x2="116.26" y2="372.4" stroke="#111" stroke-width="0.8" />
<line x1="140.56" y1="370.4" x2="140.56" y2="372.4" stroke="#111" stroke-width="0.8" />
<line x1="164.86" y1="370.4" x2="164.86" y2="372.4" stroke="#111" stroke-width="0.8" />
<line x1="189.16" y1="370.4" x2="189.16" y2="372.4" stroke="#111" stroke-width="0.8" />
<text x="122.3" y="396.6" font-size="11.6" font-weight="bold" text-anchor="middle">HTL Thickness (nm)</text>
<text x="33.3" y="305" font-size="12.4" font-weight="bold" text-anchor="middle" transform="rotate(-90 33.3 305)">ETL Thickness (nm)</text>
<defs><linearGradient id="cbc" x1="0" y1="0" x2="0" y2="1"><stop offset="-0.000" stop-color="#fa2b11"/><stop offset="0.025" stop-color="#fa2e12"/><stop offset="0.050" stop-color="#fa3113"/><stop offset="0.075" stop-color="#f84417"/><stop offset="0.100" stop-color="#f6571b"/><stop offset="0.125" stop-color="#f46e20"/><stop offset="0.150" stop-color="#f38d26"/><stop offset="0.175" stop-color="#f2ac2c"/><stop offset="0.200" stop-color="#f3d034"/><stop offset="0.225" stop-color="#f4f43b"/><stop offset="0.250" stop-color="#e7f737"/><stop offset="0.275" stop-color="#d9f932"/><stop offset="0.300" stop-color="#c1f92a"/><stop offset="0.325" stop-color="#a7f822"/><stop offset="0.350" stop-color="#8df819"/><stop offset="0.375" stop-color="#75f812"/><stop offset="0.400" stop-color="#5cf90b"/><stop offset="0.425" stop-color="#45f905"/><stop offset="0.450" stop-color="#41f908"/><stop offset="0.475" stop-color="#3df90b"/><stop offset="0.500" stop-color="#39f80e"/><stop offset="0.525" stop-color="#35f811"/><stop offset="0.550" stop-color="#34f81c"/><stop offset="0.575" stop-color="#3cf83d"/><stop offset="0.600" stop-color="#44f85e"/><stop offset="0.625" stop-color="#50f883"/><stop offset="0.650" stop-color="#5cf9a8"/><stop offset="0.675" stop-color="#65fac9"/><stop offset="0.700" stop-color="#69fae2"/><stop offset="0.725" stop-color="#6df9fc"/><stop offset="0.750" stop-color="#66e4fd"/><stop offset="0.775" stop-color="#5fcffe"/><stop offset="0.800" stop-color="#55b3ff"/><stop offset="0.825" stop-color="#4995ff"/><stop offset="0.850" stop-color="#3e77ff"/><stop offset="0.875" stop-color="#345aff"/><stop offset="0.900" stop-color="#2a3dff"/><stop offset="0.925" stop-color="#1f20ff"/><stop offset="0.950" stop-color="#1503ff"/><stop offset="0.975" stop-color="#1400ff"/><stop offset="1.000" stop-color="#1400ff"/></linearGradient></defs><rect x="207.1" y="244.8" width="9.3" height="114.6" fill="url(#cbc)"/>
<text x="219" y="253.17" font-size="7.4" font-weight="bold">7.5</text>
<text x="219" y="287.65" font-size="7.4" font-weight="bold">5.0</text>
<text x="219" y="322.12" font-size="7.4" font-weight="bold">2.5</text>
<text x="219" y="356.6" font-size="7.4" font-weight="bold">0</text>
<text x="254.4" y="226.3" font-size="19.5" font-weight="bold">d)</text>
<defs>
<clipPath id="dclip"><rect x="281.6" y="239.7" width="146.4" height="130.7"/></clipPath>
<filter id="db4" x="-50%" y="-50%" width="200%" height="200%"><feGaussianBlur stdDeviation="3.2"/></filter>
<filter id="db2" x="-50%" y="-50%" width="200%" height="200%"><feGaussianBlur stdDeviation="1.6"/></filter>
<filter id="db1" x="-50%" y="-50%" width="200%" height="200%"><feGaussianBlur stdDeviation="0.8"/></filter>
<filter id="db05" x="-50%" y="-50%" width="200%" height="200%"><feGaussianBlur stdDeviation="0.45"/></filter>
<linearGradient id="dEva" gradientUnits="userSpaceOnUse" x1="380" y1="240" x2="412" y2="338"><stop offset="0" stop-color="#70f4ff" stop-opacity="0.95"/><stop offset="0.45" stop-color="#50c8ff" stop-opacity="0.6"/><stop offset="1" stop-color="#3060ff" stop-opacity="0"/></linearGradient>
<linearGradient id="dTE" gradientUnits="userSpaceOnUse" x1="362" y1="240" x2="370" y2="312"><stop offset="0" stop-color="#60ff70"/><stop offset="0.3" stop-color="#70f0ff"/><stop offset="0.75" stop-color="#50b0ff" stop-opacity="0.5"/><stop offset="1" stop-color="#4090ff" stop-opacity="0"/></linearGradient>
<linearGradient id="dFade" gradientUnits="userSpaceOnUse" x1="0" y1="340" x2="0" y2="362"><stop offset="0" stop-color="#fff"/><stop offset="0.55" stop-color="#fff"/><stop offset="1" stop-color="#000"/></linearGradient>
<mask id="dMask" maskUnits="userSpaceOnUse" x="280" y="230" width="150" height="145"><rect x="280" y="230" width="150" height="145" fill="url(#dFade)"/></mask>
<linearGradient id="dBand" gradientUnits="userSpaceOnUse" x1="0" y1="240" x2="0" y2="360"><stop offset="0" stop-color="#68e0ff" stop-opacity="0.9"/><stop offset="0.35" stop-color="#58c0ff" stop-opacity="0.75"/><stop offset="0.7" stop-color="#50a0ff" stop-opacity="0.55"/><stop offset="1" stop-color="#4080ff" stop-opacity="0.3"/></linearGradient>
<linearGradient id="dCs" gradientUnits="userSpaceOnUse" x1="0" y1="240" x2="0" y2="345"><stop offset="0" stop-color="#80ffff"/><stop offset="0.6" stop-color="#70f0ff" stop-opacity="0.8"/><stop offset="1" stop-color="#50a0ff" stop-opacity="0.2"/></linearGradient>
<linearGradient id="dTMpar" gradientUnits="userSpaceOnUse" x1="0" y1="240" x2="0" y2="360"><stop offset="0" stop-color="#70fff8"/><stop offset="0.12" stop-color="#70fce0"/><stop offset="0.25" stop-color="#58f480"/><stop offset="0.38" stop-color="#48f020"/><stop offset="1" stop-color="#48f020"/></linearGradient>
<linearGradient id="dHaze" gradientUnits="userSpaceOnUse" x1="0" y1="352" x2="0" y2="371"><stop offset="0" stop-color="#3a7cff" stop-opacity="0"/><stop offset="1" stop-color="#4a9cff" stop-opacity="0.8"/></linearGradient>
</defs>
<rect x="281.6" y="239.7" width="146.4" height="130.7" fill="#1400ff"/>
<g clip-path="url(#dclip)">
<ellipse cx="345" cy="370" rx="62" ry="10" fill="#4aa0ff" opacity="0.8" filter="url(#db4)"/><ellipse cx="355" cy="364" rx="22" ry="5" fill="#60d0ff" opacity="0.6" filter="url(#db4)"/>
<path d="M380 236 C380.42 238.67 381.25 246.33 382.5 252 C383.75 257.67 385.42 263.67 387.5 270 C389.58 276.33 392.08 283.33 395 290 C397.92 296.67 401.67 303.33 405 310 C408.33 316.67 413.33 326.67 415 330" fill="none" stroke="url(#dEva)" stroke-width="17" filter="url(#db4)"/>
<path d="M380 236 C380.42 238.67 381.25 246.33 382.5 252 C383.75 257.67 385.42 263.67 387.5 270 C389.58 276.33 392.08 283.33 395 290 C397.92 296.67 401.67 303.33 405 310 C408.33 316.67 413.33 326.67 415 330" fill="none" stroke="url(#dEva)" stroke-width="6" filter="url(#db2)"/>
<path d="M376.5 236 C376.88 238.67 377.63 246.33 378.8 252 C379.97 257.67 381.47 263.67 383.5 270 C385.53 276.33 388.08 283.33 391 290 C393.92 296.67 397.67 303.67 401 310 C404.33 316.33 409.33 325 411 328" fill="none" stroke="url(#dEva)" stroke-width="2.6" opacity="0.9" filter="url(#db1)"/>
<path d="M291 327.5 C292.17 328.25 295.17 330.08 298 332 C300.83 333.92 304.67 336.5 308 339 C311.33 341.5 315 344.5 318 347 C321 349.5 323.67 351.92 326 354 C328.33 356.08 331 358.58 332 359.5" fill="none" stroke="#60e8ff" stroke-width="13" stroke-linecap="round" opacity="0.8" filter="url(#db4)"/>
<path d="M291 327.5 C292.17 328.25 295.17 330.08 298 332 C300.83 333.92 304.67 336.5 308 339 C311.33 341.5 315 344.5 318 347 C321 349.5 324.67 352.83 326 354" fill="none" stroke="#90ffff" stroke-width="6" stroke-linecap="round" opacity="0.85" filter="url(#db2)"/>
<path d="M300 337 C302 338.33 308.33 342.5 312 345 C315.67 347.5 318.83 349.83 322 352 C325.17 354.17 328.33 356.33 331 358 C333.67 359.67 336.83 361.33 338 362" fill="none" stroke="#60d8ff" stroke-width="5" stroke-linecap="round" opacity="0.5" filter="url(#db2)"/>
<polygon points="335.1,238 336.8,250 339.9,270 343,290 344.8,305 348.9,329 354,348 362.2,348 357.8,329 355,305 353.2,290 350.8,270 348,250 346.3,238" fill="url(#dBand)" filter="url(#db2)"/>
<path d="M342.5 238 C342.78 240 343.45 244.67 344.2 250 C344.95 255.33 346.13 263.33 347 270 C347.87 276.67 348.7 284.17 349.4 290 C350.1 295.83 350.43 298.5 351.2 305 C351.97 311.5 353.53 325 354 329" fill="none" stroke="url(#dCs)" stroke-width="4.2" filter="url(#db1)"/>
<path d="M362.3 238 C362.38 240 362.35 244.67 362.8 250 C363.25 255.33 364.3 263.33 365 270 C365.7 276.67 366.37 284.17 367 290 C367.63 295.83 368.3 301.17 368.8 305 C369.3 308.83 369.8 311.67 370 313" fill="none" stroke="url(#dTE)" stroke-width="3" opacity="0.55" filter="url(#db1)"/>
<path d="M362.3 238 C362.38 240 362.35 244.67 362.8 250 C363.25 255.33 364.3 263.33 365 270 C365.7 276.67 366.37 284.17 367 290 C367.63 295.83 368.3 301.17 368.8 305 C369.3 308.83 369.8 311.67 370 313" fill="none" stroke="url(#dTE)" stroke-width="1.3" filter="url(#db05)"/>
<path d="M332.6 238 C332.88 240 333.5 244.67 334.3 250 C335.1 255.33 336.37 263.33 337.4 270 C338.43 276.67 339.68 284.17 340.5 290 C341.32 295.83 341.32 298.5 342.3 305 C343.28 311.5 344.87 321.83 346.4 329 C347.93 336.17 350.07 343.08 351.5 348 C352.93 352.92 353.92 356.08 355 358.5 C356.08 360.92 357.5 361.83 358 362.5" fill="none" stroke="#60f0ff" stroke-width="5" opacity="0.75" filter="url(#db1)"/>
<path d="M332.6 238 C332.88 240 333.5 244.67 334.3 250 C335.1 255.33 336.37 263.33 337.4 270 C338.43 276.67 339.68 284.17 340.5 290 C341.32 295.83 341.32 298.5 342.3 305 C343.28 311.5 344.87 321.83 346.4 329 C347.93 336.17 350.07 343.08 351.5 348 C352.93 352.92 354.42 356.75 355 358.5" fill="none" stroke="#48f020" stroke-width="3.2" mask="url(#dMask)" filter="url(#db05)"/>
<path d="M347.3 238 C347.58 240 348.25 244.67 349 250 C349.75 255.33 350.93 263.33 351.8 270 C352.67 276.67 353.5 284.17 354.2 290 C354.9 295.83 355.23 298.5 356 305 C356.77 311.5 357.6 321.83 358.8 329 C360 336.17 361.58 343.08 363.2 348 C364.82 352.92 367.12 356.08 368.5 358.5 C369.88 360.92 371 361.83 371.5 362.5" fill="none" stroke="#60f0ff" stroke-width="5" opacity="0.75" filter="url(#db1)"/>
<path d="M347.3 238 C347.58 240 348.25 244.67 349 250 C349.75 255.33 350.93 263.33 351.8 270 C352.67 276.67 353.5 284.17 354.2 290 C354.9 295.83 355.23 298.5 356 305 C356.77 311.5 357.6 321.83 358.8 329 C360 336.17 361.58 343.08 363.2 348 C364.82 352.92 367.62 356.75 368.5 358.5" fill="none" stroke="url(#dTMpar)" stroke-width="2.6" mask="url(#dMask)" filter="url(#db05)"/>
<path d="M332.6 238 C332.88 240 333.5 244.67 334.3 250 C335.1 255.33 336.37 263.33 337.4 270 C338.43 276.67 339.68 284.17 340.5 290 C341.32 295.83 341.32 298.5 342.3 305 C343.28 311.5 344.87 321.83 346.4 329 C347.93 336.17 350.65 344.83 351.5 348" fill="none" stroke="#f2e020" stroke-width="1.1" filter="url(#db05)"/>
<path d="M356 305 C356.47 309 357.6 321.83 358.8 329 C360 336.17 362.47 344.83 363.2 348" fill="none" stroke="#f07020" stroke-width="0.8" opacity="0.8" filter="url(#db05)"/>
</g>
<text x="382" y="250.5" font-size="8.3" font-weight="bold" fill="#fff">evanescent</text>
<text x="283.5" y="367.2" font-size="8.4" font-weight="bold" fill="#fff">outcoupled</text>
<text x="378.3" y="364.2" font-size="8.2" font-weight="bold" fill="#fff">WG</text>
<text x="376" y="279.3" font-size="8" font-weight="bold" fill="#fff">TE</text>
<text x="313.8" y="295.6" font-size="8" font-weight="bold" fill="#fff">TM</text><text x="326.2" y="296.5" font-size="5.5" fill="#fff">⊥</text>
<text x="374" y="307.6" font-size="8" font-weight="bold" fill="#fff">TM</text><text x="386.2" y="307.6" font-size="5" font-weight="bold" fill="#fff">ll</text>
<line x1="331.5" y1="297.5" x2="337.25" y2="303.89" stroke="#fff" stroke-width="1.3" /><polygon points="340.6,307.6 335.69,305.29 338.81,302.48" fill="#fff"/>
<line x1="373" y1="308.8" x2="365.22" y2="314.53" stroke="#fff" stroke-width="1.3" /><polygon points="361.2,317.5 363.98,312.84 366.47,316.22" fill="#fff"/>
<line x1="376" y1="269.5" x2="369.47" y2="264.16" stroke="#fff" stroke-width="1.3" /><polygon points="365.6,261 370.8,262.54 368.14,265.79" fill="#fff"/>
<rect x="281.6" y="239.7" width="146.4" height="130.7" fill="none" stroke="#111" stroke-width="1.2"/>
<line x1="278.1" y1="369.39" x2="281.6" y2="369.39" stroke="#111" stroke-width="1" />
<text x="278.4" y="372.49" font-size="8.8" font-weight="bold" text-anchor="end">400</text>
<line x1="278.1" y1="347.77" x2="281.6" y2="347.77" stroke="#111" stroke-width="1" />
<text x="278.4" y="350.88" font-size="8.8" font-weight="bold" text-anchor="end">450</text>
<line x1="278.1" y1="326.16" x2="281.6" y2="326.16" stroke="#111" stroke-width="1" />
<text x="278.4" y="329.26" font-size="8.8" font-weight="bold" text-anchor="end">500</text>
<line x1="278.1" y1="304.54" x2="281.6" y2="304.54" stroke="#111" stroke-width="1" />
<text x="278.4" y="307.64" font-size="8.8" font-weight="bold" text-anchor="end">550</text>
<line x1="278.1" y1="282.93" x2="281.6" y2="282.93" stroke="#111" stroke-width="1" />
<text x="278.4" y="286.03" font-size="8.8" font-weight="bold" text-anchor="end">600</text>
<line x1="278.1" y1="261.31" x2="281.6" y2="261.31" stroke="#111" stroke-width="1" />
<text x="278.4" y="264.42" font-size="8.8" font-weight="bold" text-anchor="end">650</text>
<line x1="278.1" y1="239.7" x2="281.6" y2="239.7" stroke="#111" stroke-width="1" />
<text x="278.4" y="242.8" font-size="8.8" font-weight="bold" text-anchor="end">700</text>
<line x1="279.6" y1="358.58" x2="281.6" y2="358.58" stroke="#111" stroke-width="0.8" />
<line x1="279.6" y1="336.97" x2="281.6" y2="336.97" stroke="#111" stroke-width="0.8" />
<line x1="279.6" y1="315.35" x2="281.6" y2="315.35" stroke="#111" stroke-width="0.8" />
<line x1="279.6" y1="293.74" x2="281.6" y2="293.74" stroke="#111" stroke-width="0.8" />
<line x1="279.6" y1="272.12" x2="281.6" y2="272.12" stroke="#111" stroke-width="0.8" />
<line x1="279.6" y1="250.51" x2="281.6" y2="250.51" stroke="#111" stroke-width="0.8" />
<line x1="281.2" y1="370.4" x2="281.2" y2="373.9" stroke="#111" stroke-width="1" />
<text x="281.2" y="380.6" font-size="8.6" font-weight="bold" text-anchor="middle">0.0</text>
<line x1="317.9" y1="370.4" x2="317.9" y2="373.9" stroke="#111" stroke-width="1" />
<text x="317.9" y="380.6" font-size="8.6" font-weight="bold" text-anchor="middle">0.5</text>
<line x1="354.6" y1="370.4" x2="354.6" y2="373.9" stroke="#111" stroke-width="1" />
<text x="354.6" y="380.6" font-size="8.6" font-weight="bold" text-anchor="middle">1.0</text>
<line x1="391.3" y1="370.4" x2="391.3" y2="373.9" stroke="#111" stroke-width="1" />
<text x="391.3" y="380.6" font-size="8.6" font-weight="bold" text-anchor="middle">1.5</text>
<line x1="428" y1="370.4" x2="428" y2="373.9" stroke="#111" stroke-width="1" />
<text x="428" y="380.6" font-size="8.6" font-weight="bold" text-anchor="middle">2.0</text>
<line x1="299.55" y1="370.4" x2="299.55" y2="372.4" stroke="#111" stroke-width="0.8" />
<line x1="336.25" y1="370.4" x2="336.25" y2="372.4" stroke="#111" stroke-width="0.8" />
<line x1="372.95" y1="370.4" x2="372.95" y2="372.4" stroke="#111" stroke-width="0.8" />
<line x1="409.65" y1="370.4" x2="409.65" y2="372.4" stroke="#111" stroke-width="0.8" />
<line x1="299.55" y1="239.7" x2="299.55" y2="241.5" stroke="#111" stroke-width="0.8" />
<line x1="317.9" y1="239.7" x2="317.9" y2="241.5" stroke="#111" stroke-width="0.8" />
<line x1="336.25" y1="239.7" x2="336.25" y2="241.5" stroke="#111" stroke-width="0.8" />
<line x1="354.6" y1="239.7" x2="354.6" y2="241.5" stroke="#111" stroke-width="0.8" />
<line x1="372.95" y1="239.7" x2="372.95" y2="241.5" stroke="#111" stroke-width="0.8" />
<line x1="391.3" y1="239.7" x2="391.3" y2="241.5" stroke="#111" stroke-width="0.8" />
<line x1="409.65" y1="239.7" x2="409.65" y2="241.5" stroke="#111" stroke-width="0.8" />
<text x="355.2" y="394.2" font-size="10.7" font-weight="bold" text-anchor="middle">Normalized In-Plane Vector</text>
<text x="259.8" y="301.7" font-size="11.8" font-weight="bold" text-anchor="middle" transform="rotate(-90 259.8 301.7)">Wavelength (nm)</text>
<defs><linearGradient id="cbd" x1="0" y1="0" x2="0" y2="1"><stop offset="0.000" stop-color="#fa230f"/><stop offset="0.100" stop-color="#f55a1e"/><stop offset="0.220" stop-color="#f0aa2d"/><stop offset="0.300" stop-color="#e6f532"/><stop offset="0.400" stop-color="#96f519"/><stop offset="0.500" stop-color="#3cf50a"/><stop offset="0.600" stop-color="#32f53c"/><stop offset="0.700" stop-color="#5afabe"/><stop offset="0.780" stop-color="#6efafa"/><stop offset="0.850" stop-color="#50aaff"/><stop offset="0.920" stop-color="#2d5aff"/><stop offset="1.000" stop-color="#1400ff"/></linearGradient></defs>
<rect x="440.7" y="239.3" width="8" height="124.4" fill="url(#cbd)"/>
<text x="451.1" y="245" font-size="9" font-weight="bold">1</text>
<text x="451.1" y="286.5" font-size="9" font-weight="bold">0.5</text>
<text x="451.1" y="328.1" font-size="9" font-weight="bold">0.25</text>
<text x="451.1" y="365.5" font-size="9" font-weight="bold">0</text>
<text x="481.4" y="226.2" font-size="19.5" font-weight="bold">e)</text>
<rect x="518" y="240.5" width="157.8" height="126" fill="#b6d1ce"/>
<polygon points="518,274.14 518.79,274.12 519.59,274.1 520.38,274.09 521.17,274.07 521.96,274.05 522.76,274.03 523.55,274.01 524.34,273.99 525.14,273.97 525.93,273.95 526.72,273.93 527.52,273.91 528.31,273.9 529.1,273.88 529.89,273.86 530.69,273.84 531.48,273.82 532.27,273.8 533.07,273.78 533.86,273.76 534.65,273.74 535.45,273.72 536.24,273.7 537.03,273.67 537.82,273.65 538.62,273.62 539.41,273.6 540.2,273.57 541,273.55 541.79,273.52 542.58,273.5 543.37,273.48 544.17,273.46 544.96,273.44 545.75,273.42 546.55,273.41 547.34,273.4 548.13,273.39 548.93,273.39 549.72,273.39 550.51,273.39 551.3,273.39 552.1,273.39 552.89,273.39 553.68,273.39 554.48,273.39 555.27,273.39 556.06,273.39 556.86,273.39 557.65,273.39 558.44,273.39 559.23,273.39 560.03,273.39 560.82,273.39 561.61,273.39 562.41,273.39 563.2,273.39 563.99,273.39 564.78,273.39 565.58,273.39 566.37,273.39 567.16,273.4 567.96,273.41 568.75,273.42 569.54,273.44 570.34,273.46 571.13,273.49 571.92,273.51 572.71,273.54 573.51,273.57 574.3,273.6 575.09,273.64 575.89,273.67 576.68,273.7 577.47,273.74 578.27,273.77 579.06,273.81 579.85,273.84 580.64,273.87 581.44,273.9 582.23,273.94 583.02,273.98 583.82,274.02 584.61,274.07 585.4,274.11 586.19,274.16 586.99,274.21 587.78,274.27 588.57,274.32 589.37,274.37 590.16,274.41 590.95,274.46 591.75,274.5 592.54,274.54 593.33,274.57 594.12,274.6 594.92,274.62 595.71,274.64 596.5,274.64 597.3,274.65 598.09,274.65 598.88,274.64 599.68,274.64 600.47,274.64 601.26,274.64 602.05,274.63 602.85,274.63 603.64,274.62 604.43,274.62 605.23,274.61 606.02,274.6 606.81,274.59 607.61,274.59 608.4,274.58 609.19,274.57 609.98,274.56 610.78,274.55 611.57,274.54 612.36,274.52 613.16,274.5 613.95,274.44 614.74,274.33 615.53,274.19 616.33,274.02 617.12,273.83 617.91,273.62 618.71,273.4 619.5,273.18 620.29,272.96 621.09,272.73 621.88,272.48 622.67,272.19 623.46,271.88 624.26,271.55 625.05,271.21 625.84,270.86 626.64,270.51 627.43,270.16 628.22,269.83 629.02,269.5 629.81,269.16 630.6,268.81 631.39,268.46 632.19,268.1 632.98,267.75 633.77,267.42 634.57,267.09 635.36,266.79 636.15,266.52 636.94,266.26 637.74,266 638.53,265.74 639.32,265.49 640.12,265.24 640.91,265.02 641.7,264.82 642.5,264.66 643.29,264.53 644.08,264.45 644.87,264.4 645.67,264.36 646.46,264.33 647.25,264.29 648.05,264.26 648.84,264.24 649.63,264.22 650.43,264.2 651.22,264.19 652.01,264.19 652.8,264.19 653.6,264.2 654.39,264.22 655.18,264.24 655.98,264.26 656.77,264.29 657.56,264.32 658.35,264.36 659.15,264.4 659.94,264.44 660.73,264.48 661.53,264.54 662.32,264.62 663.11,264.7 663.91,264.8 664.7,264.9 665.49,265 666.28,265.11 667.08,265.21 667.87,265.32 668.66,265.42 669.46,265.53 670.25,265.64 671.04,265.75 671.84,265.87 672.63,265.99 673.42,266.11 674.21,266.22 675.01,266.34 675.8,266.46 675.8,366.5 518,366.5" fill="#d5f2c1"/>
<polygon points="518,329.96 518.79,329.87 519.59,329.77 520.38,329.68 521.17,329.58 521.96,329.49 522.76,329.39 523.55,329.3 524.34,329.2 525.14,329.11 525.93,329.01 526.72,328.92 527.52,328.82 528.31,328.73 529.1,328.63 529.89,328.54 530.69,328.44 531.48,328.35 532.27,328.25 533.07,328.16 533.86,328.06 534.65,327.97 535.45,327.87 536.24,327.78 537.03,327.68 537.82,327.59 538.62,327.49 539.41,327.4 540.2,327.3 541,327.21 541.79,327.11 542.58,327.02 543.37,326.92 544.17,326.83 544.96,326.73 545.75,326.64 546.55,326.54 547.34,326.45 548.13,326.35 548.93,326.26 549.72,326.16 550.51,326.07 551.3,325.97 552.1,325.88 552.89,325.78 553.68,325.69 554.48,325.59 555.27,325.5 556.06,325.4 556.86,325.31 557.65,325.21 558.44,325.12 559.23,325.02 560.03,324.93 560.82,324.83 561.61,324.74 562.41,324.64 563.2,324.55 563.99,324.45 564.78,324.36 565.58,324.26 566.37,324.17 567.16,324.08 567.96,323.99 568.75,323.9 569.54,323.81 570.34,323.72 571.13,323.64 571.92,323.55 572.71,323.46 573.51,323.37 574.3,323.28 575.09,323.19 575.89,323.1 576.68,323 577.47,322.9 578.27,322.8 579.06,322.69 579.85,322.58 580.64,322.47 581.44,322.35 582.23,322.23 583.02,322.1 583.82,321.97 584.61,321.83 585.4,321.69 586.19,321.54 586.99,321.39 587.78,321.24 588.57,321.08 589.37,320.92 590.16,320.76 590.95,320.59 591.75,320.42 592.54,320.25 593.33,320.07 594.12,319.89 594.92,319.71 595.71,319.53 596.5,319.34 597.3,319.15 598.09,318.95 598.88,318.74 599.68,318.52 600.47,318.29 601.26,318.05 602.05,317.81 602.85,317.57 603.64,317.33 604.43,317.09 605.23,316.85 606.02,316.63 606.81,316.41 607.61,316.19 608.4,315.97 609.19,315.74 609.98,315.51 610.78,315.26 611.57,314.99 612.36,314.71 613.16,314.4 613.95,314.07 614.74,313.71 615.53,313.34 616.33,312.93 617.12,312.51 617.91,312.07 618.71,311.6 619.5,311.12 620.29,310.61 621.09,310.08 621.88,309.51 622.67,308.9 623.46,308.25 624.26,307.56 625.05,306.85 625.84,306.11 626.64,305.34 627.43,304.55 628.22,303.75 629.02,302.9 629.81,301.95 630.6,300.94 631.39,299.88 632.19,298.82 632.98,297.79 633.77,296.81 634.57,295.9 635.36,294.99 636.15,294.09 636.94,293.2 637.74,292.35 638.53,291.53 639.32,290.76 640.12,290.04 640.91,289.37 641.7,288.71 642.5,288.11 643.29,287.58 644.08,287.18 644.87,286.89 645.67,286.61 646.46,286.35 647.25,286.1 648.05,285.88 648.84,285.68 649.63,285.5 650.43,285.34 651.22,285.22 652.01,285.12 652.8,285.04 653.6,284.96 654.39,284.89 655.18,284.82 655.98,284.76 656.77,284.71 657.56,284.66 658.35,284.63 659.15,284.61 659.94,284.6 660.73,284.61 661.53,284.63 662.32,284.66 663.11,284.7 663.91,284.76 664.7,284.82 665.49,284.88 666.28,284.96 667.08,285.03 667.87,285.1 668.66,285.18 669.46,285.28 670.25,285.4 671.04,285.53 671.84,285.66 672.63,285.81 673.42,285.95 674.21,286.09 675.01,286.23 675.8,286.36 675.8,366.5 518,366.5" fill="#eee08b"/>
<polygon points="518,366 518.79,366 519.59,366 520.38,366.01 521.17,366.01 521.96,366.01 522.76,366.02 523.55,366.02 524.34,366.03 525.14,366.03 525.93,366.03 526.72,366.04 527.52,366.04 528.31,366.05 529.1,366.05 529.89,366.05 530.69,366.06 531.48,366.06 532.27,366.07 533.07,366.07 533.86,366.08 534.65,366.08 535.45,366.08 536.24,366.09 537.03,366.09 537.82,366.09 538.62,366.1 539.41,366.1 540.2,366.1 541,366.11 541.79,366.11 542.58,366.11 543.37,366.11 544.17,366.12 544.96,366.12 545.75,366.12 546.55,366.12 547.34,366.12 548.13,366.12 548.93,366.12 549.72,366.12 550.51,366.12 551.3,366.12 552.1,366.11 552.89,366.11 553.68,366.1 554.48,366.09 555.27,366.08 556.06,366.07 556.86,366.06 557.65,366.04 558.44,366.03 559.23,366.01 560.03,366 560.82,365.98 561.61,365.96 562.41,365.94 563.2,365.92 563.99,365.9 564.78,365.88 565.58,365.86 566.37,365.84 567.16,365.81 567.96,365.78 568.75,365.75 569.54,365.71 570.34,365.67 571.13,365.62 571.92,365.58 572.71,365.53 573.51,365.47 574.3,365.42 575.09,365.36 575.89,365.3 576.68,365.24 577.47,365.18 578.27,365.11 579.06,365.04 579.85,364.97 580.64,364.9 581.44,364.83 582.23,364.76 583.02,364.67 583.82,364.58 584.61,364.49 585.4,364.39 586.19,364.28 586.99,364.17 587.78,364.05 588.57,363.93 589.37,363.81 590.16,363.68 590.95,363.55 591.75,363.41 592.54,363.27 593.33,363.13 594.12,362.99 594.92,362.84 595.71,362.69 596.5,362.54 597.3,362.39 598.09,362.23 598.88,362.07 599.68,361.9 600.47,361.72 601.26,361.54 602.05,361.35 602.85,361.15 603.64,360.94 604.43,360.73 605.23,360.51 606.02,360.28 606.81,360.05 607.61,359.8 608.4,359.55 609.19,359.29 609.98,359.01 610.78,358.71 611.57,358.38 612.36,358.04 613.16,357.68 613.95,357.3 614.74,356.91 615.53,356.5 616.33,356.08 617.12,355.64 617.91,355.16 618.71,354.65 619.5,354.11 620.29,353.52 621.09,352.9 621.88,352.24 622.67,351.54 623.46,350.76 624.26,349.92 625.05,349.02 625.84,348.08 626.64,347.12 627.43,346.13 628.22,345.13 629.02,344.1 629.81,342.96 630.6,341.75 631.39,340.54 632.19,339.35 632.98,338.24 633.77,337.25 634.57,336.4 635.36,335.59 636.15,334.83 636.94,334.11 637.74,333.43 638.53,332.78 639.32,332.17 640.12,331.6 640.91,331.05 641.7,330.53 642.5,330.05 643.29,329.63 644.08,329.27 644.87,328.96 645.67,328.67 646.46,328.39 647.25,328.13 648.05,327.88 648.84,327.65 649.63,327.44 650.43,327.25 651.22,327.09 652.01,326.95 652.8,326.84 653.6,326.72 654.39,326.61 655.18,326.52 655.98,326.43 656.77,326.37 657.56,326.32 658.35,326.31 659.15,326.31 659.94,326.34 660.73,326.38 661.53,326.43 662.32,326.49 663.11,326.56 663.91,326.64 664.7,326.72 665.49,326.81 666.28,326.89 667.08,326.98 667.87,327.06 668.66,327.14 669.46,327.23 670.25,327.33 671.04,327.43 671.84,327.53 672.63,327.64 673.42,327.75 674.21,327.86 675.01,327.97 675.8,328.07 675.8,366.5 518,366.5" fill="#ef7576"/>
<polyline points="518,274.14 518.79,274.12 519.59,274.1 520.38,274.09 521.17,274.07 521.96,274.05 522.76,274.03 523.55,274.01 524.34,273.99 525.14,273.97 525.93,273.95 526.72,273.93 527.52,273.91 528.31,273.9 529.1,273.88 529.89,273.86 530.69,273.84 531.48,273.82 532.27,273.8 533.07,273.78 533.86,273.76 534.65,273.74 535.45,273.72 536.24,273.7 537.03,273.67 537.82,273.65 538.62,273.62 539.41,273.6 540.2,273.57 541,273.55 541.79,273.52 542.58,273.5 543.37,273.48 544.17,273.46 544.96,273.44 545.75,273.42 546.55,273.41 547.34,273.4 548.13,273.39 548.93,273.39 549.72,273.39 550.51,273.39 551.3,273.39 552.1,273.39 552.89,273.39 553.68,273.39 554.48,273.39 555.27,273.39 556.06,273.39 556.86,273.39 557.65,273.39 558.44,273.39 559.23,273.39 560.03,273.39 560.82,273.39 561.61,273.39 562.41,273.39 563.2,273.39 563.99,273.39 564.78,273.39 565.58,273.39 566.37,273.39 567.16,273.4 567.96,273.41 568.75,273.42 569.54,273.44 570.34,273.46 571.13,273.49 571.92,273.51 572.71,273.54 573.51,273.57 574.3,273.6 575.09,273.64 575.89,273.67 576.68,273.7 577.47,273.74 578.27,273.77 579.06,273.81 579.85,273.84 580.64,273.87 581.44,273.9 582.23,273.94 583.02,273.98 583.82,274.02 584.61,274.07 585.4,274.11 586.19,274.16 586.99,274.21 587.78,274.27 588.57,274.32 589.37,274.37 590.16,274.41 590.95,274.46 591.75,274.5 592.54,274.54 593.33,274.57 594.12,274.6 594.92,274.62 595.71,274.64 596.5,274.64 597.3,274.65 598.09,274.65 598.88,274.64 599.68,274.64 600.47,274.64 601.26,274.64 602.05,274.63 602.85,274.63 603.64,274.62 604.43,274.62 605.23,274.61 606.02,274.6 606.81,274.59 607.61,274.59 608.4,274.58 609.19,274.57 609.98,274.56 610.78,274.55 611.57,274.54 612.36,274.52 613.16,274.5 613.95,274.44 614.74,274.33 615.53,274.19 616.33,274.02 617.12,273.83 617.91,273.62 618.71,273.4 619.5,273.18 620.29,272.96 621.09,272.73 621.88,272.48 622.67,272.19 623.46,271.88 624.26,271.55 625.05,271.21 625.84,270.86 626.64,270.51 627.43,270.16 628.22,269.83 629.02,269.5 629.81,269.16 630.6,268.81 631.39,268.46 632.19,268.1 632.98,267.75 633.77,267.42 634.57,267.09 635.36,266.79 636.15,266.52 636.94,266.26 637.74,266 638.53,265.74 639.32,265.49 640.12,265.24 640.91,265.02 641.7,264.82 642.5,264.66 643.29,264.53 644.08,264.45 644.87,264.4 645.67,264.36 646.46,264.33 647.25,264.29 648.05,264.26 648.84,264.24 649.63,264.22 650.43,264.2 651.22,264.19 652.01,264.19 652.8,264.19 653.6,264.2 654.39,264.22 655.18,264.24 655.98,264.26 656.77,264.29 657.56,264.32 658.35,264.36 659.15,264.4 659.94,264.44 660.73,264.48 661.53,264.54 662.32,264.62 663.11,264.7 663.91,264.8 664.7,264.9 665.49,265 666.28,265.11 667.08,265.21 667.87,265.32 668.66,265.42 669.46,265.53 670.25,265.64 671.04,265.75 671.84,265.87 672.63,265.99 673.42,266.11 674.21,266.22 675.01,266.34 675.8,266.46" fill="none" stroke="#3a3a3a" stroke-width="0.6"/>
<polyline points="518,329.96 518.79,329.87 519.59,329.77 520.38,329.68 521.17,329.58 521.96,329.49 522.76,329.39 523.55,329.3 524.34,329.2 525.14,329.11 525.93,329.01 526.72,328.92 527.52,328.82 528.31,328.73 529.1,328.63 529.89,328.54 530.69,328.44 531.48,328.35 532.27,328.25 533.07,328.16 533.86,328.06 534.65,327.97 535.45,327.87 536.24,327.78 537.03,327.68 537.82,327.59 538.62,327.49 539.41,327.4 540.2,327.3 541,327.21 541.79,327.11 542.58,327.02 543.37,326.92 544.17,326.83 544.96,326.73 545.75,326.64 546.55,326.54 547.34,326.45 548.13,326.35 548.93,326.26 549.72,326.16 550.51,326.07 551.3,325.97 552.1,325.88 552.89,325.78 553.68,325.69 554.48,325.59 555.27,325.5 556.06,325.4 556.86,325.31 557.65,325.21 558.44,325.12 559.23,325.02 560.03,324.93 560.82,324.83 561.61,324.74 562.41,324.64 563.2,324.55 563.99,324.45 564.78,324.36 565.58,324.26 566.37,324.17 567.16,324.08 567.96,323.99 568.75,323.9 569.54,323.81 570.34,323.72 571.13,323.64 571.92,323.55 572.71,323.46 573.51,323.37 574.3,323.28 575.09,323.19 575.89,323.1 576.68,323 577.47,322.9 578.27,322.8 579.06,322.69 579.85,322.58 580.64,322.47 581.44,322.35 582.23,322.23 583.02,322.1 583.82,321.97 584.61,321.83 585.4,321.69 586.19,321.54 586.99,321.39 587.78,321.24 588.57,321.08 589.37,320.92 590.16,320.76 590.95,320.59 591.75,320.42 592.54,320.25 593.33,320.07 594.12,319.89 594.92,319.71 595.71,319.53 596.5,319.34 597.3,319.15 598.09,318.95 598.88,318.74 599.68,318.52 600.47,318.29 601.26,318.05 602.05,317.81 602.85,317.57 603.64,317.33 604.43,317.09 605.23,316.85 606.02,316.63 606.81,316.41 607.61,316.19 608.4,315.97 609.19,315.74 609.98,315.51 610.78,315.26 611.57,314.99 612.36,314.71 613.16,314.4 613.95,314.07 614.74,313.71 615.53,313.34 616.33,312.93 617.12,312.51 617.91,312.07 618.71,311.6 619.5,311.12 620.29,310.61 621.09,310.08 621.88,309.51 622.67,308.9 623.46,308.25 624.26,307.56 625.05,306.85 625.84,306.11 626.64,305.34 627.43,304.55 628.22,303.75 629.02,302.9 629.81,301.95 630.6,300.94 631.39,299.88 632.19,298.82 632.98,297.79 633.77,296.81 634.57,295.9 635.36,294.99 636.15,294.09 636.94,293.2 637.74,292.35 638.53,291.53 639.32,290.76 640.12,290.04 640.91,289.37 641.7,288.71 642.5,288.11 643.29,287.58 644.08,287.18 644.87,286.89 645.67,286.61 646.46,286.35 647.25,286.1 648.05,285.88 648.84,285.68 649.63,285.5 650.43,285.34 651.22,285.22 652.01,285.12 652.8,285.04 653.6,284.96 654.39,284.89 655.18,284.82 655.98,284.76 656.77,284.71 657.56,284.66 658.35,284.63 659.15,284.61 659.94,284.6 660.73,284.61 661.53,284.63 662.32,284.66 663.11,284.7 663.91,284.76 664.7,284.82 665.49,284.88 666.28,284.96 667.08,285.03 667.87,285.1 668.66,285.18 669.46,285.28 670.25,285.4 671.04,285.53 671.84,285.66 672.63,285.81 673.42,285.95 674.21,286.09 675.01,286.23 675.8,286.36" fill="none" stroke="#3a3a3a" stroke-width="0.6"/>
<polyline points="518,366 518.79,366 519.59,366 520.38,366.01 521.17,366.01 521.96,366.01 522.76,366.02 523.55,366.02 524.34,366.03 525.14,366.03 525.93,366.03 526.72,366.04 527.52,366.04 528.31,366.05 529.1,366.05 529.89,366.05 530.69,366.06 531.48,366.06 532.27,366.07 533.07,366.07 533.86,366.08 534.65,366.08 535.45,366.08 536.24,366.09 537.03,366.09 537.82,366.09 538.62,366.1 539.41,366.1 540.2,366.1 541,366.11 541.79,366.11 542.58,366.11 543.37,366.11 544.17,366.12 544.96,366.12 545.75,366.12 546.55,366.12 547.34,366.12 548.13,366.12 548.93,366.12 549.72,366.12 550.51,366.12 551.3,366.12 552.1,366.11 552.89,366.11 553.68,366.1 554.48,366.09 555.27,366.08 556.06,366.07 556.86,366.06 557.65,366.04 558.44,366.03 559.23,366.01 560.03,366 560.82,365.98 561.61,365.96 562.41,365.94 563.2,365.92 563.99,365.9 564.78,365.88 565.58,365.86 566.37,365.84 567.16,365.81 567.96,365.78 568.75,365.75 569.54,365.71 570.34,365.67 571.13,365.62 571.92,365.58 572.71,365.53 573.51,365.47 574.3,365.42 575.09,365.36 575.89,365.3 576.68,365.24 577.47,365.18 578.27,365.11 579.06,365.04 579.85,364.97 580.64,364.9 581.44,364.83 582.23,364.76 583.02,364.67 583.82,364.58 584.61,364.49 585.4,364.39 586.19,364.28 586.99,364.17 587.78,364.05 588.57,363.93 589.37,363.81 590.16,363.68 590.95,363.55 591.75,363.41 592.54,363.27 593.33,363.13 594.12,362.99 594.92,362.84 595.71,362.69 596.5,362.54 597.3,362.39 598.09,362.23 598.88,362.07 599.68,361.9 600.47,361.72 601.26,361.54 602.05,361.35 602.85,361.15 603.64,360.94 604.43,360.73 605.23,360.51 606.02,360.28 606.81,360.05 607.61,359.8 608.4,359.55 609.19,359.29 609.98,359.01 610.78,358.71 611.57,358.38 612.36,358.04 613.16,357.68 613.95,357.3 614.74,356.91 615.53,356.5 616.33,356.08 617.12,355.64 617.91,355.16 618.71,354.65 619.5,354.11 620.29,353.52 621.09,352.9 621.88,352.24 622.67,351.54 623.46,350.76 624.26,349.92 625.05,349.02 625.84,348.08 626.64,347.12 627.43,346.13 628.22,345.13 629.02,344.1 629.81,342.96 630.6,341.75 631.39,340.54 632.19,339.35 632.98,338.24 633.77,337.25 634.57,336.4 635.36,335.59 636.15,334.83 636.94,334.11 637.74,333.43 638.53,332.78 639.32,332.17 640.12,331.6 640.91,331.05 641.7,330.53 642.5,330.05 643.29,329.63 644.08,329.27 644.87,328.96 645.67,328.67 646.46,328.39 647.25,328.13 648.05,327.88 648.84,327.65 649.63,327.44 650.43,327.25 651.22,327.09 652.01,326.95 652.8,326.84 653.6,326.72 654.39,326.61 655.18,326.52 655.98,326.43 656.77,326.37 657.56,326.32 658.35,326.31 659.15,326.31 659.94,326.34 660.73,326.38 661.53,326.43 662.32,326.49 663.11,326.56 663.91,326.64 664.7,326.72 665.49,326.81 666.28,326.89 667.08,326.98 667.87,327.06 668.66,327.14 669.46,327.23 670.25,327.33 671.04,327.43 671.84,327.53 672.63,327.64 673.42,327.75 674.21,327.86 675.01,327.97 675.8,328.07" fill="none" stroke="#3a3a3a" stroke-width="0.6"/>
<rect x="518" y="240.5" width="157.8" height="126" fill="none" stroke="#222" stroke-width="1.1"/>
<line x1="514.5" y1="366.5" x2="518" y2="366.5" stroke="#111" stroke-width="1" />
<text x="515.2" y="370.1" font-size="10" font-weight="bold" text-anchor="end">0</text>
<line x1="514.5" y1="341.3" x2="518" y2="341.3" stroke="#111" stroke-width="1" />
<text x="515.2" y="344.9" font-size="10" font-weight="bold" text-anchor="end">20</text>
<line x1="514.5" y1="316.1" x2="518" y2="316.1" stroke="#111" stroke-width="1" />
<text x="515.2" y="319.7" font-size="10" font-weight="bold" text-anchor="end">40</text>
<line x1="514.5" y1="290.9" x2="518" y2="290.9" stroke="#111" stroke-width="1" />
<text x="515.2" y="294.5" font-size="10" font-weight="bold" text-anchor="end">60</text>
<line x1="514.5" y1="265.7" x2="518" y2="265.7" stroke="#111" stroke-width="1" />
<text x="515.2" y="269.3" font-size="10" font-weight="bold" text-anchor="end">80</text>
<line x1="514.5" y1="240.5" x2="518" y2="240.5" stroke="#111" stroke-width="1" />
<text x="515.2" y="244.1" font-size="10" font-weight="bold" text-anchor="end">100</text>
<line x1="516" y1="353.9" x2="518" y2="353.9" stroke="#111" stroke-width="0.8" />
<line x1="516" y1="328.7" x2="518" y2="328.7" stroke="#111" stroke-width="0.8" />
<line x1="516" y1="303.5" x2="518" y2="303.5" stroke="#111" stroke-width="0.8" />
<line x1="516" y1="278.3" x2="518" y2="278.3" stroke="#111" stroke-width="0.8" />
<line x1="516" y1="253.1" x2="518" y2="253.1" stroke="#111" stroke-width="0.8" />
<line x1="518" y1="366.5" x2="518" y2="370" stroke="#111" stroke-width="1" />
<text x="518" y="379.4" font-size="10" font-weight="bold" text-anchor="middle">0</text>
<line x1="549.56" y1="366.5" x2="549.56" y2="370" stroke="#111" stroke-width="1" />
<text x="549.56" y="379.4" font-size="10" font-weight="bold" text-anchor="middle">40</text>
<line x1="581.12" y1="366.5" x2="581.12" y2="370" stroke="#111" stroke-width="1" />
<text x="581.12" y="379.4" font-size="10" font-weight="bold" text-anchor="middle">80</text>
<line x1="612.68" y1="366.5" x2="612.68" y2="370" stroke="#111" stroke-width="1" />
<text x="612.68" y="379.4" font-size="10" font-weight="bold" text-anchor="middle">120</text>
<line x1="644.24" y1="366.5" x2="644.24" y2="370" stroke="#111" stroke-width="1" />
<text x="644.24" y="379.4" font-size="10" font-weight="bold" text-anchor="middle">160</text>
<line x1="675.8" y1="366.5" x2="675.8" y2="370" stroke="#111" stroke-width="1" />
<text x="675.8" y="379.4" font-size="10" font-weight="bold" text-anchor="middle">200</text>
<line x1="533.78" y1="366.5" x2="533.78" y2="368.5" stroke="#111" stroke-width="0.8" />
<line x1="565.34" y1="366.5" x2="565.34" y2="368.5" stroke="#111" stroke-width="0.8" />
<line x1="596.9" y1="366.5" x2="596.9" y2="368.5" stroke="#111" stroke-width="0.8" />
<line x1="628.46" y1="366.5" x2="628.46" y2="368.5" stroke="#111" stroke-width="0.8" />
<line x1="660.02" y1="366.5" x2="660.02" y2="368.5" stroke="#111" stroke-width="0.8" />
<text x="597.2" y="395.1" font-size="11.5" font-weight="bold" text-anchor="middle">HTL Thickness</text>
<text x="493.2" y="304" font-size="11.6" font-weight="bold" text-anchor="middle" transform="rotate(-90 493.2 304)">Modal Efficiency (%)</text>
<text x="526.2" y="255.3" font-size="6.5" font-weight="bold" fill="#3a3a3a">Evanescent</text>
<text x="525" y="303.2" font-size="6.5" font-weight="bold" fill="#3a3a3a">Absorption Loss</text>
<text x="523.7" y="349.8" font-size="6.6" font-weight="bold" fill="#3a3a3a">Waveguide</text>
<text x="623.7" y="361.5" font-size="6.5" font-weight="bold" fill="#3a3a3a">Out-Coupling</text>
<text x="7.8" y="409.9" font-size="19.5" font-weight="bold">f)</text>
<defs><clipPath id="fclip"><rect x="43" y="424.5" width="156.4" height="126.5"/></clipPath></defs>
<g clip-path="url(#fclip)">
<polyline points="121.1,524.75 128.2,501.35 135.3,488.7 142.4,479.53 149.5,473.83 156.6,470.99 163.7,466.56 170.8,462.45 177.9,458.34 185,454.23 192.1,449.8 199.2,445.06" fill="none" stroke="#3daa78" stroke-width="1" />
<polyline points="117.83,554.16 121.1,524.75 128.2,501.35 135.3,488.38 142.4,478.89 149.5,472.89 156.6,468.14 163.7,463.4 170.8,459.29 177.9,455.18 185,450.75 192.1,445.06 199.2,440.94" fill="none" stroke="#e0621e" stroke-width="1.1" />
<rect x="118.75" y="522.4" width="4.7" height="4.7" fill="#fff" stroke="#7fcca8" stroke-width="0.9"/>
<rect x="125.85" y="499" width="4.7" height="4.7" fill="#fff" stroke="#7fcca8" stroke-width="0.9"/>
<rect x="132.95" y="486.35" width="4.7" height="4.7" fill="#fff" stroke="#7fcca8" stroke-width="0.9"/>
<rect x="140.05" y="477.18" width="4.7" height="4.7" fill="#fff" stroke="#7fcca8" stroke-width="0.9"/>
<rect x="147.15" y="471.48" width="4.7" height="4.7" fill="#fff" stroke="#7fcca8" stroke-width="0.9"/>
<rect x="154.25" y="468.64" width="4.7" height="4.7" fill="#fff" stroke="#7fcca8" stroke-width="0.9"/>
<rect x="161.35" y="464.21" width="4.7" height="4.7" fill="#fff" stroke="#7fcca8" stroke-width="0.9"/>
<rect x="168.45" y="460.1" width="4.7" height="4.7" fill="#fff" stroke="#7fcca8" stroke-width="0.9"/>
<rect x="175.55" y="455.99" width="4.7" height="4.7" fill="#fff" stroke="#7fcca8" stroke-width="0.9"/>
<rect x="182.65" y="451.88" width="4.7" height="4.7" fill="#fff" stroke="#7fcca8" stroke-width="0.9"/>
<rect x="189.75" y="447.45" width="4.7" height="4.7" fill="#fff" stroke="#7fcca8" stroke-width="0.9"/>
<rect x="196.85" y="442.71" width="4.7" height="4.7" fill="#fff" stroke="#7fcca8" stroke-width="0.9"/>
<rect x="118.75" y="522.4" width="4.7" height="4.7" fill="#fff" stroke="#f0a070" stroke-width="0.9"/>
<rect x="125.85" y="499" width="4.7" height="4.7" fill="#fff" stroke="#f0a070" stroke-width="0.9"/>
<rect x="132.95" y="486.03" width="4.7" height="4.7" fill="#fff" stroke="#f0a070" stroke-width="0.9"/>
<rect x="140.05" y="476.54" width="4.7" height="4.7" fill="#fff" stroke="#f0a070" stroke-width="0.9"/>
<rect x="147.15" y="470.54" width="4.7" height="4.7" fill="#fff" stroke="#f0a070" stroke-width="0.9"/>
<rect x="154.25" y="465.79" width="4.7" height="4.7" fill="#fff" stroke="#f0a070" stroke-width="0.9"/>
<rect x="161.35" y="461.05" width="4.7" height="4.7" fill="#fff" stroke="#f0a070" stroke-width="0.9"/>
<rect x="168.45" y="456.94" width="4.7" height="4.7" fill="#fff" stroke="#f0a070" stroke-width="0.9"/>
<rect x="175.55" y="452.83" width="4.7" height="4.7" fill="#fff" stroke="#f0a070" stroke-width="0.9"/>
<rect x="182.65" y="448.4" width="4.7" height="4.7" fill="#fff" stroke="#f0a070" stroke-width="0.9"/>
<rect x="189.75" y="442.71" width="4.7" height="4.7" fill="#fff" stroke="#f0a070" stroke-width="0.9"/>
<rect x="196.85" y="438.59" width="4.7" height="4.7" fill="#fff" stroke="#f0a070" stroke-width="0.9"/>
<polyline points="43,505.21 50.1,508.62 57.2,512.54 64.3,521.27 71.4,532.91 78.5,521.27 85.6,503.94 92.7,501.29 99.8,497.11 106.9,492.18 114,476.49 121.1,464.47 128.2,455.37 135.3,450.43 142.4,448.54 149.5,445.75 156.6,443.48 163.7,441.96 170.8,440.31 177.9,438.42 185,436.39 192.1,434.37 199.2,431.84" fill="none" stroke="#3daa78" stroke-width="1" />
<polyline points="43,505.21 50.1,507.61 57.2,512.54 64.3,521.27 71.4,531.14 78.5,524.81 85.6,511.78 92.7,506.73 99.8,504.95 106.9,492.81 114,483.83 121.1,467.51 128.2,458.15 135.3,452.46 142.4,448.28 149.5,445.37 156.6,443.1 163.7,441.45 170.8,439.81 177.9,437.78 185,435.63 192.1,433.36 199.2,430.45" fill="none" stroke="#e0621e" stroke-width="1" />
<rect x="39.9" y="502.11" width="6.2" height="6.2" fill="#3daa78"/>
<rect x="47" y="505.52" width="6.2" height="6.2" fill="#3daa78"/>
<rect x="54.1" y="509.44" width="6.2" height="6.2" fill="#3daa78"/>
<rect x="61.2" y="518.17" width="6.2" height="6.2" fill="#3daa78"/>
<rect x="68.3" y="529.81" width="6.2" height="6.2" fill="#3daa78"/>
<rect x="75.4" y="518.17" width="6.2" height="6.2" fill="#3daa78"/>
<rect x="82.5" y="500.84" width="6.2" height="6.2" fill="#3daa78"/>
<rect x="89.6" y="498.19" width="6.2" height="6.2" fill="#3daa78"/>
<rect x="96.7" y="494.01" width="6.2" height="6.2" fill="#3daa78"/>
<rect x="103.8" y="489.08" width="6.2" height="6.2" fill="#3daa78"/>
<rect x="110.9" y="473.39" width="6.2" height="6.2" fill="#3daa78"/>
<rect x="118" y="461.37" width="6.2" height="6.2" fill="#3daa78"/>
<rect x="125.1" y="452.27" width="6.2" height="6.2" fill="#3daa78"/>
<rect x="132.2" y="447.33" width="6.2" height="6.2" fill="#3daa78"/>
<rect x="139.3" y="445.44" width="6.2" height="6.2" fill="#3daa78"/>
<rect x="146.4" y="442.65" width="6.2" height="6.2" fill="#3daa78"/>
<rect x="153.5" y="440.38" width="6.2" height="6.2" fill="#3daa78"/>
<rect x="160.6" y="438.86" width="6.2" height="6.2" fill="#3daa78"/>
<rect x="167.7" y="437.21" width="6.2" height="6.2" fill="#3daa78"/>
<rect x="174.8" y="435.31" width="6.2" height="6.2" fill="#3daa78"/>
<rect x="181.9" y="433.29" width="6.2" height="6.2" fill="#3daa78"/>
<rect x="189" y="431.27" width="6.2" height="6.2" fill="#3daa78"/>
<rect x="196.1" y="428.74" width="6.2" height="6.2" fill="#3daa78"/>
<rect x="39.9" y="502.11" width="6.2" height="6.2" fill="#e0621e"/>
<rect x="47" y="504.51" width="6.2" height="6.2" fill="#e0621e"/>
<rect x="54.1" y="509.44" width="6.2" height="6.2" fill="#e0621e"/>
<rect x="61.2" y="518.17" width="6.2" height="6.2" fill="#e0621e"/>
<rect x="68.3" y="528.04" width="6.2" height="6.2" fill="#e0621e"/>
<rect x="75.4" y="521.71" width="6.2" height="6.2" fill="#e0621e"/>
<rect x="82.5" y="508.68" width="6.2" height="6.2" fill="#e0621e"/>
<rect x="89.6" y="503.62" width="6.2" height="6.2" fill="#e0621e"/>
<rect x="96.7" y="501.85" width="6.2" height="6.2" fill="#e0621e"/>
<rect x="103.8" y="489.71" width="6.2" height="6.2" fill="#e0621e"/>
<rect x="110.9" y="480.73" width="6.2" height="6.2" fill="#e0621e"/>
<rect x="118" y="464.41" width="6.2" height="6.2" fill="#e0621e"/>
<rect x="125.1" y="455.05" width="6.2" height="6.2" fill="#e0621e"/>
<rect x="132.2" y="449.36" width="6.2" height="6.2" fill="#e0621e"/>
<rect x="139.3" y="445.18" width="6.2" height="6.2" fill="#e0621e"/>
<rect x="146.4" y="442.27" width="6.2" height="6.2" fill="#e0621e"/>
<rect x="153.5" y="440" width="6.2" height="6.2" fill="#e0621e"/>
<rect x="160.6" y="438.35" width="6.2" height="6.2" fill="#e0621e"/>
<rect x="167.7" y="436.71" width="6.2" height="6.2" fill="#e0621e"/>
<rect x="174.8" y="434.68" width="6.2" height="6.2" fill="#e0621e"/>
<rect x="181.9" y="432.53" width="6.2" height="6.2" fill="#e0621e"/>
<rect x="189" y="430.25" width="6.2" height="6.2" fill="#e0621e"/>
<rect x="196.1" y="427.35" width="6.2" height="6.2" fill="#e0621e"/>
</g>
<ellipse cx="100.35" cy="498" rx="8.65" ry="18.4" fill="none" stroke="#111" stroke-width="0.9"/>
<line x1="100.5" y1="480.1" x2="90.6" y2="479.96" stroke="#111" stroke-width="1" /><polygon points="86.6,479.9 91.13,478.16 91.07,481.76" fill="#111"/>
<ellipse cx="137.2" cy="479.4" rx="8.9" ry="18.3" fill="none" stroke="#111" stroke-width="0.9"/>
<line x1="134.9" y1="461.1" x2="146.6" y2="461.1" stroke="#111" stroke-width="1" /><polygon points="150.6,461.1 146.1,462.9 146.1,459.3" fill="#111"/>
<line x1="44.5" y1="433.7" x2="48.6" y2="433.7" stroke="#3daa78" stroke-width="1.1" /><line x1="57.2" y1="433.7" x2="61.4" y2="433.7" stroke="#3daa78" stroke-width="1.1" /><rect x="49.9" y="430.6" width="6" height="6" fill="#3daa78"/>
<line x1="44.5" y1="447.2" x2="48.6" y2="447.2" stroke="#e0621e" stroke-width="1.1" /><line x1="57.2" y1="447.2" x2="61.4" y2="447.2" stroke="#e0621e" stroke-width="1.1" /><rect x="49.9" y="444.1" width="6" height="6" fill="#e0621e"/>
<text x="64.6" y="436.9" font-size="10.6" font-weight="bold">Ref. 1</text>
<text x="64.6" y="450.4" font-size="10.6" font-weight="bold">Ref. 2</text>
<rect x="43" y="424.5" width="156.4" height="126.5" fill="none" stroke="#111" stroke-width="1.3"/>
<line x1="43" y1="551" x2="43" y2="549" stroke="#111" stroke-width="0.8" />
<line x1="57.2" y1="551" x2="57.2" y2="549.8" stroke="#111" stroke-width="0.8" />
<line x1="71.4" y1="551" x2="71.4" y2="549" stroke="#111" stroke-width="0.8" />
<line x1="85.6" y1="551" x2="85.6" y2="549.8" stroke="#111" stroke-width="0.8" />
<line x1="99.8" y1="551" x2="99.8" y2="549" stroke="#111" stroke-width="0.8" />
<line x1="114" y1="551" x2="114" y2="549.8" stroke="#111" stroke-width="0.8" />
<line x1="128.2" y1="551" x2="128.2" y2="549" stroke="#111" stroke-width="0.8" />
<line x1="142.4" y1="551" x2="142.4" y2="549.8" stroke="#111" stroke-width="0.8" />
<line x1="156.6" y1="551" x2="156.6" y2="549" stroke="#111" stroke-width="0.8" />
<line x1="170.8" y1="551" x2="170.8" y2="549.8" stroke="#111" stroke-width="0.8" />
<line x1="185" y1="551" x2="185" y2="549" stroke="#111" stroke-width="0.8" />
<line x1="199.2" y1="551" x2="199.2" y2="549.8" stroke="#111" stroke-width="0.8" />
<text x="43" y="562.2" font-size="11" font-weight="bold" text-anchor="middle" textLength="8.80" lengthAdjust="spacingAndGlyphs">-2</text>
<text x="71.4" y="562.2" font-size="11" font-weight="bold" text-anchor="middle" textLength="5.51" lengthAdjust="spacingAndGlyphs">0</text>
<text x="99.8" y="562.2" font-size="11" font-weight="bold" text-anchor="middle" textLength="5.51" lengthAdjust="spacingAndGlyphs">2</text>
<text x="128.2" y="562.2" font-size="11" font-weight="bold" text-anchor="middle" textLength="5.51" lengthAdjust="spacingAndGlyphs">4</text>
<text x="156.6" y="562.2" font-size="11" font-weight="bold" text-anchor="middle" textLength="5.51" lengthAdjust="spacingAndGlyphs">6</text>
<text x="185" y="562.2" font-size="11" font-weight="bold" text-anchor="middle" textLength="5.51" lengthAdjust="spacingAndGlyphs">8</text>
<line x1="43" y1="424.5" x2="45" y2="424.5" stroke="#111" stroke-width="0.8" />
<text x="25.3" y="428.4" font-size="10.4" font-weight="bold"><tspan textLength="9.8" lengthAdjust="spacingAndGlyphs">10</tspan><tspan font-size="6.8" dy="-4.16" dx="0.3">3</tspan></text>
<line x1="43" y1="449.8" x2="45" y2="449.8" stroke="#111" stroke-width="0.8" />
<text x="25.3" y="453.7" font-size="10.4" font-weight="bold"><tspan textLength="9.8" lengthAdjust="spacingAndGlyphs">10</tspan><tspan font-size="6.8" dy="-4.16" dx="0.3">1</tspan></text>
<line x1="43" y1="475.1" x2="45" y2="475.1" stroke="#111" stroke-width="0.8" />
<text x="25.3" y="479" font-size="10.4" font-weight="bold"><tspan textLength="9.8" lengthAdjust="spacingAndGlyphs">10</tspan><tspan font-size="6.8" dy="-4.16" dx="0.3">-1</tspan></text>
<line x1="43" y1="500.4" x2="45" y2="500.4" stroke="#111" stroke-width="0.8" />
<text x="25.3" y="504.3" font-size="10.4" font-weight="bold"><tspan textLength="9.8" lengthAdjust="spacingAndGlyphs">10</tspan><tspan font-size="6.8" dy="-4.16" dx="0.3">-3</tspan></text>
<line x1="43" y1="525.7" x2="45" y2="525.7" stroke="#111" stroke-width="0.8" />
<text x="25.3" y="529.6" font-size="10.4" font-weight="bold"><tspan textLength="9.8" lengthAdjust="spacingAndGlyphs">10</tspan><tspan font-size="6.8" dy="-4.16" dx="0.3">-5</tspan></text>
<line x1="43" y1="551" x2="45" y2="551" stroke="#111" stroke-width="0.8" />
<text x="25.3" y="554.9" font-size="10.4" font-weight="bold"><tspan textLength="9.8" lengthAdjust="spacingAndGlyphs">10</tspan><tspan font-size="6.8" dy="-4.16" dx="0.3">-7</tspan></text>
<line x1="43" y1="437.15" x2="44.2" y2="437.15" stroke="#111" stroke-width="0.7" />
<line x1="43" y1="462.45" x2="44.2" y2="462.45" stroke="#111" stroke-width="0.7" />
<line x1="43" y1="487.75" x2="44.2" y2="487.75" stroke="#111" stroke-width="0.7" />
<line x1="43" y1="513.05" x2="44.2" y2="513.05" stroke="#111" stroke-width="0.7" />
<line x1="43" y1="538.35" x2="44.2" y2="538.35" stroke="#111" stroke-width="0.7" />
<line x1="199.4" y1="551" x2="197.4" y2="551" stroke="#111" stroke-width="0.8" />
<text x="202.4" y="554.9" font-size="10.4" font-weight="bold"><tspan textLength="9.8" lengthAdjust="spacingAndGlyphs">10</tspan><tspan font-size="6.8" dy="-4.16" dx="0.3">2</tspan></text>
<line x1="199.4" y1="519.38" x2="197.4" y2="519.38" stroke="#111" stroke-width="0.8" />
<text x="202.4" y="523.27" font-size="10.4" font-weight="bold"><tspan textLength="9.8" lengthAdjust="spacingAndGlyphs">10</tspan><tspan font-size="6.8" dy="-4.16" dx="0.3">3</tspan></text>
<line x1="199.4" y1="487.75" x2="197.4" y2="487.75" stroke="#111" stroke-width="0.8" />
<text x="202.4" y="491.65" font-size="10.4" font-weight="bold"><tspan textLength="9.8" lengthAdjust="spacingAndGlyphs">10</tspan><tspan font-size="6.8" dy="-4.16" dx="0.3">4</tspan></text>
<line x1="199.4" y1="456.12" x2="197.4" y2="456.12" stroke="#111" stroke-width="0.8" />
<text x="202.4" y="460.02" font-size="10.4" font-weight="bold"><tspan textLength="9.8" lengthAdjust="spacingAndGlyphs">10</tspan><tspan font-size="6.8" dy="-4.16" dx="0.3">5</tspan></text>
<line x1="199.4" y1="424.5" x2="197.4" y2="424.5" stroke="#111" stroke-width="0.8" />
<text x="202.4" y="428.4" font-size="10.4" font-weight="bold"><tspan textLength="9.8" lengthAdjust="spacingAndGlyphs">10</tspan><tspan font-size="6.8" dy="-4.16" dx="0.3">6</tspan></text>
<text x="117.3" y="576" font-size="11.9" font-weight="bold" text-anchor="middle">Voltage (V)</text>
<text x="19.8" y="494.2" font-size="11.7" font-weight="bold" text-anchor="middle" transform="rotate(-90 19.8 494.2)">Current Density (mA/cm<tspan font-size="8" dy="-4.5">2</tspan><tspan dy="4.5">)</tspan></text>
<text x="234.3" y="487.7" font-size="11.5" font-weight="bold" text-anchor="middle" transform="rotate(-90 234.3 487.7)">Luminance (cd/m<tspan font-size="8" dy="-4.5">2</tspan><tspan dy="4.5">)</tspan></text>
<text x="253.6" y="408" font-size="17.2" font-weight="bold">g)</text>
<defs><clipPath id="gclip"><rect x="282.7" y="424.7" width="156.2" height="126.3"/></clipPath></defs>
<g clip-path="url(#gclip)">
<polyline points="284.4,472.8 290.9,473.9 305.5,475.8 323.8,478.2 345.7,480.1 371.8,482.2 402.2,484 437.5,486.2" fill="none" stroke="#3daa78" stroke-width="1.1" />
<polyline points="285.8,471.4 290.9,469.2 304.8,471.4 324.5,475.8 348.6,477.2 378.2,479.9 415.5,482.2 438.9,482.8" fill="none" stroke="#e0621e" stroke-width="1.1" />
<rect x="281.85" y="470.25" width="5.1" height="5.1" fill="#fff" stroke="#7fcca8" stroke-width="0.9"/>
<rect x="288.35" y="471.35" width="5.1" height="5.1" fill="#fff" stroke="#7fcca8" stroke-width="0.9"/>
<rect x="302.95" y="473.25" width="5.1" height="5.1" fill="#fff" stroke="#7fcca8" stroke-width="0.9"/>
<rect x="321.25" y="475.65" width="5.1" height="5.1" fill="#fff" stroke="#7fcca8" stroke-width="0.9"/>
<rect x="343.15" y="477.55" width="5.1" height="5.1" fill="#fff" stroke="#7fcca8" stroke-width="0.9"/>
<rect x="369.25" y="479.65" width="5.1" height="5.1" fill="#fff" stroke="#7fcca8" stroke-width="0.9"/>
<rect x="399.65" y="481.45" width="5.1" height="5.1" fill="#fff" stroke="#7fcca8" stroke-width="0.9"/>
<rect x="434.95" y="483.65" width="5.1" height="5.1" fill="#fff" stroke="#7fcca8" stroke-width="0.9"/>
<rect x="283.25" y="468.85" width="5.1" height="5.1" fill="#fff" stroke="#f5b890" stroke-width="0.9"/>
<rect x="288.35" y="466.65" width="5.1" height="5.1" fill="#fff" stroke="#f5b890" stroke-width="0.9"/>
<rect x="302.25" y="468.85" width="5.1" height="5.1" fill="#fff" stroke="#f5b890" stroke-width="0.9"/>
<rect x="321.95" y="473.25" width="5.1" height="5.1" fill="#fff" stroke="#f5b890" stroke-width="0.9"/>
<rect x="346.05" y="474.65" width="5.1" height="5.1" fill="#fff" stroke="#f5b890" stroke-width="0.9"/>
<rect x="375.65" y="477.35" width="5.1" height="5.1" fill="#fff" stroke="#f5b890" stroke-width="0.9"/>
<rect x="412.95" y="479.65" width="5.1" height="5.1" fill="#fff" stroke="#f5b890" stroke-width="0.9"/>
<polyline points="284.4,461.9 290.9,462.2 304.8,461.9 323.8,462.6 345.7,462.6 371.8,463.3 401.9,464.2 437.5,464.8" fill="none" stroke="#3daa78" stroke-width="1.1" />
<polyline points="284.4,457.2 290.9,456.8 304.8,457.1 324.5,459.7 348.6,459.7 378.2,460.6 415.5,461.7 438.9,461.9" fill="none" stroke="#e0621e" stroke-width="1.1" />
<rect x="281.3" y="458.8" width="6.2" height="6.2" fill="#3daa78"/>
<rect x="287.8" y="459.1" width="6.2" height="6.2" fill="#3daa78"/>
<rect x="301.7" y="458.8" width="6.2" height="6.2" fill="#3daa78"/>
<rect x="320.7" y="459.5" width="6.2" height="6.2" fill="#3daa78"/>
<rect x="342.6" y="459.5" width="6.2" height="6.2" fill="#3daa78"/>
<rect x="368.7" y="460.2" width="6.2" height="6.2" fill="#3daa78"/>
<rect x="398.8" y="461.1" width="6.2" height="6.2" fill="#3daa78"/>
<rect x="434.4" y="461.7" width="6.2" height="6.2" fill="#3daa78"/>
<rect x="281.2" y="454" width="6.4" height="6.4" fill="#e0621e"/>
<rect x="287.7" y="453.6" width="6.4" height="6.4" fill="#e0621e"/>
<rect x="301.6" y="453.9" width="6.4" height="6.4" fill="#e0621e"/>
<rect x="321.3" y="456.5" width="6.4" height="6.4" fill="#e0621e"/>
<rect x="345.4" y="456.5" width="6.4" height="6.4" fill="#e0621e"/>
<rect x="375" y="457.4" width="6.4" height="6.4" fill="#e0621e"/>
<rect x="412.3" y="458.5" width="6.4" height="6.4" fill="#e0621e"/>
</g>
<ellipse cx="347.9" cy="455.3" rx="7.9" ry="15" fill="none" stroke="#111" stroke-width="0.9"/>
<line x1="347.9" y1="440.4" x2="336.4" y2="440.85" stroke="#111" stroke-width="1" /><polygon points="332.4,441 336.83,439.03 336.97,442.62" fill="#111"/>
<ellipse cx="407.8" cy="485.3" rx="8.7" ry="14.6" fill="none" stroke="#111" stroke-width="0.9"/>
<line x1="407.8" y1="470.6" x2="420.6" y2="470.45" stroke="#111" stroke-width="1" /><polygon points="424.6,470.4 420.12,472.25 420.08,468.65" fill="#111"/>
<rect x="282.7" y="424.7" width="156.2" height="126.3" fill="none" stroke="#111" stroke-width="1.3"/>
<line x1="282.6" y1="551" x2="282.6" y2="549" stroke="#111" stroke-width="0.8" />
<text x="282.6" y="562.2" font-size="11" font-weight="bold" text-anchor="middle" textLength="5.51" lengthAdjust="spacingAndGlyphs">0</text>
<line x1="304.91" y1="551" x2="304.91" y2="549" stroke="#111" stroke-width="0.8" />
<text x="304.91" y="562.2" font-size="11" font-weight="bold" text-anchor="middle" textLength="5.51" lengthAdjust="spacingAndGlyphs">1</text>
<line x1="327.22" y1="551" x2="327.22" y2="549" stroke="#111" stroke-width="0.8" />
<text x="327.22" y="562.2" font-size="11" font-weight="bold" text-anchor="middle" textLength="5.51" lengthAdjust="spacingAndGlyphs">2</text>
<line x1="349.53" y1="551" x2="349.53" y2="549" stroke="#111" stroke-width="0.8" />
<text x="349.53" y="562.2" font-size="11" font-weight="bold" text-anchor="middle" textLength="5.51" lengthAdjust="spacingAndGlyphs">3</text>
<line x1="371.84" y1="551" x2="371.84" y2="549" stroke="#111" stroke-width="0.8" />
<text x="371.84" y="562.2" font-size="11" font-weight="bold" text-anchor="middle" textLength="5.51" lengthAdjust="spacingAndGlyphs">4</text>
<line x1="394.15" y1="551" x2="394.15" y2="549" stroke="#111" stroke-width="0.8" />
<text x="394.15" y="562.2" font-size="11" font-weight="bold" text-anchor="middle" textLength="5.51" lengthAdjust="spacingAndGlyphs">5</text>
<line x1="416.46" y1="551" x2="416.46" y2="549" stroke="#111" stroke-width="0.8" />
<text x="416.46" y="562.2" font-size="11" font-weight="bold" text-anchor="middle" textLength="5.51" lengthAdjust="spacingAndGlyphs">6</text>
<line x1="438.77" y1="551" x2="438.77" y2="549" stroke="#111" stroke-width="0.8" />
<text x="438.77" y="562.2" font-size="11" font-weight="bold" text-anchor="middle" textLength="5.51" lengthAdjust="spacingAndGlyphs">7</text>
<line x1="282.7" y1="551" x2="284.7" y2="551" stroke="#111" stroke-width="0.8" />
<line x1="282.7" y1="538.33" x2="283.9" y2="538.33" stroke="#111" stroke-width="0.6" />
<line x1="282.7" y1="530.91" x2="283.9" y2="530.91" stroke="#111" stroke-width="0.6" />
<line x1="282.7" y1="525.65" x2="283.9" y2="525.65" stroke="#111" stroke-width="0.6" />
<line x1="282.7" y1="521.57" x2="283.9" y2="521.57" stroke="#111" stroke-width="0.6" />
<line x1="282.7" y1="518.24" x2="283.9" y2="518.24" stroke="#111" stroke-width="0.6" />
<line x1="282.7" y1="515.42" x2="283.9" y2="515.42" stroke="#111" stroke-width="0.6" />
<line x1="282.7" y1="512.98" x2="283.9" y2="512.98" stroke="#111" stroke-width="0.6" />
<line x1="282.7" y1="510.83" x2="283.9" y2="510.83" stroke="#111" stroke-width="0.6" />
<line x1="282.7" y1="508.9" x2="284.7" y2="508.9" stroke="#111" stroke-width="0.8" />
<line x1="282.7" y1="496.23" x2="283.9" y2="496.23" stroke="#111" stroke-width="0.6" />
<line x1="282.7" y1="488.81" x2="283.9" y2="488.81" stroke="#111" stroke-width="0.6" />
<line x1="282.7" y1="483.55" x2="283.9" y2="483.55" stroke="#111" stroke-width="0.6" />
<line x1="282.7" y1="479.47" x2="283.9" y2="479.47" stroke="#111" stroke-width="0.6" />
<line x1="282.7" y1="476.14" x2="283.9" y2="476.14" stroke="#111" stroke-width="0.6" />
<line x1="282.7" y1="473.32" x2="283.9" y2="473.32" stroke="#111" stroke-width="0.6" />
<line x1="282.7" y1="470.88" x2="283.9" y2="470.88" stroke="#111" stroke-width="0.6" />
<line x1="282.7" y1="468.73" x2="283.9" y2="468.73" stroke="#111" stroke-width="0.6" />
<line x1="282.7" y1="466.8" x2="284.7" y2="466.8" stroke="#111" stroke-width="0.8" />
<line x1="282.7" y1="454.13" x2="283.9" y2="454.13" stroke="#111" stroke-width="0.6" />
<line x1="282.7" y1="446.71" x2="283.9" y2="446.71" stroke="#111" stroke-width="0.6" />
<line x1="282.7" y1="441.45" x2="283.9" y2="441.45" stroke="#111" stroke-width="0.6" />
<line x1="282.7" y1="437.37" x2="283.9" y2="437.37" stroke="#111" stroke-width="0.6" />
<line x1="282.7" y1="434.04" x2="283.9" y2="434.04" stroke="#111" stroke-width="0.6" />
<line x1="282.7" y1="431.22" x2="283.9" y2="431.22" stroke="#111" stroke-width="0.6" />
<line x1="282.7" y1="428.78" x2="283.9" y2="428.78" stroke="#111" stroke-width="0.6" />
<line x1="282.7" y1="426.63" x2="283.9" y2="426.63" stroke="#111" stroke-width="0.6" />
<line x1="282.7" y1="424.7" x2="284.7" y2="424.7" stroke="#111" stroke-width="0.8" />
<text x="265.6" y="554.9" font-size="10.4" font-weight="bold"><tspan textLength="10.2" lengthAdjust="spacingAndGlyphs">10</tspan><tspan font-size="6.8" dy="-4.16" dx="0.3">0</tspan></text>
<text x="265.6" y="512.8" font-size="10.4" font-weight="bold"><tspan textLength="10.2" lengthAdjust="spacingAndGlyphs">10</tspan><tspan font-size="6.8" dy="-4.16" dx="0.3">1</tspan></text>
<text x="265.6" y="470.7" font-size="10.4" font-weight="bold"><tspan textLength="10.2" lengthAdjust="spacingAndGlyphs">10</tspan><tspan font-size="6.8" dy="-4.16" dx="0.3">2</tspan></text>
<text x="265.6" y="428.6" font-size="10.4" font-weight="bold"><tspan textLength="10.2" lengthAdjust="spacingAndGlyphs">10</tspan><tspan font-size="6.8" dy="-4.16" dx="0.3">3</tspan></text>
<line x1="438.9" y1="551" x2="436.9" y2="551" stroke="#111" stroke-width="0.8" />
<text x="442" y="554.9" font-size="10.4" font-weight="bold"><tspan textLength="10.2" lengthAdjust="spacingAndGlyphs">10</tspan><tspan font-size="6.8" dy="-4.16" dx="0.3">0</tspan></text>
<line x1="438.9" y1="539.35" x2="437.7" y2="539.35" stroke="#111" stroke-width="0.6" />
<line x1="438.9" y1="532.54" x2="437.7" y2="532.54" stroke="#111" stroke-width="0.6" />
<line x1="438.9" y1="527.7" x2="437.7" y2="527.7" stroke="#111" stroke-width="0.6" />
<line x1="438.9" y1="523.95" x2="437.7" y2="523.95" stroke="#111" stroke-width="0.6" />
<line x1="438.9" y1="520.89" x2="437.7" y2="520.89" stroke="#111" stroke-width="0.6" />
<line x1="438.9" y1="518.29" x2="437.7" y2="518.29" stroke="#111" stroke-width="0.6" />
<line x1="438.9" y1="516.05" x2="437.7" y2="516.05" stroke="#111" stroke-width="0.6" />
<line x1="438.9" y1="514.07" x2="437.7" y2="514.07" stroke="#111" stroke-width="0.6" />
<line x1="438.9" y1="512.3" x2="436.9" y2="512.3" stroke="#111" stroke-width="0.8" />
<text x="442" y="516.2" font-size="10.4" font-weight="bold"><tspan textLength="10.2" lengthAdjust="spacingAndGlyphs">10</tspan><tspan font-size="6.8" dy="-4.16" dx="0.3">1</tspan></text>
<line x1="438.9" y1="500.65" x2="437.7" y2="500.65" stroke="#111" stroke-width="0.6" />
<line x1="438.9" y1="493.84" x2="437.7" y2="493.84" stroke="#111" stroke-width="0.6" />
<line x1="438.9" y1="489" x2="437.7" y2="489" stroke="#111" stroke-width="0.6" />
<line x1="438.9" y1="485.25" x2="437.7" y2="485.25" stroke="#111" stroke-width="0.6" />
<line x1="438.9" y1="482.19" x2="437.7" y2="482.19" stroke="#111" stroke-width="0.6" />
<line x1="438.9" y1="479.59" x2="437.7" y2="479.59" stroke="#111" stroke-width="0.6" />
<line x1="438.9" y1="477.35" x2="437.7" y2="477.35" stroke="#111" stroke-width="0.6" />
<line x1="438.9" y1="475.37" x2="437.7" y2="475.37" stroke="#111" stroke-width="0.6" />
<line x1="438.9" y1="473.6" x2="436.9" y2="473.6" stroke="#111" stroke-width="0.8" />
<text x="442" y="477.5" font-size="10.4" font-weight="bold"><tspan textLength="10.2" lengthAdjust="spacingAndGlyphs">10</tspan><tspan font-size="6.8" dy="-4.16" dx="0.3">2</tspan></text>
<line x1="438.9" y1="461.95" x2="437.7" y2="461.95" stroke="#111" stroke-width="0.6" />
<line x1="438.9" y1="455.14" x2="437.7" y2="455.14" stroke="#111" stroke-width="0.6" />
<line x1="438.9" y1="450.3" x2="437.7" y2="450.3" stroke="#111" stroke-width="0.6" />
<line x1="438.9" y1="446.55" x2="437.7" y2="446.55" stroke="#111" stroke-width="0.6" />
<line x1="438.9" y1="443.49" x2="437.7" y2="443.49" stroke="#111" stroke-width="0.6" />
<line x1="438.9" y1="440.89" x2="437.7" y2="440.89" stroke="#111" stroke-width="0.6" />
<line x1="438.9" y1="438.65" x2="437.7" y2="438.65" stroke="#111" stroke-width="0.6" />
<line x1="438.9" y1="436.67" x2="437.7" y2="436.67" stroke="#111" stroke-width="0.6" />
<line x1="438.9" y1="434.9" x2="436.9" y2="434.9" stroke="#111" stroke-width="0.8" />
<text x="442" y="438.8" font-size="10.4" font-weight="bold"><tspan textLength="10.2" lengthAdjust="spacingAndGlyphs">10</tspan><tspan font-size="6.8" dy="-4.16" dx="0.3">3</tspan></text>
<text x="294.8" y="574.3" font-size="11.1" font-weight="bold">Luminance x 10<tspan font-size="7.5" dy="-4.2">4</tspan><tspan font-size="9.6" dy="4.2" dx="2.5">(cd/m</tspan><tspan font-size="6.8" dy="-4">2</tspan><tspan font-size="9.6" dy="4">)</tspan></text>
<text x="262.2" y="488.2" font-size="11.65" font-weight="bold" text-anchor="middle" transform="rotate(-90 262.2 488.2)">Current Efficiency (cd/A)</text>
<text x="467" y="491.6" font-size="12.2" font-weight="bold" text-anchor="middle" transform="rotate(-90 467 491.6)">Power Efficency (lm/W)</text>
<text x="482.2" y="410.8" font-size="19.5" font-weight="bold">h)</text>
<defs><clipPath id="hclip"><rect x="518.3" y="429.2" width="156.7" height="126.8"/></clipPath><linearGradient id="hspec" x1="0" y1="0" x2="1" y2="0"><stop offset="0.36" stop-color="#7ad86a"/><stop offset="0.43" stop-color="#4a9c3c"/><stop offset="0.48" stop-color="#3a8232"/><stop offset="0.55" stop-color="#46963a"/><stop offset="0.65" stop-color="#7ad86a"/></linearGradient></defs>
<g clip-path="url(#hclip)">
<polyline points="521.2,463.5 530.4,460.6 549.9,460.6 576,461.3 606.6,461.6 643,462.7 675,463.2" fill="none" stroke="#3aa070" stroke-width="1.1" />
<polyline points="520.7,454.3 529.9,454.1 548.8,454.5 576.5,457.8 611.1,458.5 652.8,459.9 675,460.6" fill="none" stroke="#e0621e" stroke-width="1.1" />
<rect x="516.7" y="460" width="6" height="6" fill="#e0621e"/>
<rect x="518.1" y="460.4" width="6.2" height="6.2" fill="#a6e6a2"/>
<rect x="527.3" y="457.5" width="6.2" height="6.2" fill="#a6e6a2"/>
<rect x="546.8" y="457.5" width="6.2" height="6.2" fill="#a6e6a2"/>
<rect x="572.9" y="458.2" width="6.2" height="6.2" fill="#a6e6a2"/>
<rect x="603.5" y="458.5" width="6.2" height="6.2" fill="#a6e6a2"/>
<rect x="639.9" y="459.6" width="6.2" height="6.2" fill="#a6e6a2"/>
<rect x="517.6" y="451.2" width="6.2" height="6.2" fill="#e0621e"/>
<rect x="526.8" y="451" width="6.2" height="6.2" fill="#e0621e"/>
<rect x="545.7" y="451.4" width="6.2" height="6.2" fill="#e0621e"/>
<rect x="573.4" y="454.7" width="6.2" height="6.2" fill="#e0621e"/>
<rect x="608" y="455.4" width="6.2" height="6.2" fill="#e0621e"/>
<rect x="649.7" y="456.8" width="6.2" height="6.2" fill="#e0621e"/>
</g>
<rect x="532.4" y="481.4" width="89.2" height="65.6" fill="#fff" stroke="#555" stroke-width="0.8"/>
<polygon points="532.4,547 532.4,547 532.7,547 532.99,547 533.29,547 533.59,547 533.89,547 534.18,547 534.48,547 534.78,547 535.08,547 535.37,547 535.67,547 535.97,547 536.27,547 536.56,547 536.86,546.99 537.16,546.99 537.45,546.99 537.75,546.99 538.05,546.99 538.35,546.99 538.64,546.99 538.94,546.99 539.24,546.99 539.54,546.99 539.83,546.99 540.13,546.99 540.43,546.99 540.73,546.99 541.02,546.99 541.32,546.99 541.62,546.99 541.91,546.99 542.21,546.99 542.51,546.99 542.81,546.99 543.1,546.99 543.4,546.99 543.7,546.99 544,546.99 544.29,546.98 544.59,546.98 544.89,546.98 545.19,546.98 545.48,546.98 545.78,546.98 546.08,546.98 546.37,546.98 546.67,546.98 546.97,546.98 547.27,546.97 547.56,546.97 547.86,546.97 548.16,546.97 548.46,546.97 548.75,546.97 549.05,546.96 549.35,546.96 549.65,546.96 549.94,546.96 550.24,546.95 550.54,546.95 550.83,546.95 551.13,546.94 551.43,546.94 551.73,546.94 552.02,546.93 552.32,546.93 552.62,546.92 552.92,546.92 553.21,546.91 553.51,546.9 553.81,546.9 554.11,546.89 554.4,546.88 554.7,546.87 555,546.86 555.29,546.85 555.59,546.84 555.89,546.83 556.19,546.81 556.48,546.8 556.78,546.78 557.08,546.76 557.38,546.74 557.67,546.72 557.97,546.69 558.27,546.66 558.57,546.63 558.86,546.6 559.16,546.56 559.46,546.51 559.75,546.47 560.05,546.41 560.35,546.35 560.65,546.28 560.94,546.21 561.24,546.12 561.54,546.02 561.84,545.91 562.13,545.79 562.43,545.65 562.73,545.49 563.03,545.31 563.32,545.11 563.62,544.87 563.92,544.6 564.21,544.3 564.51,543.95 564.81,543.54 565.11,543.08 565.4,542.55 565.7,541.94 566,541.23 566.3,540.42 566.59,539.48 566.89,538.41 567.19,537.17 567.49,535.75 567.78,534.12 568.08,532.26 568.38,530.15 568.67,527.76 568.97,525.08 569.27,522.09 569.57,518.8 569.86,515.21 570.16,511.37 570.46,507.31 570.76,503.14 571.05,498.94 571.35,494.87 571.65,491.07 571.95,487.71 572.24,484.96 572.54,482.96 572.84,481.83 573.13,481.63 573.43,482.17 573.73,483.35 574.03,485.14 574.32,487.45 574.62,490.2 574.92,493.3 575.22,496.63 575.51,500.11 575.81,503.64 576.11,507.15 576.41,510.58 576.7,513.87 577,516.98 577.3,519.9 577.59,522.61 577.89,525.1 578.19,527.37 578.49,529.44 578.78,531.3 579.08,532.98 579.38,534.48 579.68,535.83 579.97,537.03 580.27,538.09 580.57,539.04 580.87,539.89 581.16,540.64 581.46,541.3 581.76,541.9 582.05,542.42 582.35,542.89 582.65,543.3 582.95,543.67 583.24,544 583.54,544.29 583.84,544.55 584.14,544.79 584.43,545 584.73,545.18 585.03,545.35 585.33,545.5 585.62,545.63 585.92,545.75 586.22,545.86 586.51,545.96 586.81,546.05 587.11,546.13 587.41,546.2 587.7,546.27 588,546.32 588.3,546.38 588.6,546.43 588.89,546.47 589.19,546.51 589.49,546.55 589.79,546.58 590.08,546.61 590.38,546.64 590.68,546.67 590.97,546.69 591.27,546.71 591.57,546.73 591.87,546.75 592.16,546.77 592.46,546.78 592.76,546.8 593.06,546.81 593.35,546.82 593.65,546.83 593.95,546.84 594.25,546.85 594.54,546.86 594.84,546.87 595.14,546.88 595.43,546.89 595.73,546.89 596.03,546.9 596.33,546.91 596.62,546.91 596.92,546.92 597.22,546.92 597.52,546.92 597.81,546.93 598.11,546.93 598.41,546.94 598.71,546.94 599,546.94 599.3,546.95 599.6,546.95 599.89,546.95 600.19,546.95 600.49,546.96 600.79,546.96 601.08,546.96 601.38,546.96 601.68,546.96 601.98,546.97 602.27,546.97 602.57,546.97 602.87,546.97 603.17,546.97 603.46,546.97 603.76,546.97 604.06,546.98 604.35,546.98 604.65,546.98 604.95,546.98 605.25,546.98 605.54,546.98 605.84,546.98 606.14,546.98 606.44,546.98 606.73,546.98 607.03,546.98 607.33,546.98 607.63,546.99 607.92,546.99 608.22,546.99 608.52,546.99 608.81,546.99 609.11,546.99 609.41,546.99 609.71,546.99 610,546.99 610.3,546.99 610.6,546.99 610.9,546.99 611.19,546.99 611.49,546.99 611.79,546.99 612.09,546.99 612.38,546.99 612.68,546.99 612.98,546.99 613.27,546.99 613.57,546.99 613.87,546.99 614.17,546.99 614.46,546.99 614.76,546.99 615.06,546.99 615.36,546.99 615.65,546.99 615.95,546.99 616.25,547 616.55,547 616.84,547 617.14,547 617.44,547 617.73,547 618.03,547 618.33,547 618.63,547 618.92,547 619.22,547 619.52,547 619.82,547 620.11,547 620.41,547 620.71,547 621.01,547 621.3,547 621.6,547 621.6,547" fill="url(#hspec)"/>
<polyline points="532.4,547 532.7,547 532.99,547 533.29,547 533.59,547 533.89,547 534.18,547 534.48,547 534.78,547 535.08,547 535.37,547 535.67,547 535.97,547 536.27,547 536.56,547 536.86,546.99 537.16,546.99 537.45,546.99 537.75,546.99 538.05,546.99 538.35,546.99 538.64,546.99 538.94,546.99 539.24,546.99 539.54,546.99 539.83,546.99 540.13,546.99 540.43,546.99 540.73,546.99 541.02,546.99 541.32,546.99 541.62,546.99 541.91,546.99 542.21,546.99 542.51,546.99 542.81,546.99 543.1,546.99 543.4,546.99 543.7,546.99 544,546.99 544.29,546.98 544.59,546.98 544.89,546.98 545.19,546.98 545.48,546.98 545.78,546.98 546.08,546.98 546.37,546.98 546.67,546.98 546.97,546.98 547.27,546.97 547.56,546.97 547.86,546.97 548.16,546.97 548.46,546.97 548.75,546.97 549.05,546.96 549.35,546.96 549.65,546.96 549.94,546.96 550.24,546.95 550.54,546.95 550.83,546.95 551.13,546.94 551.43,546.94 551.73,546.94 552.02,546.93 552.32,546.93 552.62,546.92 552.92,546.92 553.21,546.91 553.51,546.9 553.81,546.9 554.11,546.89 554.4,546.88 554.7,546.87 555,546.86 555.29,546.85 555.59,546.84 555.89,546.83 556.19,546.81 556.48,546.8 556.78,546.78 557.08,546.76 557.38,546.74 557.67,546.72 557.97,546.69 558.27,546.66 558.57,546.63 558.86,546.6 559.16,546.56 559.46,546.51 559.75,546.47 560.05,546.41 560.35,546.35 560.65,546.28 560.94,546.21 561.24,546.12 561.54,546.02 561.84,545.91 562.13,545.79 562.43,545.65 562.73,545.49 563.03,545.31 563.32,545.11 563.62,544.87 563.92,544.6 564.21,544.3 564.51,543.95 564.81,543.54 565.11,543.08 565.4,542.55 565.7,541.94 566,541.23 566.3,540.42 566.59,539.48 566.89,538.41 567.19,537.17 567.49,535.75 567.78,534.12 568.08,532.26 568.38,530.15 568.67,527.76 568.97,525.08 569.27,522.09 569.57,518.8 569.86,515.21 570.16,511.37 570.46,507.31 570.76,503.14 571.05,498.94 571.35,494.87 571.65,491.07 571.95,487.71 572.24,484.96 572.54,482.96 572.84,481.83 573.13,481.63 573.43,482.17 573.73,483.35 574.03,485.14 574.32,487.45 574.62,490.2 574.92,493.3 575.22,496.63 575.51,500.11 575.81,503.64 576.11,507.15 576.41,510.58 576.7,513.87 577,516.98 577.3,519.9 577.59,522.61 577.89,525.1 578.19,527.37 578.49,529.44 578.78,531.3 579.08,532.98 579.38,534.48 579.68,535.83 579.97,537.03 580.27,538.09 580.57,539.04 580.87,539.89 581.16,540.64 581.46,541.3 581.76,541.9 582.05,542.42 582.35,542.89 582.65,543.3 582.95,543.67 583.24,544 583.54,544.29 583.84,544.55 584.14,544.79 584.43,545 584.73,545.18 585.03,545.35 585.33,545.5 585.62,545.63 585.92,545.75 586.22,545.86 586.51,545.96 586.81,546.05 587.11,546.13 587.41,546.2 587.7,546.27 588,546.32 588.3,546.38 588.6,546.43 588.89,546.47 589.19,546.51 589.49,546.55 589.79,546.58 590.08,546.61 590.38,546.64 590.68,546.67 590.97,546.69 591.27,546.71 591.57,546.73 591.87,546.75 592.16,546.77 592.46,546.78 592.76,546.8 593.06,546.81 593.35,546.82 593.65,546.83 593.95,546.84 594.25,546.85 594.54,546.86 594.84,546.87 595.14,546.88 595.43,546.89 595.73,546.89 596.03,546.9 596.33,546.91 596.62,546.91 596.92,546.92 597.22,546.92 597.52,546.92 597.81,546.93 598.11,546.93 598.41,546.94 598.71,546.94 599,546.94 599.3,546.95 599.6,546.95 599.89,546.95 600.19,546.95 600.49,546.96 600.79,546.96 601.08,546.96 601.38,546.96 601.68,546.96 601.98,546.97 602.27,546.97 602.57,546.97 602.87,546.97 603.17,546.97 603.46,546.97 603.76,546.97 604.06,546.98 604.35,546.98 604.65,546.98 604.95,546.98 605.25,546.98 605.54,546.98 605.84,546.98 606.14,546.98 606.44,546.98 606.73,546.98 607.03,546.98 607.33,546.98 607.63,546.99 607.92,546.99 608.22,546.99 608.52,546.99 608.81,546.99 609.11,546.99 609.41,546.99 609.71,546.99 610,546.99 610.3,546.99 610.6,546.99 610.9,546.99 611.19,546.99 611.49,546.99 611.79,546.99 612.09,546.99 612.38,546.99 612.68,546.99 612.98,546.99 613.27,546.99 613.57,546.99 613.87,546.99 614.17,546.99 614.46,546.99 614.76,546.99 615.06,546.99 615.36,546.99 615.65,546.99 615.95,546.99 616.25,547 616.55,547 616.84,547 617.14,547 617.44,547 617.73,547 618.03,547 618.33,547 618.63,547 618.92,547 619.22,547 619.52,547 619.82,547 620.11,547 620.41,547 620.71,547 621.01,547 621.3,547 621.6,547" fill="none" stroke="#6cd05a" stroke-width="0.8"/>
<rect x="532.4" y="481.4" width="89.2" height="65.6" fill="none" stroke="#555" stroke-width="0.8"/>
<line x1="532.4" y1="498" x2="533.6" y2="498" stroke="#555" stroke-width="0.6" />
<line x1="532.4" y1="514.5" x2="533.6" y2="514.5" stroke="#555" stroke-width="0.6" />
<line x1="532.4" y1="530.2" x2="533.6" y2="530.2" stroke="#555" stroke-width="0.6" />
<text x="532.4" y="553.4" font-size="7" text-anchor="middle" fill="#111">400</text>
<line x1="532.4" y1="547" x2="532.4" y2="545.8" stroke="#555" stroke-width="0.6" />
<text x="562.13" y="553.4" font-size="7" text-anchor="middle" fill="#111">500</text>
<line x1="562.13" y1="547" x2="562.13" y2="545.8" stroke="#555" stroke-width="0.6" />
<text x="591.87" y="553.4" font-size="7" text-anchor="middle" fill="#111">600</text>
<line x1="591.87" y1="547" x2="591.87" y2="545.8" stroke="#555" stroke-width="0.6" />
<text x="621.6" y="553.4" font-size="7" text-anchor="middle" fill="#111">700</text>
<line x1="621.6" y1="547" x2="621.6" y2="545.8" stroke="#555" stroke-width="0.6" />
<rect x="518.3" y="429.2" width="156.7" height="126.8" fill="none" stroke="#222" stroke-width="1.3"/>
<line x1="518" y1="556" x2="518" y2="554" stroke="#111" stroke-width="0.8" />
<text x="518" y="567.2" font-size="11" font-weight="bold" text-anchor="middle" textLength="5.51" lengthAdjust="spacingAndGlyphs">0</text>
<line x1="549.44" y1="556" x2="549.44" y2="554" stroke="#111" stroke-width="0.8" />
<text x="549.44" y="567.2" font-size="11" font-weight="bold" text-anchor="middle" textLength="5.51" lengthAdjust="spacingAndGlyphs">1</text>
<line x1="580.88" y1="556" x2="580.88" y2="554" stroke="#111" stroke-width="0.8" />
<text x="580.88" y="567.2" font-size="11" font-weight="bold" text-anchor="middle" textLength="5.51" lengthAdjust="spacingAndGlyphs">2</text>
<line x1="612.32" y1="556" x2="612.32" y2="554" stroke="#111" stroke-width="0.8" />
<text x="612.32" y="567.2" font-size="11" font-weight="bold" text-anchor="middle" textLength="5.51" lengthAdjust="spacingAndGlyphs">3</text>
<line x1="643.76" y1="556" x2="643.76" y2="554" stroke="#111" stroke-width="0.8" />
<text x="643.76" y="567.2" font-size="11" font-weight="bold" text-anchor="middle" textLength="5.51" lengthAdjust="spacingAndGlyphs">4</text>
<line x1="675.2" y1="556" x2="675.2" y2="554" stroke="#111" stroke-width="0.8" />
<text x="675.2" y="567.2" font-size="11" font-weight="bold" text-anchor="middle" textLength="5.51" lengthAdjust="spacingAndGlyphs">5</text>
<line x1="518.3" y1="556" x2="520.3" y2="556" stroke="#111" stroke-width="0.8" />
<line x1="518.3" y1="536.91" x2="519.5" y2="536.91" stroke="#111" stroke-width="0.6" />
<line x1="518.3" y1="525.75" x2="519.5" y2="525.75" stroke="#111" stroke-width="0.6" />
<line x1="518.3" y1="517.83" x2="519.5" y2="517.83" stroke="#111" stroke-width="0.6" />
<line x1="518.3" y1="511.69" x2="519.5" y2="511.69" stroke="#111" stroke-width="0.6" />
<line x1="518.3" y1="506.67" x2="519.5" y2="506.67" stroke="#111" stroke-width="0.6" />
<line x1="518.3" y1="502.42" x2="519.5" y2="502.42" stroke="#111" stroke-width="0.6" />
<line x1="518.3" y1="498.74" x2="519.5" y2="498.74" stroke="#111" stroke-width="0.6" />
<line x1="518.3" y1="495.5" x2="519.5" y2="495.5" stroke="#111" stroke-width="0.6" />
<line x1="518.3" y1="492.6" x2="520.3" y2="492.6" stroke="#111" stroke-width="0.8" />
<line x1="518.3" y1="473.51" x2="519.5" y2="473.51" stroke="#111" stroke-width="0.6" />
<line x1="518.3" y1="462.35" x2="519.5" y2="462.35" stroke="#111" stroke-width="0.6" />
<line x1="518.3" y1="454.43" x2="519.5" y2="454.43" stroke="#111" stroke-width="0.6" />
<line x1="518.3" y1="448.29" x2="519.5" y2="448.29" stroke="#111" stroke-width="0.6" />
<line x1="518.3" y1="443.27" x2="519.5" y2="443.27" stroke="#111" stroke-width="0.6" />
<line x1="518.3" y1="439.02" x2="519.5" y2="439.02" stroke="#111" stroke-width="0.6" />
<line x1="518.3" y1="435.34" x2="519.5" y2="435.34" stroke="#111" stroke-width="0.6" />
<line x1="518.3" y1="432.1" x2="519.5" y2="432.1" stroke="#111" stroke-width="0.6" />
<line x1="518.3" y1="429.2" x2="520.3" y2="429.2" stroke="#111" stroke-width="0.8" />
<text x="501.3" y="559.9" font-size="10.4" font-weight="bold"><tspan textLength="10.8" lengthAdjust="spacingAndGlyphs">10</tspan><tspan font-size="6.8" dy="-4.16" dx="0.3">0</tspan></text>
<text x="501.3" y="496.5" font-size="10.4" font-weight="bold"><tspan textLength="10.8" lengthAdjust="spacingAndGlyphs">10</tspan><tspan font-size="6.8" dy="-4.16" dx="0.3">1</tspan></text>
<text x="501.3" y="433.1" font-size="10.4" font-weight="bold"><tspan textLength="10.8" lengthAdjust="spacingAndGlyphs">10</tspan><tspan font-size="6.8" dy="-4.16" dx="0.3">2</tspan></text>
<text x="537.5" y="576.9" font-size="11.4" font-weight="bold">Luminance x10<tspan font-size="7.5" dy="-4.2">4</tspan><tspan font-size="9.8" dy="4.2" dx="2.5">(cd/m</tspan><tspan font-size="6.8" dy="-4">2</tspan><tspan font-size="9.8" dy="4">)</tspan></text>
<text x="498" y="492.9" font-size="11.4" font-weight="bold" text-anchor="middle" transform="rotate(-90 498 492.9)">EQE (%)</text>
</svg>
</body></html>
